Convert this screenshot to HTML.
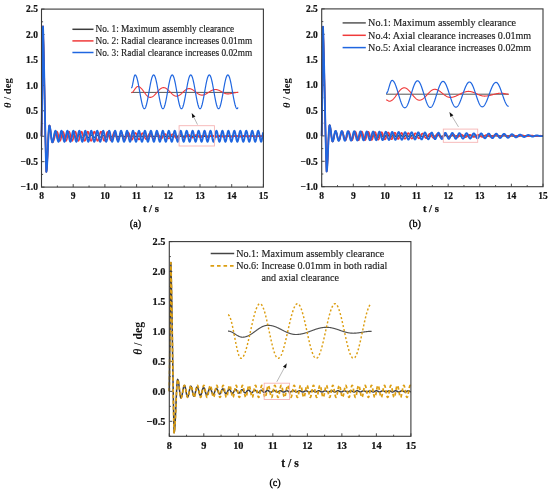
<!DOCTYPE html>
<html><head><meta charset="utf-8"><style>html,body{margin:0;padding:0;background:#fff}svg{display:block}</style></head>
<body><svg width="550" height="494" viewBox="0 0 550 494">
<rect width="550" height="494" fill="#ffffff"/>
<g font-family="'Liberation Serif','Times New Roman',serif" fill="#111">
<path d="M41.5 187.1h3M41.5 174.39h1.6M41.5 161.67h3M41.5 148.96h1.6M41.5 136.24h3M41.5 123.53h1.6M41.5 110.81h3M41.5 98.1h1.6M41.5 85.39h3M41.5 72.67h1.6M41.5 59.96h3M41.5 47.24h1.6M41.5 34.53h3M41.5 21.81h1.6M41.5 9.1h3M41.5 187.1v-3M57.35 187.1v-1.6M73.2 187.1v-3M89.05 187.1v-1.6M104.9 187.1v-3M120.75 187.1v-1.6M136.6 187.1v-3M152.45 187.1v-1.6M168.3 187.1v-3M184.15 187.1v-1.6M200 187.1v-3M215.85 187.1v-1.6M231.7 187.1v-3M247.55 187.1v-1.6M263.4 187.1v-3" stroke="#3a3a3a" stroke-width="0.9" fill="none"/>
<text x="37.9" y="190.33" text-anchor="end" font-size="9.5" font-weight="bold" stroke="#111" stroke-width="0.2">−1.0</text>
<text x="37.9" y="164.9" text-anchor="end" font-size="9.5" font-weight="bold" stroke="#111" stroke-width="0.2">−0.5</text>
<text x="37.9" y="139.47" text-anchor="end" font-size="9.5" font-weight="bold" stroke="#111" stroke-width="0.2">0.0</text>
<text x="37.9" y="114.04" text-anchor="end" font-size="9.5" font-weight="bold" stroke="#111" stroke-width="0.2">0.5</text>
<text x="37.9" y="88.62" text-anchor="end" font-size="9.5" font-weight="bold" stroke="#111" stroke-width="0.2">1.0</text>
<text x="37.9" y="63.19" text-anchor="end" font-size="9.5" font-weight="bold" stroke="#111" stroke-width="0.2">1.5</text>
<text x="37.9" y="37.76" text-anchor="end" font-size="9.5" font-weight="bold" stroke="#111" stroke-width="0.2">2.0</text>
<text x="37.9" y="12.33" text-anchor="end" font-size="9.5" font-weight="bold" stroke="#111" stroke-width="0.2">2.5</text>
<text x="41.5" y="198.8" text-anchor="middle" font-size="9.5" font-weight="bold" stroke="#111" stroke-width="0.2">8</text>
<text x="73.2" y="198.8" text-anchor="middle" font-size="9.5" font-weight="bold" stroke="#111" stroke-width="0.2">9</text>
<text x="104.9" y="198.8" text-anchor="middle" font-size="9.5" font-weight="bold" stroke="#111" stroke-width="0.2">10</text>
<text x="136.6" y="198.8" text-anchor="middle" font-size="9.5" font-weight="bold" stroke="#111" stroke-width="0.2">11</text>
<text x="168.3" y="198.8" text-anchor="middle" font-size="9.5" font-weight="bold" stroke="#111" stroke-width="0.2">12</text>
<text x="200" y="198.8" text-anchor="middle" font-size="9.5" font-weight="bold" stroke="#111" stroke-width="0.2">13</text>
<text x="231.7" y="198.8" text-anchor="middle" font-size="9.5" font-weight="bold" stroke="#111" stroke-width="0.2">14</text>
<text x="263.4" y="198.8" text-anchor="middle" font-size="9.5" font-weight="bold" stroke="#111" stroke-width="0.2">15</text>
<text x="150.9" y="212.3" text-anchor="middle" font-size="10.7" font-weight="bold" stroke="#111" stroke-width="0.25">t / s</text>
<text transform="translate(10.6 93.1) rotate(-90)" text-anchor="middle" font-size="10.7" font-weight="bold"><tspan font-style="italic">θ</tspan> / deg</text>
<text x="135.4" y="226.6" text-anchor="middle" font-size="10.1" fill="#000" stroke="#000" stroke-width="0.35">(a)</text>
<path d="M321.7 186.7h3M321.7 174h1.6M321.7 161.3h3M321.7 148.6h1.6M321.7 135.9h3M321.7 123.2h1.6M321.7 110.5h3M321.7 97.8h1.6M321.7 85.1h3M321.7 72.4h1.6M321.7 59.7h3M321.7 47h1.6M321.7 34.3h3M321.7 21.6h1.6M321.7 8.9h3M321.7 186.7v-3M337.51 186.7v-1.6M353.31 186.7v-3M369.12 186.7v-1.6M384.93 186.7v-3M400.74 186.7v-1.6M416.54 186.7v-3M432.35 186.7v-1.6M448.16 186.7v-3M463.96 186.7v-1.6M479.77 186.7v-3M495.58 186.7v-1.6M511.39 186.7v-3M527.19 186.7v-1.6M543 186.7v-3" stroke="#3a3a3a" stroke-width="0.9" fill="none"/>
<text x="317.8" y="189.93" text-anchor="end" font-size="9.5" font-weight="bold" stroke="#111" stroke-width="0.2">−1.0</text>
<text x="317.8" y="164.53" text-anchor="end" font-size="9.5" font-weight="bold" stroke="#111" stroke-width="0.2">−0.5</text>
<text x="317.8" y="139.13" text-anchor="end" font-size="9.5" font-weight="bold" stroke="#111" stroke-width="0.2">0.0</text>
<text x="317.8" y="113.73" text-anchor="end" font-size="9.5" font-weight="bold" stroke="#111" stroke-width="0.2">0.5</text>
<text x="317.8" y="88.33" text-anchor="end" font-size="9.5" font-weight="bold" stroke="#111" stroke-width="0.2">1.0</text>
<text x="317.8" y="62.93" text-anchor="end" font-size="9.5" font-weight="bold" stroke="#111" stroke-width="0.2">1.5</text>
<text x="317.8" y="37.53" text-anchor="end" font-size="9.5" font-weight="bold" stroke="#111" stroke-width="0.2">2.0</text>
<text x="317.8" y="12.13" text-anchor="end" font-size="9.5" font-weight="bold" stroke="#111" stroke-width="0.2">2.5</text>
<text x="321.7" y="199" text-anchor="middle" font-size="9.5" font-weight="bold" stroke="#111" stroke-width="0.2">8</text>
<text x="353.31" y="199" text-anchor="middle" font-size="9.5" font-weight="bold" stroke="#111" stroke-width="0.2">9</text>
<text x="384.93" y="199" text-anchor="middle" font-size="9.5" font-weight="bold" stroke="#111" stroke-width="0.2">10</text>
<text x="416.54" y="199" text-anchor="middle" font-size="9.5" font-weight="bold" stroke="#111" stroke-width="0.2">11</text>
<text x="448.16" y="199" text-anchor="middle" font-size="9.5" font-weight="bold" stroke="#111" stroke-width="0.2">12</text>
<text x="479.77" y="199" text-anchor="middle" font-size="9.5" font-weight="bold" stroke="#111" stroke-width="0.2">13</text>
<text x="511.39" y="199" text-anchor="middle" font-size="9.5" font-weight="bold" stroke="#111" stroke-width="0.2">14</text>
<text x="543" y="199" text-anchor="middle" font-size="9.5" font-weight="bold" stroke="#111" stroke-width="0.2">15</text>
<text x="430.9" y="212" text-anchor="middle" font-size="10.7" font-weight="bold" stroke="#111" stroke-width="0.25">t / s</text>
<text transform="translate(290.2 93.1) rotate(-90)" text-anchor="middle" font-size="10.7" font-weight="bold"><tspan font-style="italic">θ</tspan> / deg</text>
<text x="415" y="226.8" text-anchor="middle" font-size="10.1" fill="#000" stroke="#000" stroke-width="0.35">(b)</text>
<path d="M169.3 436.3h1.6M169.3 421.32h3M169.3 406.35h1.6M169.3 391.37h3M169.3 376.39h1.6M169.3 361.42h3M169.3 346.44h1.6M169.3 331.46h3M169.3 316.48h1.6M169.3 301.51h3M169.3 286.53h1.6M169.3 271.55h3M169.3 256.58h1.6M169.3 241.6h3M169.3 436.3v-3M186.56 436.3v-1.6M203.81 436.3v-3M221.07 436.3v-1.6M238.33 436.3v-3M255.59 436.3v-1.6M272.84 436.3v-3M290.1 436.3v-1.6M307.36 436.3v-3M324.61 436.3v-1.6M341.87 436.3v-3M359.13 436.3v-1.6M376.39 436.3v-3M393.64 436.3v-1.6M410.9 436.3v-3" stroke="#3a3a3a" stroke-width="0.9" fill="none"/>
<text x="165.4" y="424.83" text-anchor="end" font-size="10.3" font-weight="bold" stroke="#111" stroke-width="0.2">−0.5</text>
<text x="165.4" y="394.87" text-anchor="end" font-size="10.3" font-weight="bold" stroke="#111" stroke-width="0.2">0.0</text>
<text x="165.4" y="364.92" text-anchor="end" font-size="10.3" font-weight="bold" stroke="#111" stroke-width="0.2">0.5</text>
<text x="165.4" y="334.96" text-anchor="end" font-size="10.3" font-weight="bold" stroke="#111" stroke-width="0.2">1.0</text>
<text x="165.4" y="305.01" text-anchor="end" font-size="10.3" font-weight="bold" stroke="#111" stroke-width="0.2">1.5</text>
<text x="165.4" y="275.06" text-anchor="end" font-size="10.3" font-weight="bold" stroke="#111" stroke-width="0.2">2.0</text>
<text x="165.4" y="245.1" text-anchor="end" font-size="10.3" font-weight="bold" stroke="#111" stroke-width="0.2">2.5</text>
<text x="169.3" y="448.6" text-anchor="middle" font-size="10.3" font-weight="bold" stroke="#111" stroke-width="0.2">8</text>
<text x="203.81" y="448.6" text-anchor="middle" font-size="10.3" font-weight="bold" stroke="#111" stroke-width="0.2">9</text>
<text x="238.33" y="448.6" text-anchor="middle" font-size="10.3" font-weight="bold" stroke="#111" stroke-width="0.2">10</text>
<text x="272.84" y="448.6" text-anchor="middle" font-size="10.3" font-weight="bold" stroke="#111" stroke-width="0.2">11</text>
<text x="307.36" y="448.6" text-anchor="middle" font-size="10.3" font-weight="bold" stroke="#111" stroke-width="0.2">12</text>
<text x="341.87" y="448.6" text-anchor="middle" font-size="10.3" font-weight="bold" stroke="#111" stroke-width="0.2">13</text>
<text x="376.39" y="448.6" text-anchor="middle" font-size="10.3" font-weight="bold" stroke="#111" stroke-width="0.2">14</text>
<text x="410.9" y="448.6" text-anchor="middle" font-size="10.3" font-weight="bold" stroke="#111" stroke-width="0.2">15</text>
<text x="290" y="467.3" text-anchor="middle" font-size="11.6" font-weight="bold" stroke="#111" stroke-width="0.25">t / s</text>
<text transform="translate(142.2 338.3) rotate(-90)" text-anchor="middle" font-size="11.7" font-weight="bold"><tspan font-style="italic">θ</tspan> / deg</text>
<text x="275" y="486.2" text-anchor="middle" font-size="10.1" fill="#000" stroke="#000" stroke-width="0.35">(c)</text>
<path d="M41.5 136.24L41.75 121.77L42 102.83L42.25 81.32L42.5 59.8L42.75 40.87L43 26.39L43.25 34.4L43.51 43.85L43.76 54.61L44.02 66.48L44.27 79.18L44.52 92.41L44.78 105.82L45.03 119.05L45.28 131.76L45.54 143.62L45.79 154.38L46.05 163.83L46.3 171.84L46.56 171.05L46.82 168.74L47.07 165.07L47.33 160.27L47.59 154.69L47.85 148.7L48.11 142.71L48.37 137.13L48.62 132.34L48.88 128.66L49.14 126.35L49.4 125.56L49.65 125.85L49.9 126.69L50.15 128.02L50.4 129.76L50.65 131.78L50.9 133.95L51.15 136.13L51.4 138.15L51.65 139.89L51.9 141.22L52.15 142.06L52.4 142.35L52.65 142.16L52.9 141.61L53.15 140.73L53.4 139.59L53.65 138.26L53.9 136.83L54.15 135.41L54.4 134.08L54.65 132.94L54.9 132.06L55.15 131.51L55.4 131.32L55.65 131.48L55.9 131.94L56.15 132.68L56.4 133.64L56.65 134.76L56.9 135.96L57.15 137.17L57.4 138.29L57.65 139.25L57.9 139.99L58.15 140.45L58.4 140.61L58.65 140.47L58.9 140.06L59.15 139.4L59.4 138.55L59.65 137.56L59.9 136.49L60.15 135.42L60.4 134.43L60.65 133.58L60.9 132.92L61.15 132.51L61.4 132.37L61.65 132.5L61.9 132.86L62.15 133.44L62.4 134.2L62.65 135.08L62.9 136.02L63.15 136.97L63.4 137.85L63.65 138.61L63.9 139.19L64.15 139.55L64.4 139.68L64.65 139.57L64.9 139.24L65.15 138.73L65.4 138.06L65.65 137.28L65.9 136.44L66.15 135.6L66.4 134.82L66.65 134.15L66.9 133.63L67.15 133.31L67.4 133.2L67.65 133.3L67.9 133.58L68.15 134.04L68.4 134.63L68.65 135.33L68.9 136.07L69.15 136.81L69.4 137.51L69.65 138.1L69.9 138.56L70.15 138.85L70.4 138.94L70.65 138.86L70.9 138.6L71.15 138.2L71.4 137.67L71.65 137.05L71.9 136.4L72.15 135.74L72.4 135.12L72.65 134.59L72.9 134.19L73.15 133.93L73.4 133.85L73.65 133.92L73.9 134.15L74.15 134.51L74.4 134.98L74.65 135.52L74.9 136.11L75.15 136.69L75.4 137.24L75.65 137.71L75.9 138.06L76.15 138.29L76.4 138.37L76.65 138.3L76.9 138.1L77.15 137.78L77.4 137.37L77.65 136.88L77.9 136.36L78.15 135.84L78.4 135.36L78.65 134.95L78.9 134.63L79.15 134.43L79.4 134.36L79.65 134.42L79.9 134.6L80.15 134.88L80.4 135.25L80.65 135.68L80.9 136.14L81.15 136.6L81.4 137.03L81.65 137.39L81.9 137.68L82.15 137.85L82.4 137.91L82.65 137.86L82.9 137.7L83.15 137.45L83.4 137.13L83.65 136.75L83.9 136.34L84.15 135.93L84.4 135.55L84.65 135.22L84.9 134.97L85.15 134.81L85.4 134.76L85.65 134.81L85.9 134.95L86.15 135.17L86.4 135.46L86.65 135.8L86.9 136.16L87.15 136.52L87.4 136.86L87.65 137.15L87.9 137.37L88.15 137.51L88.4 137.56L88.65 137.52L88.9 137.39L89.15 137.19L89.4 136.94L89.65 136.64L89.9 136.32L90.15 136L90.4 135.7L90.65 135.44L90.9 135.24L91.15 135.12L91.4 135.08L91.65 135.11L91.9 135.22L92.15 135.4L92.4 135.63L92.65 135.89L92.9 136.18L93.15 136.46L93.4 136.73L93.65 136.95L93.9 137.13L94.15 137.24L94.4 137.28L94.65 137.24L94.9 137.15L95.15 136.99L95.4 136.79L95.65 136.55L95.9 136.3L96.15 136.05L96.4 135.81L96.65 135.61L96.9 135.46L97.15 135.36L97.4 135.33L97.65 135.36L97.9 135.44L98.15 135.58L98.4 135.76L98.65 135.97L98.9 136.19L99.15 136.41L99.4 136.62L99.65 136.8L99.9 136.94L100.15 137.03L100.4 137.06L100.65 137.03L100.9 136.95L101.15 136.83L101.4 136.67L101.65 136.49L101.9 136.29L102.15 136.09L102.4 135.91L102.65 135.75L102.9 135.62L103.15 135.55L103.4 135.52L103.65 135.54L103.9 135.61L104.15 135.72L104.4 135.86L104.65 136.03L104.9 136.2L105.15 136.38L105.4 136.54L105.65 136.68L105.9 136.79L106.15 136.86L106.4 136.88L106.65 136.86L106.9 136.8L107.15 136.71L107.4 136.58L107.65 136.44L107.9 136.28L108.15 136.12L108.4 135.98L108.65 135.85L108.9 135.76L109.15 135.7L109.4 135.68L109.65 135.69L109.9 135.75L110.15 135.83L110.4 135.94L110.65 136.07L110.9 136.21L111.15 136.35L111.4 136.48L111.65 136.59L111.9 136.67L112.15 136.73L112.4 136.75L112.65 136.73L112.9 136.68L113.15 136.61L113.4 136.51L113.65 136.39L113.9 136.27L114.15 136.15L114.4 136.03L114.65 135.94L114.9 135.86L115.15 135.81L115.4 135.8L115.65 135.81L115.9 135.85L116.15 135.92L116.4 136.01L116.65 136.11L116.9 136.22L117.15 136.33L117.4 136.43L117.65 136.52L117.9 136.58L118.15 136.62L118.4 136.64L118.65 136.63L118.9 136.59L119.15 136.53L119.4 136.45L119.65 136.36L119.9 136.27L120.15 136.17L120.4 136.08L120.65 136L120.9 135.94L121.15 135.9L121.4 135.89L121.65 135.9L121.9 135.94L122.15 135.99L122.4 136.06L122.65 136.14L122.9 136.22L123.15 136.31L123.4 136.39L123.65 136.46L123.9 136.51L124.15 136.54L124.4 136.55L124.65 136.54L124.9 136.51L125.15 136.47L125.4 136.41L125.65 136.34L125.9 136.26L126.15 136.18L126.4 136.11L126.65 136.05L126.9 136.01L127.15 135.98L127.4 135.97L127.65 135.98L127.9 136L128.15 136.04L128.4 136.1L128.65 136.16L128.9 136.23L129.15 136.29L129.4 136.36L129.65 136.41L129.9 136.45L130.15 136.48L130.4 136.49L130.65 136.48L130.9 136.46L131.15 136.42L131.4 136.37L131.65 136.32L131.9 136.26L132.15 136.2L132.4 136.14L132.65 136.09L132.9 136.06L133.15 136.03L133.4 136.03L133.65 136.03L133.9 136.05L134.15 136.09L134.4 136.13L134.65 136.18L134.9 136.23L135.15 136.28L135.4 136.33L135.65 136.38L135.9 136.41L136.15 136.43L136.4 136.44L136.65 136.43L136.9 136.41L137.15 136.38L137.4 136.34L137.65 136.3L137.9 136.25L138.15 136.21L138.4 136.16L138.65 136.13L138.9 136.1L139.15 136.08L139.4 136.07L139.65 136.08L139.9 136.09L140.15 136.12L140.4 136.15L140.65 136.19L140.9 136.23L141.15 136.27L141.4 136.31L141.65 136.35L141.9 136.37L142.15 136.39L142.4 136.39L142.65 136.39L142.9 136.38L143.15 136.35L143.4 136.32L143.65 136.29L143.9 136.25L144.15 136.21L144.4 136.18L144.65 136.15L144.9 136.13L145.15 136.11L145.4 136.11L145.65 136.11L145.9 136.13L146.15 136.15L146.4 136.17L146.65 136.2L146.9 136.24L147.15 136.27L147.4 136.3L147.65 136.32L147.9 136.35L148.15 136.36L148.4 136.36L148.65 136.36L148.9 136.35L149.15 136.33L149.4 136.31L149.65 136.28L149.9 136.25L150.15 136.22L150.4 136.19L150.65 136.17L150.9 136.15L151.15 136.14L151.4 136.14L151.65 136.14L151.9 136.15L152.15 136.17L152.4 136.19L152.65 136.21L152.9 136.24L153.15 136.26L153.4 136.29L153.65 136.31L153.9 136.32L154.15 136.33L154.4 136.34L154.65 136.33L154.9 136.32L155.15 136.31L155.4 136.29L155.65 136.27L155.9 136.25L156.15 136.23L156.4 136.2L156.65 136.19L156.9 136.17L157.15 136.16L157.4 136.16L157.65 136.16L157.9 136.17L158.15 136.18L158.4 136.2L158.65 136.22L158.9 136.24L159.15 136.26L159.4 136.28L159.65 136.29L159.9 136.31L160.15 136.31L160.4 136.32L160.65 136.31L160.9 136.31L161.15 136.3L161.4 136.28L161.65 136.27L161.9 136.25L162.15 136.23L162.4 136.21L162.65 136.2L162.9 136.19L163.15 136.18L163.4 136.18L163.65 136.18L163.9 136.19L164.15 136.2L164.4 136.21L164.65 136.22L164.9 136.24L165.15 136.26L165.4 136.27L165.65 136.28L165.9 136.29L166.15 136.3L166.4 136.3L166.65 136.3L166.9 136.29L167.15 136.28L167.4 136.27L167.65 136.26L167.9 136.25L168.15 136.23L168.4 136.22L168.65 136.21L168.9 136.2L169.15 136.19L169.4 136.19L169.65 136.19L169.9 136.2L170.15 136.21L170.4 136.22L170.65 136.23L170.9 136.24L171.15 136.25L171.4 136.26L171.65 136.27L171.9 136.28L172.15 136.29L172.4 136.29L172.65 136.29L172.9 136.28L173.15 136.28L173.4 136.27L173.65 136.26L173.9 136.25L174.15 136.23L174.4 136.22L174.65 136.21L174.9 136.21L175.15 136.2L175.4 136.2L175.65 136.2L175.9 136.21L176.15 136.21L176.4 136.22L176.65 136.23L176.9 136.24L177.15 136.25L177.4 136.26L177.65 136.27L177.9 136.27L178.15 136.28L178.4 136.28L178.65 136.28L178.9 136.27L179.15 136.27L179.4 136.26L179.65 136.25L179.9 136.24L180.15 136.24L180.4 136.23L180.65 136.22L180.9 136.22L181.15 136.21L181.4 136.21L181.65 136.21L181.9 136.22L182.15 136.22L182.4 136.23L182.65 136.23L182.9 136.24L183.15 136.25L183.4 136.26L183.65 136.26L183.9 136.27L184.15 136.27L184.4 136.27L184.65 136.27L184.9 136.27L185.15 136.26L185.4 136.26L185.65 136.25L185.9 136.24L186.15 136.24L186.4 136.23L186.65 136.23L186.9 136.22L187.15 136.22L187.4 136.22L187.65 136.22L187.9 136.22L188.15 136.22L188.4 136.23L188.65 136.24L188.9 136.24L189.15 136.25L189.4 136.25L189.65 136.26L189.9 136.26L190.15 136.26L190.4 136.27L190.65 136.26L190.9 136.26L191.15 136.26L191.4 136.25L191.65 136.25L191.9 136.24L192.15 136.24L192.4 136.23L192.65 136.23L192.9 136.23L193.15 136.22L193.4 136.22L193.65 136.22L193.9 136.23L194.15 136.23L194.4 136.23L194.65 136.24L194.9 136.24L195.15 136.25L195.4 136.25L195.65 136.25L195.9 136.26L196.15 136.26L196.4 136.26L196.65 136.26L196.9 136.26L197.15 136.26L197.4 136.25L197.65 136.25L197.9 136.24L198.15 136.24L198.4 136.24L198.65 136.23L198.9 136.23L199.15 136.23L199.4 136.23L199.65 136.23L199.9 136.23L200.15 136.23L200.4 136.23L200.65 136.24L200.9 136.24L201.15 136.25L201.4 136.25L201.65 136.25L201.9 136.25L202.15 136.26L202.4 136.26L202.65 136.26L202.9 136.25L203.15 136.25L203.4 136.25L203.65 136.25L203.9 136.24L204.15 136.24L204.4 136.24L204.65 136.23L204.9 136.23L205.15 136.23L205.4 136.23L205.65 136.23L205.9 136.23L206.15 136.23L206.4 136.24L206.65 136.24L206.9 136.24L207.15 136.25L207.4 136.25L207.65 136.25L207.9 136.25L208.15 136.25L208.4 136.25L208.65 136.25L208.9 136.25L209.15 136.25L209.4 136.25L209.65 136.25L209.9 136.24L210.15 136.24L210.4 136.24L210.65 136.24L210.9 136.23L211.15 136.23L211.4 136.23L211.65 136.23L211.9 136.23L212.15 136.24L212.4 136.24L212.65 136.24L212.9 136.24L213.15 136.24L213.4 136.25L213.65 136.25L213.9 136.25L214.15 136.25L214.4 136.25L214.65 136.25L214.9 136.25L215.15 136.25L215.4 136.25L215.65 136.25L215.9 136.24L216.15 136.24L216.4 136.24L216.65 136.24L216.9 136.24L217.15 136.24L217.4 136.24L217.65 136.24L217.9 136.24L218.15 136.24L218.4 136.24L218.65 136.24L218.9 136.24L219.15 136.24L219.4 136.25L219.65 136.25L219.9 136.25L220.15 136.25L220.4 136.25L220.65 136.25L220.9 136.25L221.15 136.25L221.4 136.25L221.65 136.24L221.9 136.24L222.15 136.24L222.4 136.24L222.65 136.24L222.9 136.24L223.15 136.24L223.4 136.24L223.65 136.24L223.9 136.24L224.15 136.24L224.4 136.24L224.65 136.24L224.9 136.24L225.15 136.24L225.4 136.25L225.65 136.25L225.9 136.25L226.15 136.25L226.4 136.25L226.65 136.25L226.9 136.25L227.15 136.25L227.4 136.25L227.65 136.24L227.9 136.24L228.15 136.24L228.4 136.24L228.65 136.24L228.9 136.24L229.15 136.24L229.4 136.24L229.65 136.24L229.9 136.24L230.15 136.24L230.4 136.24L230.65 136.24L230.9 136.24L231.15 136.24L231.4 136.24L231.65 136.25L231.9 136.25L232.15 136.25L232.4 136.25L232.65 136.25L232.9 136.25L233.15 136.25L233.4 136.25L233.65 136.24L233.9 136.24L234.15 136.24L234.4 136.24L234.65 136.24L234.9 136.24L235.15 136.24L235.4 136.24L235.65 136.24L235.9 136.24L236.15 136.24L236.4 136.24L236.65 136.24L236.9 136.24L237.15 136.24L237.4 136.24L237.65 136.25L237.9 136.25L238.15 136.25L238.4 136.25L238.65 136.25L238.9 136.25L239.15 136.25L239.4 136.24L239.65 136.24L239.9 136.24L240.15 136.24L240.4 136.24L240.65 136.24L240.9 136.24L241.15 136.24L241.4 136.24L241.65 136.24L241.9 136.24L242.15 136.24L242.4 136.24L242.65 136.24L242.9 136.24L243.15 136.24L243.4 136.24L243.65 136.24L243.9 136.25L244.15 136.25L244.4 136.25L244.65 136.25L244.9 136.25L245.15 136.24L245.4 136.24L245.65 136.24L245.9 136.24L246.15 136.24L246.4 136.24L246.65 136.24L246.9 136.24L247.15 136.24L247.4 136.24L247.65 136.24L247.9 136.24L248.15 136.24L248.4 136.24L248.65 136.24L248.9 136.24L249.15 136.24L249.4 136.24L249.65 136.24L249.9 136.24L250.15 136.24L250.4 136.24L250.65 136.24L250.9 136.24L251.15 136.24L251.4 136.24L251.65 136.24L251.9 136.24L252.15 136.24L252.4 136.24L252.65 136.24L252.9 136.24L253.15 136.24L253.4 136.24L253.67 136.24L253.95 136.24L254.22 136.24L254.49 136.24L254.76 136.24L255.04 136.24L255.31 136.24L255.58 136.24L255.85 136.24L256.13 136.24L256.4 136.24L256.65 136.24L256.9 136.24L257.15 136.24L257.4 136.24L257.65 136.24L257.9 136.24L258.15 136.24L258.4 136.24L258.65 136.24L258.9 136.24L259.15 136.24L259.4 136.24L259.65 136.24L259.9 136.24L260.15 136.24L260.4 136.24L260.65 136.24L260.9 136.24L261.15 136.24L261.4 136.24L261.65 136.24L261.9 136.24L262.15 136.24L262.4 136.24L262.65 136.24L262.9 136.24L263.15 136.24L263.4 136.24" stroke="#3c3c3c" stroke-width="1.3" fill="none" stroke-linejoin="round" />
<path d="M41.5 136.24L41.75 121.77L42 102.83L42.25 81.32L42.5 59.8L42.75 40.87L43 26.39L43.25 34.4L43.51 43.85L43.76 54.61L44.02 66.48L44.27 79.18L44.52 92.41L44.78 105.82L45.03 119.05L45.28 131.76L45.54 143.62L45.79 154.38L46.05 163.83L46.3 171.84L46.56 171.05L46.82 168.74L47.07 165.07L47.33 160.27L47.59 154.69L47.85 148.7L48.11 142.71L48.37 137.13L48.62 132.34L48.88 128.66L49.14 126.35L49.4 125.56L49.65 125.85L49.9 126.69L50.15 128.02L50.4 129.76L50.65 131.78L50.9 133.95L51.15 136.13L51.4 138.15L51.65 139.89L51.9 141.22L52.15 142.06L52.4 142.35L52.66 142.26L52.91 142.02L53.17 141.63L53.42 141.09L53.68 140.43L53.93 139.67L54.19 138.82L54.44 137.92L54.7 136.99L54.96 136.07L55.21 135.16L55.47 134.32L55.72 133.55L55.98 132.89L56.23 132.36L56.49 131.97L56.74 131.72L57 131.64L57.25 131.8L57.5 132.26L57.75 132.99L58 133.94L58.25 135.05L58.5 136.24L58.75 137.43L59 138.54L59.25 139.5L59.5 140.23L59.75 140.69L60 140.84L60.25 140.69L60.5 140.23L60.75 139.5L61 138.54L61.25 137.43L61.5 136.24L61.75 135.05L62 133.94L62.25 132.99L62.5 132.26L62.75 131.8L63 131.64L63.25 131.8L63.5 132.26L63.76 132.99L64.01 133.94L64.26 135.05L64.51 136.24L64.76 137.43L65.02 138.54L65.27 139.5L65.52 140.23L65.77 140.69L66.02 140.84L66.28 140.69L66.53 140.23L66.79 139.5L67.04 138.54L67.29 137.43L67.55 136.24L67.8 135.05L68.06 133.94L68.31 132.99L68.56 132.26L68.82 131.8L69.07 131.64L69.33 131.8L69.58 132.26L69.84 132.99L70.1 133.94L70.35 135.05L70.61 136.24L70.86 137.43L71.12 138.54L71.38 139.5L71.63 140.23L71.89 140.69L72.14 140.84L72.4 140.69L72.66 140.23L72.92 139.5L73.18 138.54L73.43 137.43L73.69 136.24L73.95 135.05L74.21 133.94L74.47 132.99L74.72 132.26L74.98 131.8L75.24 131.64L75.5 131.8L75.76 132.26L76.02 132.99L76.28 133.94L76.54 135.05L76.8 136.24L77.06 137.43L77.32 138.54L77.58 139.5L77.84 140.23L78.1 140.69L78.36 140.84L78.62 140.69L78.88 140.23L79.15 139.5L79.41 138.54L79.67 137.43L79.93 136.24L80.19 135.05L80.46 133.94L80.72 132.99L80.98 132.26L81.24 131.8L81.51 131.64L81.77 131.8L82.03 132.26L82.3 132.99L82.56 133.94L82.83 135.05L83.09 136.24L83.35 137.43L83.62 138.54L83.88 139.5L84.15 140.23L84.41 140.69L84.68 140.84L84.94 140.69L85.21 140.23L85.47 139.5L85.74 138.54L86.01 137.43L86.27 136.24L86.54 135.05L86.81 133.94L87.07 132.99L87.34 132.26L87.6 131.8L87.87 131.64L88.14 131.8L88.41 132.26L88.68 132.99L88.94 133.94L89.21 135.05L89.48 136.24L89.75 137.43L90.02 138.54L90.29 139.5L90.55 140.23L90.82 140.69L91.09 140.84L91.36 140.69L91.63 140.23L91.9 139.5L92.17 138.54L92.44 137.43L92.71 136.24L92.99 135.05L93.26 133.94L93.53 132.99L93.8 132.26L94.07 131.8L94.34 131.64L94.59 131.78L94.84 132.17L95.09 132.8L95.34 133.63L95.6 134.61L95.85 135.69L96.1 136.8L96.35 137.87L96.6 138.86L96.85 139.69L97.11 140.32L97.36 140.71L97.61 140.84L97.86 140.71L98.12 140.32L98.37 139.69L98.62 138.86L98.88 137.88L99.13 136.81L99.39 135.71L99.64 134.63L99.89 133.66L100.15 132.83L100.4 132.2L100.65 131.81L100.91 131.68L101.16 131.81L101.42 132.19L101.67 132.81L101.93 133.62L102.19 134.58L102.44 135.64L102.7 136.73L102.95 137.78L103.21 138.74L103.46 139.56L103.72 140.18L103.98 140.56L104.23 140.69L104.49 140.56L104.75 140.19L105 139.59L105.26 138.8L105.52 137.86L105.78 136.83L106.04 135.77L106.29 134.75L106.55 133.81L106.81 133.02L107.07 132.42L107.32 132.04L107.58 131.91L107.84 132.04L108.1 132.4L108.36 132.99L108.62 133.76L108.88 134.67L109.14 135.67L109.4 136.7L109.66 137.7L109.92 138.61L110.18 139.38L110.44 139.96L110.7 140.33L110.96 140.45L111.22 140.33L111.48 139.98L111.74 139.41L112.01 138.66L112.27 137.77L112.53 136.8L112.79 135.8L113.05 134.83L113.31 133.95L113.58 133.2L113.84 132.63L114.1 132.28L114.36 132.15L114.63 132.27L114.89 132.62L115.15 133.17L115.42 133.89L115.68 134.75L115.94 135.7L116.21 136.67L116.47 137.61L116.74 138.47L117 139.2L117.26 139.75L117.53 140.09L117.79 140.21L118.06 140.1L118.32 139.76L118.59 139.23L118.86 138.52L119.12 137.69L119.39 136.78L119.65 135.83L119.92 134.92L120.19 134.09L120.45 133.38L120.72 132.85L120.98 132.51L121.25 132.4L121.52 132.51L121.79 132.83L122.05 133.35L122.32 134.03L122.59 134.84L122.86 135.73L123.13 136.64L123.39 137.52L123.66 138.33L123.93 139.01L124.2 139.53L124.47 139.85L124.73 139.96L124.99 139.87L125.24 139.6L125.49 139.16L125.74 138.59L125.99 137.89L126.24 137.12L126.49 136.31L126.74 135.49L126.99 134.72L127.24 134.03L127.49 133.45L127.74 133.01L128 132.74L128.25 132.65L128.5 132.74L128.75 133L129.01 133.42L129.26 133.98L129.51 134.65L129.76 135.39L130.02 136.18L130.27 136.97L130.52 137.71L130.78 138.38L131.03 138.94L131.28 139.36L131.53 139.62L131.79 139.71L132.04 139.63L132.3 139.37L132.55 138.97L132.81 138.43L133.06 137.78L133.32 137.06L133.57 136.31L133.83 135.55L134.08 134.83L134.34 134.18L134.59 133.65L134.85 133.24L135.1 132.99L135.36 132.9L135.61 132.98L135.87 133.23L136.13 133.62L136.38 134.14L136.64 134.76L136.9 135.45L137.15 136.18L137.41 136.91L137.67 137.6L137.92 138.22L138.18 138.74L138.44 139.13L138.69 139.37L138.95 139.46L139.21 139.38L139.47 139.14L139.73 138.77L139.99 138.27L140.25 137.67L140.51 137.01L140.76 136.31L141.02 135.61L141.28 134.94L141.54 134.34L141.8 133.85L142.06 133.47L142.32 133.24L142.58 133.16L142.84 133.24L143.1 133.46L143.36 133.82L143.62 134.3L143.88 134.87L144.14 135.51L144.4 136.18L144.66 136.85L144.93 137.49L145.19 138.06L145.45 138.54L145.71 138.9L145.97 139.12L146.23 139.2L146.49 139.12L146.76 138.91L147.02 138.57L147.28 138.11L147.55 137.56L147.81 136.95L148.07 136.31L148.34 135.67L148.6 135.06L148.86 134.51L149.12 134.05L149.39 133.71L149.65 133.49L149.91 133.42L150.18 133.49L150.44 133.69L150.71 134.02L150.97 134.46L151.24 134.98L151.5 135.56L151.77 136.18L152.03 136.79L152.3 137.37L152.56 137.89L152.83 138.33L153.09 138.66L153.36 138.86L153.63 138.93L153.89 138.87L154.16 138.67L154.43 138.36L154.69 137.94L154.96 137.45L155.23 136.89L155.5 136.31L155.76 135.73L156.03 135.17L156.3 134.67L156.56 134.26L156.83 133.95L157.1 133.75L157.37 133.69L157.62 133.74L157.87 133.9L158.12 134.16L158.37 134.51L158.62 134.93L158.87 135.41L159.13 135.92L159.38 136.44L159.63 136.94L159.88 137.42L160.13 137.84L160.38 138.19L160.63 138.45L160.89 138.61L161.14 138.66L161.39 138.61L161.64 138.46L161.9 138.22L162.15 137.89L162.4 137.49L162.66 137.04L162.91 136.56L163.16 136.06L163.42 135.58L163.67 135.13L163.92 134.74L164.18 134.41L164.43 134.16L164.68 134.01L164.94 133.96L165.19 134L165.45 134.15L165.7 134.38L165.96 134.69L166.21 135.07L166.47 135.49L166.73 135.94L166.98 136.41L167.24 136.86L167.49 137.28L167.75 137.66L168 137.97L168.26 138.2L168.51 138.34L168.77 138.39L169.03 138.35L169.28 138.21L169.54 138L169.8 137.7L170.06 137.35L170.31 136.95L170.57 136.53L170.83 136.09L171.09 135.67L171.34 135.27L171.6 134.92L171.86 134.63L172.11 134.41L172.37 134.28L172.63 134.23L172.89 134.27L173.15 134.4L173.41 134.6L173.67 134.87L173.93 135.2L174.19 135.57L174.45 135.97L174.71 136.38L174.96 136.77L175.22 137.15L175.48 137.47L175.74 137.75L176 137.95L176.26 138.07L176.52 138.12L176.78 138.08L177.04 137.96L177.31 137.77L177.57 137.52L177.83 137.21L178.09 136.87L178.35 136.5L178.61 136.12L178.87 135.75L179.14 135.41L179.4 135.1L179.66 134.85L179.92 134.66L180.18 134.55L180.44 134.51L180.71 134.54L180.97 134.65L181.23 134.83L181.5 135.06L181.76 135.34L182.02 135.66L182.29 136.01L182.55 136.36L182.81 136.7L183.08 137.02L183.34 137.3L183.6 137.54L183.87 137.71L184.13 137.82L184.39 137.86L184.66 137.82L184.92 137.72L185.18 137.56L185.45 137.34L185.71 137.08L185.97 136.78L186.24 136.47L186.5 136.14L186.76 135.82L187.03 135.53L187.29 135.26L187.55 135.05L187.82 134.88L188.08 134.78L188.34 134.75L188.61 134.78L188.87 134.87L189.13 135.02L189.4 135.22L189.66 135.47L189.92 135.74L190.19 136.03L190.45 136.33L190.71 136.62L190.98 136.9L191.24 137.14L191.5 137.34L191.77 137.49L192.03 137.58L192.29 137.61L192.56 137.58L192.82 137.5L193.08 137.36L193.35 137.18L193.61 136.96L193.87 136.71L194.14 136.44L194.4 136.17L194.66 135.9L194.93 135.65L195.19 135.43L195.45 135.24L195.72 135.11L195.98 135.02L196.24 134.99L196.51 135.02L196.77 135.1L197.03 135.22L197.3 135.39L197.56 135.59L197.82 135.81L198.09 136.06L198.35 136.31L198.61 136.55L198.88 136.78L199.14 136.98L199.4 137.14L199.67 137.27L199.93 137.34L200.19 137.37L200.46 137.35L200.72 137.28L200.98 137.17L201.25 137.02L201.51 136.84L201.77 136.63L202.04 136.42L202.3 136.19L202.56 135.97L202.83 135.77L203.09 135.59L203.35 135.44L203.62 135.33L203.88 135.26L204.14 135.24L204.41 135.26L204.67 135.32L204.93 135.42L205.2 135.55L205.46 135.71L205.72 135.89L205.99 136.08L206.25 136.28L206.51 136.47L206.78 136.65L207.04 136.81L207.3 136.95L207.57 137.04L207.83 137.1L208.09 137.13L208.36 137.11L208.62 137.05L208.88 136.97L209.15 136.85L209.41 136.71L209.67 136.56L209.94 136.39L210.2 136.22L210.46 136.05L210.73 135.89L210.99 135.75L211.25 135.64L211.52 135.55L211.78 135.5L212.04 135.48L212.31 135.5L212.57 135.54L212.83 135.62L213.1 135.72L213.36 135.84L213.62 135.98L213.89 136.13L214.15 136.28L214.41 136.43L214.68 136.57L214.94 136.69L215.2 136.79L215.47 136.86L215.73 136.91L215.99 136.93L216.26 136.91L216.52 136.87L216.78 136.8L217.05 136.71L217.31 136.59L217.57 136.47L217.84 136.33L218.1 136.19L218.36 136.05L218.63 135.93L218.89 135.81L219.15 135.72L219.42 135.65L219.68 135.61L219.94 135.59L220.21 135.61L220.47 135.65L220.73 135.71L221 135.8L221.26 135.91L221.52 136.03L221.79 136.16L222.05 136.29L222.31 136.42L222.58 136.54L222.84 136.65L223.1 136.74L223.37 136.81L223.63 136.85L223.89 136.86L224.16 136.85L224.42 136.81L224.68 136.75L224.95 136.66L225.21 136.56L225.47 136.45L225.74 136.32L226 136.2L226.26 136.07L226.53 135.96L226.79 135.86L227.05 135.77L227.32 135.71L227.58 135.67L227.84 135.66L228.11 135.67L228.37 135.71L228.63 135.76L228.9 135.84L229.16 135.94L229.42 136.05L229.69 136.17L229.95 136.29L230.21 136.4L230.48 136.51L230.74 136.61L231 136.69L231.27 136.75L231.53 136.79L231.79 136.8L232.06 136.79L232.32 136.75L232.58 136.69L232.85 136.62L233.11 136.53L233.37 136.43L233.64 136.32L233.9 136.2L234.16 136.09L234.43 135.99L234.69 135.9L234.95 135.82L235.22 135.77L235.48 135.73L235.74 135.72L236.01 135.73L236.27 135.76L236.53 135.82L236.8 135.89L237.06 135.97L237.32 136.07L237.59 136.17L237.85 136.28L238.11 136.38L238.38 136.48L238.64 136.57L238.9 136.64L239.17 136.69L239.43 136.72L239.69 136.73L239.96 136.72L240.22 136.69L240.48 136.64L240.75 136.58L241.01 136.5L241.27 136.41L241.54 136.31L241.8 136.21L242.06 136.11L242.33 136.02L242.59 135.94L242.85 135.88L243.12 135.83L243.38 135.8L243.64 135.78L243.91 135.79L244.17 135.82L244.43 135.87L244.7 135.93L244.96 136.01L245.22 136.09L245.49 136.18L245.75 136.27L246.01 136.36L246.28 136.45L246.54 136.52L246.8 136.58L247.07 136.63L247.33 136.66L247.59 136.67L247.86 136.66L248.12 136.63L248.38 136.59L248.65 136.53L248.91 136.46L249.17 136.39L249.44 136.3L249.7 136.22L249.96 136.13L250.23 136.05L250.49 135.98L250.75 135.93L251.02 135.88L251.28 135.86L251.54 135.85L251.81 135.86L252.07 135.88L252.33 135.92L252.6 135.97L252.86 136.04L253.12 136.11L253.39 136.19L253.65 136.27L253.91 136.34L254.18 136.42L254.44 136.48L254.7 136.53L254.97 136.57L255.23 136.6L255.49 136.6L255.76 136.6L256.02 136.57L256.28 136.54L256.55 136.49L256.81 136.43L257.07 136.37L257.34 136.3L257.6 136.22L257.86 136.15L258.13 136.09L258.39 136.03L258.65 135.98L258.92 135.94L259.18 135.92L259.44 135.91L259.71 135.92L259.97 135.94L260.23 135.97L260.5 136.02L260.76 136.07L261.02 136.13L261.29 136.2L261.55 136.26L261.81 136.33L262.08 136.39L262.34 136.44L262.6 136.48L262.87 136.52L263.13 136.54L263.39 136.54L263.4 136.54L263.4 136.54" stroke="#f03a3a" stroke-width="1.6" fill="none" stroke-linejoin="round" />
<path d="M41.5 136.24L41.75 121.77L42 102.83L42.25 81.32L42.5 59.8L42.75 40.87L43 26.39L43.25 34.4L43.51 43.85L43.76 54.61L44.02 66.48L44.27 79.18L44.52 92.41L44.78 105.82L45.03 119.05L45.28 131.76L45.54 143.62L45.79 154.38L46.05 163.83L46.3 171.84L46.56 171.05L46.82 168.74L47.07 165.07L47.33 160.27L47.59 154.69L47.85 148.7L48.11 142.71L48.37 137.13L48.62 132.34L48.88 128.66L49.14 126.35L49.4 125.56L49.65 125.85L49.9 126.69L50.15 128.02L50.4 129.76L50.65 131.78L50.9 133.95L51.15 136.13L51.4 138.15L51.65 139.89L51.9 141.22L52.15 142.06L52.4 142.35L52.66 142.15L52.92 141.57L53.17 140.65L53.43 139.46L53.69 138.06L53.95 136.57L54.21 135.07L54.47 133.68L54.73 132.48L54.98 131.57L55.24 130.99L55.5 130.79L55.77 131.01L56.04 131.66L56.31 132.67L56.58 133.98L56.86 135.47L57.13 137.02L57.4 138.51L57.67 139.81L57.94 140.83L58.21 141.47L58.48 141.69L58.75 141.47L59.02 140.83L59.29 139.81L59.57 138.51L59.84 137.02L60.11 135.47L60.38 133.98L60.65 132.67L60.92 131.66L61.19 131.01L61.46 130.79L61.73 131.01L62 131.66L62.27 132.67L62.55 133.98L62.82 135.47L63.09 137.02L63.36 138.51L63.63 139.81L63.9 140.83L64.17 141.47L64.44 141.69L64.71 141.47L64.98 140.83L65.26 139.81L65.53 138.51L65.8 137.02L66.07 135.47L66.34 133.98L66.61 132.67L66.88 131.66L67.15 131.01L67.42 130.79L67.69 131.01L67.97 131.66L68.24 132.67L68.51 133.98L68.78 135.47L69.05 137.02L69.32 138.51L69.59 139.81L69.86 140.83L70.13 141.47L70.4 141.69L70.68 141.47L70.95 140.83L71.22 139.81L71.49 138.51L71.76 137.02L72.03 135.47L72.3 133.98L72.57 132.67L72.84 131.66L73.11 131.01L73.39 130.79L73.66 131.01L73.93 131.66L74.2 132.67L74.47 133.98L74.74 135.47L75.01 137.02L75.28 138.51L75.55 139.81L75.82 140.83L76.1 141.47L76.37 141.69L76.64 141.47L76.91 140.83L77.18 139.81L77.45 138.51L77.72 137.02L77.99 135.47L78.26 133.98L78.53 132.67L78.81 131.66L79.08 131.01L79.35 130.79L79.62 131.01L79.89 131.66L80.16 132.67L80.43 133.98L80.7 135.47L80.97 137.02L81.24 138.51L81.52 139.81L81.79 140.83L82.06 141.47L82.33 141.69L82.6 141.47L82.87 140.83L83.14 139.81L83.41 138.51L83.68 137.02L83.95 135.47L84.23 133.98L84.5 132.67L84.77 131.66L85.04 131.01L85.31 130.79L85.58 131.01L85.85 131.66L86.12 132.67L86.39 133.98L86.66 135.47L86.94 137.02L87.21 138.51L87.48 139.81L87.75 140.83L88.02 141.47L88.29 141.69L88.56 141.47L88.83 140.83L89.1 139.81L89.37 138.51L89.65 137.02L89.92 135.47L90.19 133.98L90.46 132.67L90.73 131.66L91 131.01L91.27 130.79L91.54 131.01L91.81 131.66L92.08 132.67L92.36 133.98L92.63 135.47L92.9 137.02L93.17 138.51L93.44 139.81L93.71 140.83L93.98 141.47L94.25 141.69L94.52 141.47L94.79 140.83L95.07 139.81L95.34 138.51L95.61 137.02L95.88 135.47L96.15 133.98L96.42 132.67L96.69 131.66L96.96 131.01L97.23 130.79L97.5 131.01L97.78 131.66L98.05 132.67L98.32 133.98L98.59 135.47L98.86 137.02L99.13 138.51L99.4 139.81L99.67 140.83L99.94 141.47L100.21 141.69L100.49 141.47L100.76 140.83L101.03 139.81L101.3 138.51L101.57 137.02L101.84 135.47L102.11 133.98L102.38 132.67L102.65 131.66L102.92 131.01L103.2 130.79L103.47 131.01L103.74 131.66L104.01 132.67L104.28 133.98L104.55 135.47L104.82 137.02L105.09 138.51L105.36 139.81L105.63 140.83L105.91 141.47L106.18 141.69L106.45 141.47L106.72 140.83L106.99 139.81L107.26 138.51L107.53 137.02L107.8 135.47L108.07 133.98L108.34 132.67L108.62 131.66L108.89 131.01L109.16 130.79L109.43 131.01L109.7 131.66L109.97 132.67L110.24 133.98L110.51 135.47L110.78 137.02L111.05 138.51L111.33 139.81L111.6 140.83L111.87 141.47L112.14 141.69L112.41 141.47L112.68 140.83L112.95 139.81L113.22 138.51L113.49 137.02L113.76 135.47L114.04 133.98L114.31 132.67L114.58 131.66L114.85 131.01L115.12 130.79L115.39 131.01L115.66 131.66L115.93 132.67L116.2 133.98L116.47 135.47L116.75 137.02L117.02 138.51L117.29 139.81L117.56 140.83L117.83 141.47L118.1 141.69L118.37 141.47L118.64 140.83L118.91 139.81L119.18 138.51L119.46 137.02L119.73 135.47L120 133.98L120.27 132.67L120.54 131.66L120.81 131.01L121.08 130.79L121.35 131.01L121.62 131.66L121.89 132.67L122.17 133.98L122.44 135.47L122.71 137.02L122.98 138.51L123.25 139.81L123.52 140.83L123.79 141.47L124.06 141.69L124.33 141.47L124.6 140.83L124.88 139.81L125.15 138.51L125.42 137.02L125.69 135.47L125.96 133.98L126.23 132.67L126.5 131.66L126.77 131.01L127.04 130.79L127.31 131.01L127.59 131.66L127.86 132.67L128.13 133.98L128.4 135.47L128.67 137.02L128.94 138.51L129.21 139.81L129.48 140.83L129.75 141.47L130.02 141.69L130.3 141.47L130.57 140.83L130.84 139.81L131.11 138.51L131.38 137.02L131.65 135.47L131.92 133.98L132.19 132.67L132.46 131.66L132.73 131.01L133.01 130.79L133.28 131.01L133.55 131.66L133.82 132.67L134.09 133.98L134.36 135.47L134.63 137.02L134.9 138.51L135.17 139.81L135.44 140.83L135.72 141.47L135.99 141.69L136.26 141.47L136.53 140.83L136.8 139.81L137.07 138.51L137.34 137.02L137.61 135.47L137.88 133.98L138.15 132.67L138.43 131.66L138.7 131.01L138.97 130.79L139.24 131.01L139.51 131.66L139.78 132.67L140.05 133.98L140.32 135.47L140.59 137.02L140.86 138.51L141.14 139.81L141.41 140.83L141.68 141.47L141.95 141.69L142.22 141.47L142.49 140.83L142.76 139.81L143.03 138.51L143.3 137.02L143.57 135.47L143.85 133.98L144.12 132.67L144.39 131.66L144.66 131.01L144.93 130.79L145.2 131.01L145.47 131.66L145.74 132.67L146.01 133.98L146.28 135.47L146.56 137.02L146.83 138.51L147.1 139.81L147.37 140.83L147.64 141.47L147.91 141.69L148.18 141.47L148.45 140.83L148.72 139.81L148.99 138.51L149.27 137.02L149.54 135.47L149.81 133.98L150.08 132.67L150.35 131.66L150.62 131.01L150.89 130.79L151.16 131.01L151.43 131.66L151.7 132.67L151.98 133.98L152.25 135.47L152.52 137.02L152.79 138.51L153.06 139.81L153.33 140.83L153.6 141.47L153.87 141.69L154.14 141.47L154.41 140.83L154.69 139.81L154.96 138.51L155.23 137.02L155.5 135.47L155.77 133.98L156.04 132.67L156.31 131.66L156.58 131.01L156.85 130.79L157.12 131.01L157.4 131.66L157.67 132.67L157.94 133.98L158.21 135.47L158.48 137.02L158.75 138.51L159.02 139.81L159.29 140.83L159.56 141.47L159.83 141.69L160.11 141.47L160.38 140.83L160.65 139.81L160.92 138.51L161.19 137.02L161.46 135.47L161.73 133.98L162 132.67L162.27 131.66L162.54 131.01L162.82 130.79L163.09 131.01L163.36 131.66L163.63 132.67L163.9 133.98L164.17 135.47L164.44 137.02L164.71 138.51L164.98 139.81L165.25 140.83L165.53 141.47L165.8 141.69L166.07 141.47L166.34 140.83L166.61 139.81L166.88 138.51L167.15 137.02L167.42 135.47L167.69 133.98L167.96 132.67L168.24 131.66L168.51 131.01L168.78 130.79L169.05 131.01L169.32 131.66L169.59 132.67L169.86 133.98L170.13 135.47L170.4 137.02L170.67 138.51L170.95 139.81L171.22 140.83L171.49 141.47L171.76 141.69L172.03 141.47L172.3 140.83L172.57 139.81L172.84 138.51L173.11 137.02L173.38 135.47L173.66 133.98L173.93 132.67L174.2 131.66L174.47 131.01L174.74 130.79L175.01 131.01L175.28 131.66L175.55 132.67L175.82 133.98L176.09 135.47L176.37 137.02L176.64 138.51L176.91 139.81L177.18 140.83L177.45 141.47L177.72 141.69L177.99 141.47L178.26 140.83L178.53 139.81L178.8 138.51L179.08 137.02L179.35 135.47L179.62 133.98L179.89 132.67L180.16 131.66L180.43 131.01L180.7 130.79L180.97 131.01L181.24 131.66L181.51 132.67L181.79 133.98L182.06 135.47L182.33 137.02L182.6 138.51L182.87 139.81L183.14 140.83L183.41 141.47L183.68 141.69L183.95 141.47L184.22 140.83L184.5 139.81L184.77 138.51L185.04 137.02L185.31 135.47L185.58 133.98L185.85 132.67L186.12 131.66L186.39 131.01L186.66 130.79L186.93 131.01L187.21 131.66L187.48 132.67L187.75 133.98L188.02 135.47L188.29 137.02L188.56 138.51L188.83 139.81L189.1 140.83L189.37 141.47L189.64 141.69L189.92 141.47L190.19 140.83L190.46 139.81L190.73 138.51L191 137.02L191.27 135.47L191.54 133.98L191.81 132.67L192.08 131.66L192.35 131.01L192.63 130.79L192.9 131.01L193.17 131.66L193.44 132.67L193.71 133.98L193.98 135.47L194.25 137.02L194.52 138.51L194.79 139.81L195.06 140.83L195.34 141.47L195.61 141.69L195.88 141.47L196.15 140.83L196.42 139.81L196.69 138.51L196.96 137.02L197.23 135.47L197.5 133.98L197.77 132.67L198.05 131.66L198.32 131.01L198.59 130.79L198.86 131.01L199.13 131.66L199.4 132.67L199.67 133.98L199.94 135.47L200.21 137.02L200.48 138.51L200.76 139.81L201.03 140.83L201.3 141.47L201.57 141.69L201.84 141.47L202.11 140.83L202.38 139.81L202.65 138.51L202.92 137.02L203.19 135.47L203.47 133.98L203.74 132.67L204.01 131.66L204.28 131.01L204.55 130.79L204.82 131.01L205.09 131.66L205.36 132.67L205.63 133.98L205.9 135.47L206.18 137.02L206.45 138.51L206.72 139.81L206.99 140.83L207.26 141.47L207.53 141.69L207.8 141.47L208.07 140.83L208.34 139.81L208.61 138.51L208.89 137.02L209.16 135.47L209.43 133.98L209.7 132.67L209.97 131.66L210.24 131.01L210.51 130.79L210.78 131.01L211.05 131.66L211.32 132.67L211.6 133.98L211.87 135.47L212.14 137.02L212.41 138.51L212.68 139.81L212.95 140.83L213.22 141.47L213.49 141.69L213.76 141.47L214.03 140.83L214.31 139.81L214.58 138.51L214.85 137.02L215.12 135.47L215.39 133.98L215.66 132.67L215.93 131.66L216.2 131.01L216.47 130.79L216.74 131.01L217.02 131.66L217.29 132.67L217.56 133.98L217.83 135.47L218.1 137.02L218.37 138.51L218.64 139.81L218.91 140.83L219.18 141.47L219.45 141.69L219.73 141.47L220 140.83L220.27 139.81L220.54 138.51L220.81 137.02L221.08 135.47L221.35 133.98L221.62 132.67L221.89 131.66L222.16 131.01L222.44 130.79L222.71 131.01L222.98 131.66L223.25 132.67L223.52 133.98L223.79 135.47L224.06 137.02L224.33 138.51L224.6 139.81L224.87 140.83L225.15 141.47L225.42 141.69L225.69 141.47L225.96 140.83L226.23 139.81L226.5 138.51L226.77 137.02L227.04 135.47L227.31 133.98L227.58 132.67L227.86 131.66L228.13 131.01L228.4 130.79L228.67 131.01L228.94 131.66L229.21 132.67L229.48 133.98L229.75 135.47L230.02 137.02L230.29 138.51L230.57 139.81L230.84 140.83L231.11 141.47L231.38 141.69L231.65 141.47L231.92 140.83L232.19 139.81L232.46 138.51L232.73 137.02L233 135.47L233.28 133.98L233.55 132.67L233.82 131.66L234.09 131.01L234.36 130.79L234.63 131.01L234.9 131.66L235.17 132.67L235.44 133.98L235.71 135.47L235.99 137.02L236.26 138.51L236.53 139.81L236.8 140.83L237.07 141.47L237.34 141.69L237.61 141.47L237.88 140.83L238.15 139.81L238.42 138.51L238.7 137.02L238.97 135.47L239.24 133.98L239.51 132.67L239.78 131.66L240.05 131.01L240.32 130.79L240.59 131.01L240.86 131.66L241.13 132.67L241.41 133.98L241.68 135.47L241.95 137.02L242.22 138.51L242.49 139.81L242.76 140.83L243.03 141.47L243.3 141.69L243.57 141.47L243.84 140.83L244.12 139.81L244.39 138.51L244.66 137.02L244.93 135.47L245.2 133.98L245.47 132.67L245.74 131.66L246.01 131.01L246.28 130.79L246.55 131.01L246.83 131.66L247.1 132.67L247.37 133.98L247.64 135.47L247.91 137.02L248.18 138.51L248.45 139.81L248.72 140.83L248.99 141.47L249.26 141.69L249.54 141.47L249.81 140.83L250.08 139.81L250.35 138.51L250.62 137.02L250.89 135.47L251.16 133.98L251.43 132.67L251.7 131.66L251.97 131.01L252.25 130.79L252.52 131.01L252.79 131.66L253.06 132.67L253.33 133.98L253.6 135.47L253.87 137.02L254.14 138.51L254.41 139.81L254.68 140.83L254.96 141.47L255.23 141.69L255.5 141.47L255.77 140.83L256.04 139.81L256.31 138.51L256.58 137.02L256.85 135.47L257.12 133.98L257.39 132.67L257.67 131.66L257.94 131.01L258.21 130.79L258.48 131.01L258.75 131.66L259.02 132.67L259.29 133.98L259.56 135.47L259.83 137.02L260.1 138.51L260.38 139.81L260.65 140.83L260.92 141.47L261.19 141.69L261.47 141.34L261.74 140.35L262.02 138.85L262.29 137.09L262.57 135.33L262.85 133.84L263.12 132.84L263.4 132.49" stroke="#1f66e0" stroke-width="1.9" fill="none" stroke-linejoin="round" />
<path d="M321.7 135.9L321.96 118.05L322.22 94.3L322.48 68.28L322.74 44.53L323 26.68L323.26 34.04L323.51 42.63L323.77 52.37L324.03 63.11L324.29 74.63L324.54 86.71L324.8 99.07L325.06 111.43L325.31 123.51L325.57 135.03L325.83 145.77L326.09 155.51L326.34 164.1L326.6 171.46L326.85 170.67L327.1 168.36L327.35 164.69L327.6 159.9L327.85 154.33L328.1 148.35L328.35 142.36L328.6 136.79L328.85 132L329.1 128.33L329.35 126.02L329.6 125.23L329.85 125.51L330.1 126.32L330.35 127.61L330.6 129.3L330.85 131.26L331.1 133.36L331.35 135.46L331.6 137.42L331.85 139.11L332.1 140.4L332.35 141.21L332.6 141.49L332.85 141.31L333.1 140.78L333.35 139.95L333.6 138.86L333.85 137.59L334.1 136.23L334.35 134.87L334.6 133.6L334.85 132.51L335.1 131.67L335.35 131.15L335.6 130.97L335.87 131.13L336.14 131.6L336.41 132.36L336.68 133.35L336.94 134.5L337.21 135.73L337.48 136.96L337.75 138.11L338.02 139.1L338.29 139.85L338.56 140.33L338.83 140.49L339.09 140.34L339.36 139.9L339.63 139.19L339.9 138.28L340.17 137.21L340.44 136.06L340.71 134.91L340.98 133.84L341.24 132.92L341.51 132.22L341.78 131.78L342.05 131.63L342.32 131.77L342.59 132.18L342.86 132.83L343.13 133.69L343.39 134.68L343.66 135.75L343.93 136.82L344.2 137.82L344.47 138.67L344.74 139.33L345.01 139.74L345.28 139.88L345.54 139.75L345.81 139.36L346.08 138.75L346.35 137.96L346.62 137.03L346.89 136.04L347.16 135.04L347.43 134.12L347.69 133.32L347.96 132.71L348.23 132.33L348.5 132.2L348.77 132.32L349.04 132.68L349.31 133.24L349.58 133.98L349.84 134.85L350.11 135.77L350.38 136.7L350.65 137.56L350.92 138.3L351.19 138.87L351.46 139.23L351.73 139.35L351.99 139.23L352.26 138.9L352.53 138.37L352.8 137.68L353.07 136.88L353.34 136.02L353.61 135.16L353.88 134.35L354.14 133.67L354.41 133.14L354.68 132.8L354.95 132.69L355.22 132.8L355.49 133.11L355.76 133.6L356.03 134.24L356.29 134.99L356.56 135.79L356.83 136.59L357.1 137.34L357.37 137.98L357.64 138.47L357.91 138.78L358.18 138.89L358.44 138.79L358.71 138.5L358.98 138.04L359.25 137.45L359.52 136.75L359.79 136L360.06 135.26L360.33 134.56L360.59 133.96L360.86 133.51L361.13 133.22L361.4 133.12L361.67 133.21L361.94 133.48L362.21 133.91L362.48 134.46L362.74 135.11L363.01 135.8L363.28 136.5L363.55 137.15L363.82 137.7L364.09 138.13L364.36 138.4L364.63 138.49L364.89 138.4L365.16 138.15L365.43 137.76L365.7 137.24L365.97 136.64L366.24 135.99L366.51 135.34L366.78 134.74L367.04 134.22L367.31 133.83L367.58 133.58L367.85 133.49L368.12 133.57L368.39 133.8L368.66 134.17L368.93 134.65L369.19 135.21L369.46 135.82L369.73 136.42L370 136.98L370.27 137.46L370.54 137.83L370.81 138.06L371.08 138.14L371.34 138.07L371.61 137.85L371.88 137.51L372.15 137.06L372.42 136.54L372.69 135.98L372.96 135.42L373.23 134.89L373.49 134.45L373.76 134.1L374.03 133.89L374.3 133.81L374.57 133.88L374.84 134.08L375.11 134.4L375.38 134.82L375.64 135.31L375.91 135.83L376.18 136.35L376.45 136.84L376.72 137.25L376.99 137.57L377.26 137.77L377.53 137.84L377.79 137.78L378.06 137.59L378.33 137.29L378.6 136.91L378.87 136.45L379.14 135.97L379.41 135.48L379.68 135.03L379.94 134.64L380.21 134.34L380.48 134.15L380.75 134.09L381.02 134.15L381.29 134.32L381.56 134.6L381.83 134.96L382.09 135.39L382.36 135.84L382.63 136.29L382.9 136.71L383.17 137.07L383.44 137.35L383.71 137.52L383.98 137.58L384.24 137.53L384.51 137.37L384.78 137.11L385.05 136.77L385.32 136.38L385.59 135.96L385.86 135.54L386.13 135.15L386.39 134.81L386.66 134.55L386.93 134.39L387.2 134.33L387.47 134.38L387.74 134.54L388.01 134.78L388.28 135.09L388.54 135.45L388.81 135.85L389.08 136.24L389.35 136.6L389.62 136.92L389.89 137.16L390.16 137.31L390.43 137.36L390.69 137.31L390.96 137.17L391.23 136.95L391.5 136.65L391.77 136.32L392.04 135.95L392.31 135.59L392.58 135.25L392.84 134.95L393.11 134.73L393.38 134.59L393.65 134.54L393.92 134.59L394.19 134.72L394.46 134.93L394.73 135.2L394.99 135.51L395.26 135.85L395.53 136.19L395.8 136.51L396.07 136.78L396.34 136.99L396.61 137.12L396.88 137.16L397.14 137.12L397.41 137L397.68 136.81L397.95 136.55L398.22 136.26L398.49 135.94L398.76 135.63L399.03 135.33L399.29 135.08L399.56 134.89L399.83 134.76L400.1 134.72L400.37 134.76L400.64 134.88L400.91 135.06L401.18 135.29L401.44 135.57L401.71 135.86L401.98 136.15L402.25 136.43L402.52 136.66L402.79 136.84L403.06 136.96L403.33 137L403.59 136.96L403.86 136.85L404.13 136.69L404.4 136.47L404.67 136.21L404.94 135.94L405.21 135.66L405.48 135.41L405.74 135.19L406.01 135.02L406.28 134.92L406.55 134.88L406.82 134.91L407.09 135.01L407.36 135.17L407.63 135.37L407.89 135.61L408.16 135.86L408.43 136.12L408.7 136.36L408.97 136.56L409.24 136.72L409.51 136.82L409.78 136.85L410.04 136.82L410.31 136.73L410.58 136.58L410.85 136.39L411.12 136.17L411.39 135.93L411.66 135.7L411.93 135.47L412.19 135.28L412.46 135.14L412.73 135.05L413 135.02L413.27 135.05L413.54 135.13L413.81 135.27L414.08 135.44L414.34 135.65L414.61 135.87L414.88 136.09L415.15 136.3L415.42 136.47L415.69 136.61L415.96 136.69L416.23 136.72L416.49 136.7L416.76 136.62L417.03 136.49L417.3 136.33L417.57 136.13L417.84 135.93L418.11 135.72L418.38 135.53L418.64 135.37L418.91 135.24L419.18 135.16L419.45 135.13L419.72 135.16L419.99 135.23L420.26 135.35L420.53 135.5L420.79 135.68L421.06 135.87L421.33 136.06L421.6 136.24L421.87 136.4L422.14 136.51L422.41 136.59L422.68 136.61L422.94 136.59L423.21 136.52L423.48 136.41L423.75 136.27L424.02 136.1L424.29 135.92L424.56 135.75L424.83 135.58L425.09 135.44L425.36 135.33L425.63 135.26L425.9 135.24L426.17 135.26L426.44 135.32L426.71 135.42L426.98 135.56L427.24 135.71L427.51 135.88L427.78 136.04L428.05 136.2L428.32 136.33L428.59 136.43L428.86 136.5L429.13 136.52L429.39 136.5L429.66 136.44L429.93 136.34L430.2 136.22L430.47 136.08L430.74 135.92L431.01 135.77L431.28 135.62L431.54 135.5L431.81 135.41L432.08 135.35L432.35 135.33L432.62 135.34L432.89 135.4L433.16 135.49L433.43 135.6L433.69 135.74L433.96 135.88L434.23 136.02L434.5 136.16L434.77 136.27L435.04 136.36L435.31 136.42L435.58 136.43L435.84 136.42L436.11 136.37L436.38 136.28L436.65 136.18L436.92 136.05L437.19 135.92L437.46 135.78L437.73 135.66L437.99 135.55L438.26 135.47L438.53 135.42L438.8 135.4L439.07 135.42L439.34 135.47L439.61 135.54L439.88 135.64L440.14 135.76L440.41 135.88L440.68 136.01L440.95 136.12L441.22 136.22L441.49 136.3L441.76 136.35L442.03 136.36L442.29 136.35L442.56 136.3L442.83 136.23L443.1 136.14L443.37 136.03L443.64 135.92L443.91 135.8L444.18 135.69L444.44 135.6L444.71 135.53L444.98 135.48L445.25 135.47L445.52 135.48L445.79 135.52L446.06 135.59L446.33 135.68L446.59 135.78L446.86 135.89L447.13 135.99L447.4 136.09L447.67 136.18L447.94 136.25L448.21 136.29L448.48 136.3L448.74 136.29L449.01 136.25L449.28 136.19L449.55 136.11L449.82 136.01L450.09 135.91L450.36 135.81L450.63 135.72L450.89 135.64L451.16 135.58L451.43 135.54L451.7 135.53L451.97 135.54L452.24 135.57L452.51 135.63L452.78 135.71L453.04 135.79L453.31 135.89L453.58 135.98L453.85 136.07L454.12 136.14L454.39 136.2L454.66 136.24L454.93 136.25L455.19 136.24L455.46 136.2L455.73 136.15L456 136.08L456.27 136L456.54 135.91L456.81 135.83L457.08 135.74L457.34 135.67L457.61 135.62L457.88 135.59L458.15 135.58L458.42 135.59L458.69 135.62L458.96 135.67L459.23 135.73L459.49 135.81L459.76 135.89L460.03 135.97L460.3 136.05L460.57 136.11L460.84 136.16L461.11 136.19L461.38 136.2L461.64 136.19L461.91 136.16L462.18 136.12L462.45 136.06L462.72 135.99L462.99 135.91L463.26 135.84L463.53 135.76L463.79 135.7L464.06 135.66L464.33 135.63L464.6 135.62L464.87 135.63L465.14 135.66L465.41 135.7L465.68 135.75L465.94 135.82L466.21 135.89L466.48 135.96L466.75 136.03L467.02 136.08L467.29 136.12L467.56 136.15L467.83 136.16L468.09 136.15L468.36 136.13L468.63 136.09L468.9 136.04L469.17 135.97L469.44 135.91L469.71 135.84L469.98 135.78L470.24 135.73L470.51 135.69L470.78 135.67L471.05 135.66L471.32 135.66L471.59 135.69L471.86 135.73L472.13 135.77L472.39 135.83L472.66 135.89L472.93 135.95L473.2 136.01L473.47 136.06L473.74 136.09L474.01 136.12L474.28 136.13L474.54 136.12L474.81 136.1L475.08 136.06L475.35 136.02L475.62 135.96L475.89 135.91L476.16 135.85L476.43 135.8L476.69 135.75L476.96 135.72L477.23 135.7L477.5 135.69L477.77 135.7L478.04 135.72L478.31 135.75L478.58 135.79L478.84 135.84L479.11 135.89L479.38 135.95L479.65 135.99L479.92 136.04L480.19 136.07L480.46 136.09L480.73 136.1L480.99 136.09L481.26 136.07L481.53 136.04L481.8 136L482.07 135.96L482.34 135.91L482.61 135.86L482.88 135.81L483.14 135.77L483.41 135.74L483.68 135.72L483.95 135.72L484.22 135.72L484.49 135.74L484.76 135.77L485.03 135.81L485.29 135.85L485.56 135.89L485.83 135.94L486.1 135.98L486.37 136.02L486.64 136.05L486.91 136.06L487.18 136.07L487.44 136.06L487.71 136.05L487.98 136.02L488.25 135.99L488.52 135.95L488.79 135.91L489.06 135.86L489.33 135.82L489.59 135.79L489.86 135.76L490.13 135.75L490.4 135.74L490.67 135.75L490.94 135.76L491.21 135.79L491.48 135.82L491.74 135.86L492.01 135.89L492.28 135.93L492.55 135.97L492.82 136L493.09 136.03L493.36 136.04L493.63 136.05L493.89 136.04L494.16 136.03L494.43 136.01L494.7 135.98L494.97 135.94L495.24 135.91L495.51 135.87L495.78 135.83L496.04 135.8L496.31 135.78L496.58 135.77L496.85 135.76L497.12 135.77L497.39 135.78L497.66 135.8L497.93 135.83L498.19 135.86L498.46 135.9L498.73 135.93L499 135.96L499.27 135.99L499.54 136.01L499.81 136.02L500.08 136.03L500.34 136.02L500.61 136.01L500.88 135.99L501.15 135.97L501.42 135.94L501.69 135.9L501.96 135.87L502.23 135.84L502.49 135.82L502.76 135.8L503.03 135.79L503.3 135.78L503.57 135.79L503.84 135.8L504.11 135.81L504.38 135.84L504.64 135.87L504.91 135.9L505.18 135.93L505.45 135.95L505.72 135.98L505.99 136L506.26 136.01L506.53 136.01L506.79 136.01L507.06 136L507.33 135.98L507.6 135.96L507.87 135.93L508.14 135.9L508.41 135.88L508.68 135.85L508.94 135.83L509.21 135.81L509.48 135.8L509.75 135.8L510.02 135.8L510.29 135.81L510.56 135.83L510.83 135.85L511.09 135.87L511.36 135.9L511.63 135.92L511.9 135.95L512.17 135.97L512.44 135.98L512.71 135.99L512.98 136L513.24 135.99L513.51 135.98L513.78 135.97L514.05 135.95L514.32 135.93L514.59 135.9L514.86 135.88L515.13 135.86L515.39 135.84L515.66 135.82L515.93 135.81L516.2 135.81L516.47 135.81L516.74 135.82L517.01 135.84L517.28 135.85L517.54 135.87L517.81 135.9L518.08 135.92L518.35 135.94L518.62 135.96L518.89 135.97L519.16 135.98L519.43 135.98L519.69 135.98L519.96 135.97L520.23 135.96L520.5 135.94L520.77 135.92L521.04 135.9L521.31 135.88L521.58 135.86L521.84 135.85L522.11 135.83L522.38 135.83L522.65 135.82L522.92 135.83L523.19 135.83L523.46 135.84L523.73 135.86L523.99 135.88L524.26 135.9L524.53 135.92L524.8 135.93L525.07 135.95L525.34 135.96L525.61 135.97L525.88 135.97L526.14 135.97L526.41 135.96L526.68 135.95L526.95 135.94L527.22 135.92L527.49 135.9L527.76 135.88L528.03 135.87L528.29 135.85L528.56 135.84L528.83 135.84L529.1 135.83L529.37 135.84L529.64 135.84L529.91 135.85L530.18 135.87L530.44 135.88L530.71 135.9L530.98 135.91L531.25 135.93L531.52 135.94L531.79 135.95L532.06 135.96L532.33 135.96L532.59 135.96L532.86 135.95L533.13 135.94L533.4 135.93L533.67 135.92L533.94 135.9L534.21 135.89L534.48 135.87L534.74 135.86L535.01 135.85L535.28 135.84L535.55 135.84L535.82 135.84L536.09 135.85L536.36 135.86L536.63 135.87L536.89 135.88L537.16 135.9L537.43 135.91L537.7 135.93L537.97 135.94L538.24 135.95L538.51 135.95L538.78 135.95L539.04 135.95L539.31 135.95L539.58 135.94L539.85 135.93L540.12 135.92L540.39 135.9L540.66 135.89L540.93 135.88L541.19 135.87L541.46 135.86L541.73 135.85L542 135.85L542.33 135.86L542.67 135.87L543 135.87" stroke="#3c3c3c" stroke-width="1.3" fill="none" stroke-linejoin="round" />
<path d="M321.7 135.9L321.96 118.05L322.22 94.3L322.48 68.28L322.74 44.53L323 26.68L323.26 34.04L323.51 42.63L323.77 52.37L324.03 63.11L324.29 74.63L324.54 86.71L324.8 99.07L325.06 111.43L325.31 123.51L325.57 135.03L325.83 145.77L326.09 155.51L326.34 164.1L326.6 171.46L326.85 170.67L327.1 168.36L327.35 164.69L327.6 159.9L327.85 154.33L328.1 148.35L328.35 142.36L328.6 136.79L328.85 132L329.1 128.33L329.35 126.02L329.6 125.23L329.85 125.51L330.1 126.32L330.35 127.61L330.6 129.3L330.85 131.26L331.1 133.36L331.35 135.46L331.6 137.42L331.85 139.11L332.1 140.4L332.35 141.21L332.6 141.49L332.85 141.32L333.1 140.81L333.35 140L333.6 138.95L333.85 137.73L334.1 136.41L334.35 135.1L334.6 133.87L334.85 132.82L335.1 132.02L335.35 131.51L335.6 131.34L335.85 131.47L336.1 131.86L336.35 132.48L336.6 133.3L336.85 134.28L337.1 135.34L337.35 136.44L337.6 137.5L337.85 138.47L338.1 139.3L338.35 139.92L338.6 140.31L338.85 140.44L339.1 140.31L339.35 139.92L339.6 139.3L339.85 138.48L340.1 137.52L340.35 136.46L340.6 135.36L340.85 134.3L341.11 133.34L341.36 132.52L341.61 131.9L341.86 131.51L342.11 131.38L342.36 131.51L342.61 131.9L342.86 132.51L343.11 133.33L343.36 134.29L343.61 135.35L343.86 136.43L344.11 137.49L344.36 138.45L344.62 139.26L344.87 139.88L345.12 140.27L345.37 140.4L345.62 140.27L345.87 139.88L346.12 139.27L346.37 138.46L346.62 137.5L346.88 136.45L347.13 135.37L347.38 134.32L347.63 133.36L347.88 132.55L348.13 131.94L348.38 131.55L348.63 131.42L348.89 131.55L349.14 131.94L349.39 132.55L349.64 133.35L349.89 134.31L350.14 135.35L350.4 136.43L350.65 137.47L350.9 138.43L351.15 139.23L351.4 139.84L351.65 140.22L351.9 140.35L352.16 140.22L352.41 139.85L352.66 139.24L352.91 138.43L353.16 137.49L353.42 136.45L353.67 135.38L353.92 134.34L354.17 133.39L354.42 132.59L354.68 131.98L354.93 131.6L355.18 131.47L355.43 131.6L355.69 131.97L355.94 132.58L356.19 133.38L356.44 134.32L356.7 135.36L356.95 136.42L357.2 137.46L357.45 138.4L357.7 139.2L357.96 139.8L358.21 140.18L358.46 140.31L358.71 140.18L358.97 139.81L359.22 139.21L359.47 138.42L359.73 137.49L359.98 136.46L360.23 135.41L360.48 134.38L360.74 133.45L360.99 132.66L361.24 132.06L361.5 131.69L361.75 131.56L362 131.68L362.25 132.05L362.51 132.64L362.76 133.41L363.01 134.32L363.27 135.33L363.52 136.36L363.77 137.37L364.03 138.28L364.28 139.05L364.53 139.64L364.79 140.01L365.04 140.13L365.29 140.01L365.55 139.65L365.8 139.08L366.05 138.33L366.31 137.44L366.56 136.46L366.81 135.45L367.07 134.47L367.32 133.58L367.57 132.83L367.83 132.26L368.08 131.9L368.34 131.78L368.59 131.9L368.84 132.24L369.1 132.8L369.35 133.53L369.6 134.4L369.86 135.35L370.11 136.34L370.37 137.29L370.62 138.16L370.87 138.89L371.13 139.45L371.38 139.79L371.64 139.91L371.89 139.8L372.15 139.46L372.4 138.92L372.65 138.2L372.91 137.36L373.16 136.43L373.42 135.48L373.67 134.55L373.93 133.71L374.18 132.99L374.43 132.45L374.69 132.11L374.94 132L375.2 132.11L375.45 132.44L375.71 132.97L375.96 133.66L376.22 134.48L376.47 135.38L376.73 136.31L376.98 137.21L377.24 138.03L377.49 138.72L377.74 139.25L378 139.58L378.25 139.69L378.51 139.58L378.76 139.26L379.02 138.75L379.27 138.08L379.53 137.28L379.79 136.41L380.04 135.5L380.3 134.63L380.55 133.83L380.81 133.16L381.06 132.65L381.32 132.33L381.57 132.22L381.83 132.32L382.08 132.63L382.34 133.13L382.59 133.79L382.85 134.56L383.1 135.41L383.36 136.28L383.61 137.13L383.87 137.9L384.13 138.56L384.38 139.05L384.64 139.36L384.89 139.47L385.15 139.37L385.4 139.07L385.66 138.59L385.92 137.95L386.17 137.2L386.43 136.38L386.68 135.53L386.94 134.71L387.2 133.96L387.45 133.32L387.71 132.84L387.96 132.54L388.22 132.44L388.48 132.54L388.73 132.83L388.99 133.3L389.24 133.91L389.5 134.64L389.76 135.44L390.01 136.26L390.27 137.05L390.53 137.78L390.78 138.39L391.04 138.86L391.29 139.15L391.55 139.25L391.81 139.16L392.06 138.87L392.32 138.42L392.58 137.83L392.83 137.12L393.09 136.35L393.35 135.55L393.6 134.78L393.86 134.08L394.12 133.48L394.37 133.03L394.63 132.75L394.89 132.65L395.15 132.75L395.4 133.02L395.66 133.46L395.92 134.03L396.17 134.71L396.43 135.46L396.69 136.23L396.94 136.98L397.2 137.66L397.46 138.24L397.72 138.68L397.97 138.95L398.23 139.04L398.49 138.95L398.75 138.69L399 138.26L399.26 137.71L399.52 137.05L399.78 136.32L400.03 135.58L400.29 134.86L400.55 134.2L400.81 133.64L401.06 133.22L401.32 132.95L401.58 132.86L401.84 132.95L402.1 133.21L402.36 133.61L402.61 134.15L402.87 134.79L403.13 135.49L403.39 136.21L403.65 136.9L403.91 137.54L404.17 138.08L404.43 138.49L404.69 138.74L404.95 138.83L405.21 138.75L405.47 138.5L405.74 138.11L406 137.59L406.26 136.97L406.53 136.3L406.79 135.61L407.05 134.93L407.31 134.32L407.58 133.8L407.84 133.41L408.1 133.16L408.36 133.08L408.63 133.16L408.9 133.39L409.16 133.77L409.43 134.27L409.7 134.86L409.96 135.51L410.23 136.18L410.49 136.83L410.76 137.42L411.03 137.92L411.29 138.3L411.56 138.53L411.83 138.61L412.08 138.55L412.33 138.35L412.58 138.03L412.83 137.61L413.08 137.11L413.33 136.55L413.58 135.96L413.83 135.36L414.08 134.8L414.33 134.3L414.58 133.88L414.83 133.56L415.08 133.36L415.33 133.3L415.59 133.36L415.84 133.55L416.1 133.85L416.35 134.26L416.6 134.74L416.86 135.28L417.11 135.84L417.36 136.41L417.62 136.95L417.87 137.43L418.13 137.84L418.38 138.14L418.63 138.33L418.89 138.39L419.15 138.33L419.4 138.15L419.66 137.86L419.92 137.48L420.17 137.01L420.43 136.5L420.69 135.96L420.95 135.41L421.2 134.9L421.46 134.44L421.72 134.05L421.98 133.76L422.23 133.58L422.49 133.52L422.75 133.58L423.01 133.75L423.27 134.03L423.53 134.4L423.79 134.84L424.05 135.33L424.32 135.84L424.58 136.36L424.84 136.85L425.1 137.29L425.36 137.66L425.62 137.94L425.88 138.11L426.14 138.17L426.4 138.11L426.67 137.95L426.93 137.68L427.2 137.33L427.46 136.91L427.73 136.45L427.99 135.95L428.25 135.46L428.52 134.99L428.78 134.57L429.05 134.22L429.31 133.96L429.57 133.79L429.84 133.74L430.11 133.79L430.37 133.95L430.64 134.2L430.91 134.53L431.18 134.93L431.44 135.38L431.71 135.85L431.98 136.32L432.25 136.76L432.52 137.16L432.78 137.49L433.05 137.75L433.32 137.9L433.59 137.95L433.84 137.91L434.09 137.78L434.35 137.57L434.6 137.29L434.85 136.95L435.11 136.57L435.36 136.16L435.61 135.75L435.87 135.34L436.12 134.95L436.37 134.62L436.62 134.34L436.88 134.13L437.13 134L437.38 133.95L437.64 134L437.9 134.12L438.15 134.32L438.41 134.58L438.67 134.9L438.92 135.26L439.18 135.65L439.44 136.04L439.69 136.43L439.95 136.79L440.21 137.11L440.46 137.38L440.72 137.57L440.98 137.69L441.23 137.74L441.49 137.7L441.75 137.58L442.01 137.4L442.27 137.15L442.53 136.85L442.79 136.51L443.05 136.14L443.31 135.77L443.57 135.41L443.83 135.07L444.09 134.76L444.35 134.52L444.61 134.33L444.87 134.21L445.13 134.18L445.4 134.21L445.66 134.32L445.92 134.49L446.19 134.73L446.45 135.01L446.71 135.33L446.98 135.67L447.24 136.02L447.5 136.36L447.77 136.68L448.03 136.96L448.29 137.19L448.56 137.37L448.82 137.48L449.08 137.51L449.33 137.48L449.58 137.39L449.83 137.25L450.09 137.06L450.34 136.82L450.59 136.55L450.84 136.26L451.09 135.96L451.34 135.65L451.59 135.36L451.84 135.09L452.09 134.86L452.34 134.66L452.59 134.52L452.84 134.43L453.09 134.4L453.34 134.43L453.6 134.51L453.85 134.65L454.1 134.82L454.36 135.04L454.61 135.29L454.86 135.56L455.12 135.84L455.37 136.12L455.62 136.39L455.88 136.64L456.13 136.86L456.39 137.04L456.64 137.17L456.89 137.25L457.15 137.28L457.4 137.26L457.66 137.18L457.92 137.06L458.17 136.89L458.43 136.69L458.69 136.46L458.95 136.21L459.2 135.95L459.46 135.69L459.72 135.44L459.97 135.21L460.23 135.01L460.49 134.84L460.74 134.72L461 134.64L461.26 134.62L461.52 134.64L461.78 134.71L462.04 134.83L462.3 134.98L462.56 135.17L462.82 135.39L463.08 135.63L463.34 135.87L463.6 136.12L463.86 136.36L464.12 136.57L464.38 136.76L464.64 136.92L464.9 137.04L465.16 137.11L465.42 137.13L465.68 137.11L465.94 137.04L466.2 136.93L466.46 136.78L466.73 136.6L466.99 136.39L467.25 136.16L467.51 135.93L467.77 135.69L468.03 135.46L468.3 135.26L468.56 135.07L468.82 134.92L469.08 134.81L469.34 134.74L469.61 134.72L469.87 134.74L470.13 134.81L470.4 134.91L470.66 135.06L470.92 135.23L471.19 135.43L471.45 135.65L471.71 135.87L471.98 136.1L472.24 136.32L472.51 136.51L472.77 136.69L473.03 136.83L473.3 136.94L473.56 137.01L473.82 137.03L474.09 137.01L474.35 136.94L474.62 136.84L474.89 136.7L475.15 136.54L475.42 136.35L475.68 136.14L475.95 135.93L476.21 135.71L476.48 135.51L476.74 135.32L477.01 135.15L477.27 135.01L477.54 134.91L477.81 134.85L478.07 134.83L478.32 134.84L478.57 134.9L478.83 134.98L479.08 135.1L479.33 135.24L479.58 135.41L479.83 135.59L480.08 135.78L480.34 135.97L480.59 136.16L480.84 136.34L481.09 136.5L481.34 136.65L481.59 136.76L481.85 136.85L482.1 136.9L482.35 136.92L482.6 136.9L482.86 136.85L483.11 136.77L483.36 136.66L483.62 136.53L483.87 136.37L484.12 136.2L484.38 136.02L484.63 135.84L484.88 135.65L485.14 135.48L485.39 135.33L485.64 135.19L485.9 135.08L486.15 135L486.4 134.95L486.66 134.93L486.91 134.95L487.17 135L487.42 135.07L487.68 135.18L487.93 135.31L488.19 135.45L488.44 135.62L488.7 135.79L488.95 135.96L489.21 136.13L489.46 136.29L489.72 136.44L489.97 136.57L490.23 136.67L490.48 136.75L490.74 136.8L490.99 136.81L491.25 136.8L491.51 136.75L491.77 136.68L492.02 136.58L492.28 136.46L492.54 136.32L492.79 136.17L493.05 136.01L493.31 135.85L493.56 135.69L493.82 135.53L494.08 135.39L494.34 135.27L494.59 135.17L494.85 135.1L495.11 135.06L495.36 135.04L495.62 135.06L495.88 135.1L496.14 135.17L496.4 135.26L496.66 135.37L496.92 135.5L497.17 135.65L497.43 135.8L497.69 135.95L497.95 136.1L498.21 136.24L498.47 136.37L498.73 136.49L498.99 136.58L499.25 136.65L499.5 136.69L499.76 136.7L500.02 136.69L500.28 136.65L500.54 136.59L500.81 136.5L501.07 136.4L501.33 136.27L501.59 136.14L501.85 136L502.11 135.86L502.37 135.72L502.63 135.59L502.89 135.47L503.15 135.36L503.41 135.27L503.67 135.21L503.93 135.17L504.19 135.16L504.46 135.17L504.72 135.21L504.98 135.26L505.24 135.34L505.51 135.44L505.77 135.55L506.03 135.67L506.29 135.8L506.56 135.93L506.82 136.06L507.08 136.19L507.34 136.3L507.61 136.39L507.87 136.47L508.13 136.53L508.39 136.57L508.66 136.58L508.92 136.57L509.18 136.54L509.45 136.48L509.71 136.41L509.98 136.32L510.24 136.22L510.51 136.11L510.77 135.99L511.03 135.87L511.3 135.75L511.56 135.64L511.83 135.54L512.09 135.45L512.36 135.38L512.62 135.33L512.88 135.29L513.15 135.28L513.4 135.29L513.65 135.32L513.9 135.36L514.15 135.42L514.41 135.49L514.66 135.58L514.91 135.67L515.16 135.77L515.41 135.87L515.66 135.97L515.91 136.07L516.17 136.16L516.42 136.24L516.67 136.32L516.92 136.38L517.17 136.42L517.42 136.44L517.67 136.45L517.93 136.45L518.18 136.42L518.43 136.38L518.69 136.33L518.94 136.27L519.19 136.19L519.45 136.11L519.7 136.02L519.95 135.93L520.21 135.84L520.46 135.75L520.71 135.67L520.97 135.6L521.22 135.53L521.47 135.48L521.72 135.44L521.98 135.42L522.23 135.41L522.49 135.42L522.74 135.44L523 135.47L523.25 135.52L523.51 135.57L523.76 135.64L524.02 135.71L524.27 135.79L524.53 135.87L524.78 135.95L525.04 136.02L525.29 136.1L525.55 136.16L525.8 136.22L526.06 136.26L526.31 136.3L526.57 136.32L526.82 136.33L527.08 136.32L527.33 136.3L527.59 136.27L527.85 136.23L528.1 136.19L528.36 136.13L528.62 136.07L528.87 136L529.13 135.93L529.39 135.86L529.64 135.8L529.9 135.74L530.16 135.68L530.42 135.63L530.67 135.59L530.93 135.56L531.19 135.54L531.44 135.54L531.7 135.54L531.96 135.56L532.22 135.58L532.48 135.62L532.73 135.66L532.99 135.7L533.25 135.76L533.51 135.81L533.77 135.87L534.03 135.92L534.29 135.98L534.54 136.03L534.8 136.08L535.06 136.12L535.32 136.15L535.58 136.18L535.84 136.19L536.1 136.2L536.36 136.19L536.62 136.18L536.88 136.16L537.14 136.13L537.4 136.1L537.66 136.06L537.92 136.02L538.18 135.98L538.44 135.93L538.7 135.89L538.96 135.84L539.22 135.8L539.48 135.76L539.74 135.73L540 135.7L540.26 135.68L540.52 135.67L540.78 135.67L541.06 135.68L541.34 135.7L541.61 135.73L541.89 135.77L542.17 135.8L542.45 135.84L542.72 135.86L543 135.86" stroke="#f03a3a" stroke-width="1.6" fill="none" stroke-linejoin="round" />
<path d="M321.7 135.9L321.96 118.05L322.22 94.3L322.48 68.28L322.74 44.53L323 26.68L323.26 34.04L323.51 42.63L323.77 52.37L324.03 63.11L324.29 74.63L324.54 86.71L324.8 99.07L325.06 111.43L325.31 123.51L325.57 135.03L325.83 145.77L326.09 155.51L326.34 164.1L326.6 171.46L326.85 170.67L327.1 168.36L327.35 164.69L327.6 159.9L327.85 154.33L328.1 148.35L328.35 142.36L328.6 136.79L328.85 132L329.1 128.33L329.35 126.02L329.6 125.23L329.85 125.51L330.1 126.32L330.35 127.61L330.6 129.3L330.85 131.26L331.1 133.36L331.35 135.46L331.6 137.42L331.85 139.11L332.1 140.4L332.35 141.21L332.6 141.49L332.85 141.31L333.1 140.78L333.35 139.94L333.6 138.84L333.85 137.57L334.1 136.2L334.35 134.83L334.6 133.55L334.85 132.46L335.1 131.62L335.35 131.09L335.6 130.91L335.86 131.08L336.12 131.58L336.38 132.36L336.63 133.39L336.89 134.59L337.15 135.87L337.41 137.16L337.67 138.35L337.93 139.38L338.18 140.17L338.44 140.67L338.7 140.83L338.96 140.67L339.22 140.18L339.48 139.4L339.73 138.38L339.99 137.2L340.25 135.93L340.51 134.66L340.77 133.47L341.03 132.46L341.28 131.68L341.54 131.19L341.8 131.02L342.06 131.19L342.32 131.67L342.58 132.44L342.83 133.45L343.09 134.62L343.35 135.87L343.61 137.13L343.87 138.3L344.13 139.3L344.39 140.08L344.64 140.56L344.9 140.73L345.16 140.56L345.42 140.08L345.68 139.32L345.94 138.33L346.2 137.17L346.46 135.93L346.72 134.69L346.98 133.53L347.24 132.53L347.5 131.77L347.75 131.29L348.01 131.13L348.27 131.29L348.53 131.77L348.79 132.52L349.05 133.5L349.31 134.64L349.57 135.87L349.83 137.1L350.09 138.24L350.35 139.23L350.61 139.98L350.87 140.45L351.13 140.62L351.39 140.46L351.65 139.99L351.91 139.24L352.17 138.27L352.43 137.14L352.69 135.93L352.95 134.71L353.21 133.58L353.47 132.61L353.73 131.87L353.99 131.4L354.25 131.24L354.51 131.4L354.77 131.86L355.03 132.6L355.29 133.56L355.56 134.67L355.82 135.87L356.08 137.07L356.34 138.19L356.6 139.15L356.86 139.88L357.12 140.35L357.38 140.51L357.64 140.35L357.9 139.89L358.16 139.16L358.43 138.22L358.69 137.11L358.95 135.93L359.21 134.74L359.47 133.64L359.73 132.69L359.99 131.96L360.25 131.51L360.51 131.35L360.78 131.5L361.04 131.96L361.3 132.67L361.56 133.61L361.82 134.7L362.09 135.87L362.35 137.04L362.61 138.13L362.87 139.07L363.13 139.79L363.39 140.24L363.66 140.39L363.92 140.24L364.18 139.8L364.44 139.09L364.71 138.16L364.97 137.08L365.23 135.93L365.49 134.77L365.75 133.69L366.02 132.77L366.28 132.06L366.54 131.61L366.8 131.46L367.07 131.61L367.33 132.05L367.59 132.75L367.85 133.67L368.12 134.73L368.38 135.87L368.64 137.01L368.91 138.08L369.17 138.99L369.43 139.69L369.69 140.13L369.96 140.28L370.22 140.13L370.48 139.7L370.75 139.01L371.01 138.11L371.27 137.06L371.54 135.93L371.8 134.8L372.06 133.75L372.33 132.85L372.59 132.16L372.85 131.72L373.12 131.57L373.38 131.72L373.64 132.15L373.91 132.83L374.17 133.72L374.44 134.76L374.7 135.87L374.96 136.98L375.23 138.02L375.49 138.91L375.76 139.6L376.02 140.02L376.28 140.17L376.55 140.03L376.81 139.6L377.08 138.93L377.34 138.05L377.6 137.03L377.87 135.93L378.13 134.83L378.4 133.81L378.66 132.93L378.93 132.25L379.19 131.83L379.46 131.68L379.72 131.83L379.99 132.25L380.25 132.91L380.52 133.78L380.78 134.79L381.05 135.87L381.31 136.96L381.57 137.97L381.84 138.83L382.1 139.5L382.37 139.92L382.63 140.06L382.9 139.92L383.17 139.51L383.43 138.85L383.7 137.99L383.96 137L384.23 135.93L384.49 134.86L384.76 133.86L385.02 133.01L385.29 132.35L385.55 131.94L385.82 131.8L386.09 131.94L386.35 132.34L386.62 132.99L386.88 133.83L387.15 134.82L387.42 135.87L387.68 136.93L387.95 137.91L388.21 138.75L388.48 139.4L388.75 139.81L389.01 139.95L389.28 139.81L389.54 139.41L389.81 138.77L390.08 137.94L390.34 136.97L390.61 135.93L390.88 134.89L391.14 133.92L391.41 133.09L391.68 132.45L391.94 132.05L392.21 131.91L392.48 132.04L392.74 132.44L393.01 133.07L393.28 133.89L393.55 134.85L393.81 135.87L394.08 136.9L394.35 137.85L394.62 138.67L394.88 139.3L395.15 139.7L395.42 139.83L395.69 139.7L395.96 139.31L396.23 138.69L396.49 137.88L396.76 136.94L397.03 135.93L397.3 134.92L397.57 133.98L397.84 133.17L398.11 132.55L398.37 132.16L398.64 132.02L398.91 132.15L399.18 132.54L399.45 133.15L399.72 133.95L399.99 134.88L400.26 135.87L400.53 136.87L400.8 137.8L401.07 138.59L401.34 139.2L401.61 139.59L401.88 139.72L402.13 139.61L402.38 139.29L402.63 138.77L402.88 138.08L403.13 137.27L403.38 136.39L403.63 135.47L403.88 134.58L404.13 133.78L404.38 133.09L404.63 132.57L404.88 132.25L405.13 132.14L405.39 132.25L405.64 132.57L405.89 133.08L406.14 133.75L406.39 134.55L406.64 135.42L406.89 136.32L407.15 137.2L407.4 137.99L407.65 138.67L407.9 139.18L408.15 139.5L408.4 139.6L408.65 139.5L408.91 139.18L409.16 138.68L409.41 138.02L409.66 137.23L409.92 136.37L410.17 135.49L410.42 134.63L410.67 133.84L410.93 133.18L411.18 132.67L411.43 132.36L411.68 132.25L411.94 132.36L412.19 132.67L412.44 133.16L412.7 133.82L412.95 134.59L413.21 135.43L413.46 136.31L413.71 137.15L413.97 137.93L414.22 138.58L414.47 139.07L414.73 139.38L414.98 139.49L415.23 139.39L415.49 139.08L415.74 138.59L416 137.95L416.25 137.19L416.51 136.36L416.76 135.5L417.02 134.67L417.27 133.91L417.53 133.26L417.78 132.78L418.04 132.47L418.29 132.37L418.55 132.47L418.8 132.77L419.06 133.25L419.31 133.88L419.57 134.63L419.83 135.45L420.08 136.29L420.34 137.11L420.59 137.86L420.85 138.49L421.11 138.97L421.36 139.27L421.62 139.37L421.87 139.27L422.13 138.98L422.39 138.51L422.64 137.88L422.9 137.15L423.16 136.34L423.42 135.51L423.67 134.71L423.93 133.97L424.19 133.35L424.44 132.88L424.7 132.59L424.96 132.49L425.22 132.59L425.47 132.87L425.73 133.34L425.99 133.95L426.25 134.67L426.51 135.46L426.76 136.28L427.02 137.07L427.28 137.79L427.54 138.4L427.8 138.87L428.05 139.16L428.31 139.25L428.57 139.16L428.83 138.87L429.09 138.42L429.35 137.82L429.61 137.11L429.87 136.33L430.13 135.53L430.39 134.75L430.65 134.04L430.91 133.44L431.16 132.99L431.42 132.7L431.68 132.61L431.94 132.7L432.2 132.98L432.46 133.43L432.72 134.02L432.98 134.71L433.25 135.48L433.51 136.26L433.77 137.03L434.03 137.72L434.29 138.31L434.55 138.76L434.81 139.04L435.07 139.13L435.33 139.04L435.59 138.77L435.85 138.33L436.11 137.75L436.38 137.07L436.64 136.32L436.9 135.54L437.16 134.79L437.42 134.11L437.68 133.53L437.95 133.09L438.21 132.82L438.47 132.73L438.73 132.82L439 133.09L439.26 133.52L439.52 134.08L439.79 134.75L440.05 135.49L440.31 136.25L440.58 136.98L440.84 137.66L441.1 138.22L441.37 138.65L441.63 138.92L441.89 139.01L442.16 138.92L442.42 138.66L442.69 138.24L442.95 137.68L443.22 137.02L443.48 136.3L443.75 135.56L444.01 134.84L444.28 134.18L444.55 133.62L444.81 133.2L445.08 132.94L445.34 132.85L445.61 132.94L445.88 133.19L446.14 133.61L446.41 134.15L446.68 134.8L446.94 135.51L447.21 136.23L447.48 136.94L447.75 137.59L448.01 138.13L448.28 138.55L448.55 138.8L448.81 138.89L449.08 138.81L449.35 138.55L449.62 138.15L449.89 137.61L450.16 136.98L450.43 136.29L450.7 135.57L450.97 134.88L451.23 134.25L451.5 133.71L451.77 133.31L452.04 133.06L452.31 132.97L452.56 133.04L452.81 133.26L453.06 133.6L453.32 134.06L453.57 134.61L453.82 135.22L454.07 135.87L454.32 136.51L454.57 137.13L454.83 137.68L455.08 138.14L455.33 138.48L455.58 138.7L455.83 138.77L456.08 138.7L456.34 138.49L456.59 138.15L456.84 137.7L457.1 137.16L457.35 136.56L457.6 135.93L457.86 135.3L458.11 134.7L458.36 134.16L458.62 133.71L458.87 133.38L459.12 133.17L459.38 133.09L459.63 133.16L459.89 133.37L460.14 133.7L460.4 134.14L460.65 134.67L460.91 135.25L461.16 135.87L461.42 136.49L461.67 137.07L461.93 137.6L462.18 138.04L462.44 138.37L462.69 138.57L462.95 138.64L463.2 138.57L463.46 138.37L463.72 138.05L463.98 137.62L464.23 137.11L464.49 136.53L464.75 135.93L465 135.33L465.26 134.76L465.52 134.24L465.77 133.81L466.03 133.49L466.29 133.29L466.54 133.22L466.8 133.29L467.06 133.48L467.32 133.8L467.58 134.22L467.84 134.72L468.1 135.28L468.35 135.87L468.61 136.46L468.87 137.02L469.13 137.52L469.39 137.94L469.65 138.25L469.91 138.45L470.16 138.51L470.42 138.45L470.69 138.26L470.95 137.95L471.21 137.54L471.47 137.05L471.73 136.51L471.99 135.93L472.25 135.36L472.51 134.81L472.77 134.32L473.03 133.91L473.29 133.61L473.55 133.41L473.81 133.35L474.07 133.41L474.34 133.6L474.6 133.9L474.86 134.3L475.12 134.78L475.38 135.31L475.65 135.87L475.91 136.43L476.17 136.96L476.43 137.44L476.7 137.84L476.96 138.14L477.22 138.32L477.48 138.39L477.75 138.32L478.01 138.14L478.27 137.85L478.54 137.46L478.8 137L479.07 136.48L479.33 135.93L479.59 135.39L479.86 134.87L480.12 134.4L480.39 134.01L480.65 133.72L480.92 133.54L481.18 133.48L481.45 133.54L481.71 133.72L481.98 134L482.24 134.38L482.51 134.83L482.78 135.34L483.04 135.87L483.31 136.4L483.57 136.9L483.84 137.36L484.1 137.73L484.37 138.02L484.64 138.19L484.9 138.25L485.17 138.2L485.44 138.02L485.71 137.75L485.97 137.38L486.24 136.94L486.51 136.45L486.78 135.93L487.05 135.42L487.31 134.93L487.58 134.49L487.85 134.12L488.12 133.84L488.38 133.67L488.65 133.61L488.9 133.66L489.16 133.81L489.41 134.04L489.66 134.36L489.91 134.74L490.17 135.17L490.42 135.63L490.67 136.1L490.92 136.56L491.18 136.99L491.43 137.38L491.68 137.69L491.93 137.93L492.19 138.07L492.44 138.12L492.69 138.07L492.95 137.93L493.2 137.7L493.46 137.4L493.71 137.03L493.97 136.61L494.22 136.16L494.48 135.71L494.73 135.26L494.99 134.84L495.24 134.47L495.5 134.16L495.75 133.93L496.01 133.79L496.26 133.75L496.52 133.79L496.78 133.93L497.04 134.15L497.29 134.45L497.55 134.81L497.81 135.21L498.07 135.64L498.32 136.09L498.58 136.52L498.84 136.93L499.1 137.28L499.35 137.58L499.61 137.8L499.87 137.94L500.13 137.99L500.39 137.94L500.65 137.81L500.91 137.59L501.17 137.31L501.43 136.96L501.69 136.57L501.95 136.15L502.21 135.72L502.47 135.3L502.73 134.91L502.99 134.56L503.25 134.27L503.51 134.06L503.77 133.93L504.03 133.88L504.29 133.93L504.55 134.05L504.81 134.25L505.08 134.52L505.34 134.85L505.6 135.22L505.87 135.62L506.13 136.02L506.39 136.42L506.65 136.79L506.92 137.11L507.18 137.39L507.44 137.59L507.7 137.71L507.97 137.76L508.23 137.72L508.5 137.6L508.76 137.42L509.03 137.17L509.29 136.88L509.56 136.54L509.82 136.18L510.09 135.81L510.36 135.45L510.62 135.12L510.89 134.82L511.15 134.57L511.42 134.39L511.68 134.28L511.95 134.24L512.2 134.27L512.45 134.36L512.7 134.5L512.95 134.7L513.2 134.93L513.45 135.2L513.71 135.5L513.96 135.8L514.21 136.11L514.46 136.4L514.71 136.67L514.96 136.91L515.21 137.1L515.46 137.25L515.72 137.34L515.97 137.37L516.22 137.34L516.47 137.26L516.73 137.14L516.98 136.97L517.23 136.76L517.49 136.52L517.74 136.27L518 136L518.25 135.73L518.5 135.48L518.76 135.24L519.01 135.03L519.26 134.86L519.52 134.74L519.77 134.66L520.03 134.63L520.28 134.65L520.54 134.72L520.79 134.83L521.05 134.97L521.31 135.15L521.56 135.35L521.82 135.57L522.08 135.8L522.33 136.03L522.59 136.25L522.84 136.45L523.1 136.63L523.36 136.77L523.61 136.88L523.87 136.95L524.13 136.97L524.39 136.95L524.65 136.9L524.9 136.81L525.16 136.69L525.42 136.54L525.68 136.37L525.94 136.19L526.2 136L526.46 135.81L526.72 135.63L526.98 135.46L527.24 135.32L527.5 135.2L527.76 135.11L528.02 135.05L528.28 135.03L528.54 135.05L528.8 135.09L529.06 135.16L529.33 135.26L529.59 135.37L529.85 135.51L530.11 135.65L530.38 135.8L530.64 135.95L530.9 136.09L531.16 136.22L531.43 136.34L531.69 136.43L531.95 136.5L532.21 136.55L532.48 136.56L532.74 136.55L533.01 136.52L533.27 136.47L533.54 136.4L533.8 136.31L534.07 136.22L534.33 136.11L534.6 136L534.87 135.89L535.13 135.79L535.4 135.69L535.66 135.61L535.93 135.54L536.19 135.49L536.46 135.46L536.72 135.44L536.98 135.45L537.23 135.47L537.48 135.5L537.74 135.54L537.99 135.58L538.24 135.64L538.5 135.7L538.75 135.76L539 135.83L539.25 135.89L539.51 135.95L539.76 136.01L540.01 136.05L540.27 136.09L540.52 136.12L540.77 136.14L541.03 136.15L541.31 136.14L541.59 136.11L541.87 136.08L542.15 136.04L542.44 136.01L542.72 135.99L543 135.98" stroke="#1f66e0" stroke-width="1.9" fill="none" stroke-linejoin="round" />
<path d="M169.3 391.37L169.57 374.4L169.83 352.19L170.1 326.97L170.37 301.74L170.63 279.54L170.9 262.57L171.17 272.8L171.43 284.99L171.7 298.94L171.97 314.32L172.23 330.71L172.5 347.64L172.77 364.56L173.03 380.96L173.3 396.34L173.57 410.28L173.83 422.48L174.1 432.71L174.36 432.04L174.61 430.07L174.87 426.89L175.13 422.67L175.39 417.61L175.64 411.98L175.9 406.05L176.16 400.11L176.41 394.48L176.67 389.43L176.93 385.2L177.19 382.03L177.44 380.06L177.7 379.39L177.95 379.66L178.21 380.45L178.46 381.72L178.72 383.4L178.97 385.38L179.22 387.55L179.48 389.79L179.73 391.97L179.98 393.95L180.24 395.62L180.49 396.9L180.75 397.69L181 397.96L181.26 397.78L181.52 397.24L181.78 396.38L182.05 395.25L182.31 393.91L182.57 392.45L182.83 390.94L183.09 389.47L183.35 388.13L183.62 387L183.88 386.14L184.14 385.6L184.4 385.42L184.67 385.62L184.93 386.19L185.2 387.1L185.47 388.29L185.73 389.68L186 391.17L186.27 392.65L186.53 394.04L186.8 395.23L187.07 396.14L187.33 396.71L187.6 396.91L187.87 396.73L188.13 396.19L188.4 395.34L188.67 394.23L188.93 392.94L189.2 391.56L189.47 390.18L189.73 388.89L190 387.78L190.27 386.93L190.53 386.39L190.8 386.21L191.07 386.38L191.33 386.88L191.6 387.67L191.87 388.7L192.13 389.9L192.4 391.19L192.67 392.48L192.93 393.68L193.2 394.71L193.47 395.51L193.73 396L194 396.17L194.27 396.02L194.53 395.55L194.8 394.81L195.07 393.85L195.33 392.73L195.6 391.53L195.87 390.33L196.13 389.21L196.4 388.25L196.67 387.52L196.93 387.05L197.2 386.89L197.47 387.04L197.73 387.47L198 388.16L198.27 389.06L198.53 390.1L198.8 391.22L199.07 392.33L199.33 393.38L199.6 394.27L199.87 394.96L200.13 395.39L200.4 395.54L200.67 395.4L200.93 395L201.2 394.36L201.47 393.52L201.73 392.55L202 391.51L202.27 390.47L202.53 389.5L202.8 388.67L203.07 388.03L203.33 387.62L203.6 387.49L203.87 387.62L204.13 387.99L204.4 388.59L204.67 389.36L204.93 390.27L205.2 391.24L205.47 392.21L205.73 393.11L206 393.89L206.27 394.48L206.53 394.86L206.8 394.98L207.07 394.87L207.33 394.52L207.6 393.96L207.87 393.24L208.13 392.4L208.4 391.49L208.67 390.59L208.93 389.75L209.2 389.02L209.47 388.47L209.73 388.12L210 388L210.27 388.11L210.53 388.44L210.8 388.95L211.07 389.63L211.33 390.41L211.6 391.25L211.87 392.1L212.13 392.88L212.4 393.55L212.67 394.07L212.93 394.39L213.2 394.5L213.47 394.4L213.73 394.1L214 393.62L214.27 392.99L214.53 392.26L214.8 391.48L215.07 390.69L215.33 389.96L215.6 389.34L215.87 388.85L216.13 388.55L216.4 388.45L216.67 388.54L216.93 388.83L217.2 389.27L217.47 389.86L217.73 390.54L218 391.27L218.27 392L218.53 392.68L218.8 393.26L219.07 393.71L219.33 393.99L219.6 394.09L219.87 394L220.13 393.74L220.4 393.32L220.67 392.78L220.93 392.14L221.2 391.46L221.47 390.78L221.73 390.15L222 389.61L222.27 389.19L222.53 388.93L222.8 388.84L223.07 388.92L223.33 389.16L223.6 389.55L223.87 390.06L224.13 390.65L224.4 391.28L224.67 391.92L224.93 392.51L225.2 393.01L225.47 393.4L225.73 393.65L226 393.73L226.27 393.65L226.53 393.42L226.8 393.06L227.07 392.59L227.33 392.04L227.6 391.45L227.87 390.86L228.13 390.31L228.4 389.84L228.67 389.48L228.93 389.25L229.2 389.17L229.47 389.24L229.73 389.46L230 389.79L230.27 390.23L230.53 390.74L230.8 391.29L231.07 391.84L231.33 392.35L231.6 392.79L231.87 393.13L232.13 393.34L232.4 393.42L232.67 393.35L232.93 393.15L233.2 392.84L233.47 392.43L233.73 391.95L234 391.44L234.27 390.93L234.53 390.45L234.8 390.04L235.07 389.73L235.33 389.53L235.6 389.46L235.87 389.53L236.13 389.71L236.4 390L236.67 390.38L236.93 390.83L237.2 391.3L237.47 391.78L237.73 392.22L238 392.61L238.27 392.9L238.53 393.08L238.8 393.14L239.07 393.09L239.33 392.91L239.6 392.64L239.87 392.29L240.13 391.87L240.4 391.43L240.67 390.99L240.93 390.57L241.2 390.22L241.47 389.95L241.73 389.77L242 389.72L242.27 389.77L242.53 389.93L242.8 390.18L243.07 390.51L243.33 390.9L243.6 391.31L243.87 391.73L244.13 392.11L244.4 392.44L244.67 392.7L244.93 392.85L245.2 392.91L245.47 392.86L245.73 392.71L246 392.47L246.27 392.17L246.53 391.81L246.8 391.42L247.07 391.04L247.33 390.68L247.6 390.37L247.87 390.13L248.13 389.99L248.4 389.93L248.67 389.98L248.93 390.12L249.2 390.34L249.47 390.63L249.73 390.96L250 391.32L250.27 391.68L250.53 392.01L250.8 392.3L251.07 392.52L251.33 392.66L251.6 392.71L251.87 392.66L252.13 392.53L252.4 392.33L252.67 392.06L252.93 391.75L253.2 391.42L253.47 391.08L253.73 390.77L254 390.5L254.27 390.3L254.53 390.17L254.8 390.13L255.07 390.17L255.33 390.29L255.6 390.48L255.87 390.73L256.13 391.02L256.4 391.33L256.67 391.64L256.93 391.93L257.2 392.18L257.47 392.37L257.73 392.49L258 392.53L258.27 392.49L258.53 392.38L258.8 392.2L259.07 391.97L259.33 391.7L259.6 391.41L259.87 391.12L260.13 390.85L260.4 390.62L260.67 390.44L260.93 390.33L261.2 390.29L261.47 390.33L261.73 390.43L262 390.6L262.27 390.81L262.53 391.06L262.8 391.33L263.07 391.6L263.33 391.85L263.6 392.07L263.87 392.23L264.13 392.34L264.4 392.37L264.67 392.34L264.93 392.24L265.2 392.09L265.47 391.89L265.73 391.65L266 391.4L266.27 391.15L266.53 390.92L266.8 390.72L267.07 390.56L267.33 390.47L267.6 390.43L267.87 390.46L268.13 390.55L268.4 390.7L268.67 390.89L268.93 391.1L269.2 391.34L269.47 391.57L269.73 391.79L270 391.98L270.27 392.12L270.53 392.21L270.8 392.24L271.07 392.21L271.33 392.13L271.6 391.99L271.87 391.82L272.13 391.62L272.4 391.4L272.67 391.18L272.93 390.98L273.2 390.8L273.47 390.67L273.73 390.59L274 390.56L274.27 390.58L274.53 390.66L274.8 390.79L275.07 390.95L275.33 391.14L275.6 391.34L275.87 391.54L276.13 391.73L276.4 391.9L276.67 392.02L276.93 392.1L277.2 392.13L277.47 392.1L277.73 392.03L278 391.91L278.27 391.76L278.53 391.58L278.8 391.4L279.07 391.21L279.33 391.03L279.6 390.88L279.87 390.76L280.13 390.69L280.4 390.66L280.67 390.69L280.93 390.76L281.2 390.86L281.47 391L281.73 391.17L282 391.35L282.27 391.52L282.53 391.69L282.8 391.83L283.07 391.93L283.33 392L283.6 392.03L283.87 392L284.13 391.94L284.4 391.84L284.67 391.71L284.93 391.56L285.2 391.39L285.47 391.23L285.73 391.07L286 390.94L286.27 390.84L286.53 390.78L286.8 390.76L287.07 390.78L287.33 390.84L287.6 390.94L287.87 391.06L288.13 391.21L288.4 391.36L288.67 391.52L288.93 391.67L289.2 391.79L289.47 391.89L289.73 391.95L290 391.97L290.27 391.95L290.53 391.89L290.8 391.79L291.07 391.67L291.33 391.52L291.6 391.37L291.87 391.21L292.13 391.07L292.4 390.94L292.67 390.85L292.93 390.79L293.2 390.77L293.47 390.79L293.73 390.85L294 390.94L294.27 391.07L294.53 391.21L294.8 391.37L295.07 391.52L295.33 391.67L295.6 391.79L295.87 391.89L296.13 391.95L296.4 391.97L296.67 391.95L296.93 391.89L297.2 391.79L297.47 391.67L297.73 391.52L298 391.37L298.27 391.21L298.53 391.07L298.8 390.94L299.07 390.85L299.33 390.79L299.6 390.77L299.87 390.79L300.13 390.85L300.4 390.94L300.67 391.07L300.93 391.21L301.2 391.37L301.47 391.52L301.73 391.67L302 391.79L302.27 391.89L302.53 391.95L302.8 391.97L303.07 391.95L303.33 391.89L303.6 391.79L303.87 391.67L304.13 391.52L304.4 391.37L304.67 391.21L304.93 391.07L305.2 390.94L305.47 390.85L305.73 390.79L306 390.77L306.27 390.79L306.53 390.85L306.8 390.94L307.07 391.07L307.33 391.21L307.6 391.37L307.87 391.52L308.13 391.67L308.4 391.79L308.67 391.89L308.93 391.95L309.2 391.97L309.47 391.95L309.73 391.89L310 391.79L310.27 391.67L310.53 391.52L310.8 391.37L311.07 391.21L311.33 391.07L311.6 390.94L311.87 390.85L312.13 390.79L312.4 390.77L312.67 390.79L312.93 390.85L313.2 390.94L313.47 391.07L313.73 391.21L314 391.37L314.27 391.52L314.53 391.67L314.8 391.79L315.07 391.89L315.33 391.95L315.6 391.97L315.87 391.95L316.13 391.89L316.4 391.79L316.67 391.67L316.93 391.52L317.2 391.37L317.47 391.21L317.73 391.07L318 390.94L318.27 390.85L318.53 390.79L318.8 390.77L319.07 390.79L319.33 390.85L319.6 390.94L319.87 391.07L320.13 391.21L320.4 391.37L320.67 391.52L320.93 391.67L321.2 391.79L321.47 391.89L321.73 391.95L322 391.97L322.27 391.95L322.53 391.89L322.8 391.79L323.07 391.67L323.33 391.52L323.6 391.37L323.87 391.21L324.13 391.07L324.4 390.94L324.67 390.85L324.93 390.79L325.2 390.77L325.47 390.79L325.73 390.85L326 390.94L326.27 391.07L326.53 391.21L326.8 391.37L327.07 391.52L327.33 391.67L327.6 391.79L327.87 391.89L328.13 391.95L328.4 391.97L328.67 391.95L328.93 391.89L329.2 391.79L329.47 391.67L329.73 391.52L330 391.37L330.27 391.21L330.53 391.07L330.8 390.94L331.07 390.85L331.33 390.79L331.6 390.77L331.87 390.79L332.13 390.85L332.4 390.94L332.67 391.07L332.93 391.21L333.2 391.37L333.47 391.52L333.73 391.67L334 391.79L334.27 391.89L334.53 391.95L334.8 391.97L335.07 391.95L335.33 391.89L335.6 391.79L335.87 391.67L336.13 391.52L336.4 391.37L336.67 391.21L336.93 391.07L337.2 390.94L337.47 390.85L337.73 390.79L338 390.77L338.27 390.79L338.53 390.85L338.8 390.94L339.07 391.07L339.33 391.21L339.6 391.37L339.87 391.52L340.13 391.67L340.4 391.79L340.67 391.89L340.93 391.95L341.2 391.97L341.47 391.95L341.73 391.89L342 391.79L342.27 391.67L342.53 391.52L342.8 391.37L343.07 391.21L343.33 391.07L343.6 390.94L343.87 390.85L344.13 390.79L344.4 390.77L344.67 390.79L344.93 390.85L345.2 390.94L345.47 391.07L345.73 391.21L346 391.37L346.27 391.52L346.53 391.67L346.8 391.79L347.07 391.89L347.33 391.95L347.6 391.97L347.87 391.95L348.13 391.89L348.4 391.79L348.67 391.67L348.93 391.52L349.2 391.37L349.47 391.21L349.73 391.07L350 390.94L350.27 390.85L350.53 390.79L350.8 390.77L351.07 390.79L351.33 390.85L351.6 390.94L351.87 391.07L352.13 391.21L352.4 391.37L352.67 391.52L352.93 391.67L353.2 391.79L353.47 391.89L353.73 391.95L354 391.97L354.27 391.95L354.53 391.89L354.8 391.79L355.07 391.67L355.33 391.52L355.6 391.37L355.87 391.21L356.13 391.07L356.4 390.94L356.67 390.85L356.93 390.79L357.2 390.77L357.47 390.79L357.73 390.85L358 390.94L358.27 391.07L358.53 391.21L358.8 391.37L359.07 391.52L359.33 391.67L359.6 391.79L359.87 391.89L360.13 391.95L360.4 391.97L360.67 391.95L360.93 391.89L361.2 391.79L361.47 391.67L361.73 391.52L362 391.37L362.27 391.21L362.53 391.07L362.8 390.94L363.07 390.85L363.33 390.79L363.6 390.77L363.87 390.79L364.13 390.85L364.4 390.94L364.67 391.07L364.93 391.21L365.2 391.37L365.47 391.52L365.73 391.67L366 391.79L366.27 391.89L366.53 391.95L366.8 391.97L367.07 391.95L367.33 391.89L367.6 391.79L367.87 391.67L368.13 391.52L368.4 391.37L368.67 391.21L368.93 391.07L369.2 390.94L369.47 390.85L369.73 390.79L370 390.77L370.27 390.79L370.53 390.85L370.8 390.94L371.07 391.07L371.33 391.21L371.6 391.37L371.87 391.52L372.13 391.67L372.4 391.79L372.67 391.89L372.93 391.95L373.2 391.97L373.47 391.95L373.73 391.89L374 391.79L374.27 391.67L374.53 391.52L374.8 391.37L375.07 391.21L375.33 391.07L375.6 390.94L375.87 390.85L376.13 390.79L376.4 390.77L376.67 390.79L376.93 390.85L377.2 390.94L377.47 391.07L377.73 391.21L378 391.37L378.27 391.52L378.53 391.67L378.8 391.79L379.07 391.89L379.33 391.95L379.6 391.97L379.87 391.95L380.13 391.89L380.4 391.79L380.67 391.67L380.93 391.52L381.2 391.37L381.47 391.21L381.73 391.07L382 390.94L382.27 390.85L382.53 390.79L382.8 390.77L383.07 390.79L383.33 390.85L383.6 390.94L383.87 391.07L384.13 391.21L384.4 391.37L384.67 391.52L384.93 391.67L385.2 391.79L385.47 391.89L385.73 391.95L386 391.97L386.27 391.95L386.53 391.89L386.8 391.79L387.07 391.67L387.33 391.52L387.6 391.37L387.87 391.21L388.13 391.07L388.4 390.94L388.67 390.85L388.93 390.79L389.2 390.77L389.47 390.79L389.73 390.85L390 390.94L390.27 391.07L390.53 391.21L390.8 391.37L391.07 391.52L391.33 391.67L391.6 391.79L391.87 391.89L392.13 391.95L392.4 391.97L392.67 391.95L392.93 391.89L393.2 391.79L393.47 391.67L393.73 391.52L394 391.37L394.27 391.21L394.53 391.07L394.8 390.94L395.07 390.85L395.33 390.79L395.6 390.77L395.87 390.79L396.13 390.85L396.4 390.94L396.67 391.07L396.93 391.21L397.2 391.37L397.47 391.52L397.73 391.67L398 391.79L398.27 391.89L398.53 391.95L398.8 391.97L399.07 391.95L399.33 391.89L399.6 391.79L399.87 391.67L400.13 391.52L400.4 391.37L400.67 391.21L400.93 391.07L401.2 390.94L401.47 390.85L401.73 390.79L402 390.77L402.27 390.79L402.53 390.85L402.8 390.94L403.07 391.07L403.33 391.21L403.6 391.37L403.87 391.52L404.13 391.67L404.4 391.79L404.67 391.89L404.93 391.95L405.2 391.97L405.47 391.95L405.73 391.89L406 391.79L406.27 391.67L406.53 391.52L406.8 391.37L407.07 391.21L407.33 391.07L407.6 390.94L407.87 390.85L408.13 390.79L408.4 390.77L408.65 390.8L408.9 390.87L409.15 390.99L409.4 391.14L409.65 391.3L409.9 391.47L410.15 391.61L410.4 391.73L410.65 391.81L410.9 391.83" stroke="#3a3d48" stroke-width="1.5" fill="none" stroke-linejoin="round" />
<path d="M169.3 391.37L169.57 374.4L169.83 352.19L170.1 326.97L170.37 301.74L170.63 279.54L170.9 262.57L171.17 272.8L171.43 284.99L171.7 298.94L171.97 314.32L172.23 330.71L172.5 347.64L172.77 364.56L173.03 380.96L173.3 396.34L173.57 410.28L173.83 422.48L174.1 432.71L174.36 432.04L174.61 430.07L174.87 426.89L175.13 422.67L175.39 417.61L175.64 411.98L175.9 406.05L176.16 400.11L176.41 394.48L176.67 389.43L176.93 385.2L177.19 382.03L177.44 380.06L177.7 379.39L177.95 379.66L178.21 380.45L178.46 381.72L178.72 383.4L178.97 385.38L179.22 387.55L179.48 389.79L179.73 391.97L179.98 393.95L180.24 395.62L180.49 396.9L180.75 397.69L181 397.96L181.25 397.8L181.5 397.34L181.75 396.59L182 395.59L182.25 394.4L182.5 393.06L182.75 391.66L183 390.26L183.25 388.93L183.5 387.74L183.75 386.74L184 385.99L184.25 385.53L184.5 385.37L184.77 385.57L185.04 386.17L185.31 387.13L185.57 388.37L185.84 389.82L186.11 391.37L186.38 392.92L186.65 394.37L186.92 395.61L187.19 396.57L187.46 397.16L187.72 397.37L187.99 397.16L188.26 396.57L188.53 395.61L188.8 394.37L189.07 392.92L189.34 391.37L189.61 389.82L189.88 388.37L190.14 387.13L190.41 386.17L190.68 385.57L190.95 385.37L191.22 385.57L191.49 386.17L191.76 387.13L192.02 388.37L192.29 389.82L192.56 391.37L192.83 392.92L193.1 394.37L193.37 395.61L193.64 396.57L193.91 397.16L194.17 397.37L194.44 397.16L194.71 396.57L194.98 395.61L195.25 394.37L195.52 392.92L195.79 391.37L196.06 389.82L196.32 388.37L196.59 387.13L196.86 386.17L197.13 385.57L197.4 385.37L197.67 385.57L197.94 386.17L198.21 387.13L198.47 388.37L198.74 389.82L199.01 391.37L199.28 392.92L199.55 394.37L199.82 395.61L200.09 396.57L200.36 397.16L200.62 397.37L200.89 397.16L201.16 396.57L201.43 395.61L201.7 394.37L201.97 392.92L202.24 391.37L202.51 389.82L202.77 388.37L203.04 387.13L203.31 386.17L203.58 385.57L203.85 385.37L204.12 385.57L204.39 386.17L204.66 387.13L204.92 388.37L205.19 389.82L205.46 391.37L205.73 392.92L206 394.37L206.27 395.61L206.54 396.57L206.81 397.16L207.07 397.37L207.34 397.16L207.61 396.57L207.88 395.61L208.15 394.37L208.42 392.92L208.69 391.37L208.96 389.82L209.22 388.37L209.49 387.13L209.76 386.17L210.03 385.57L210.3 385.37L210.57 385.57L210.84 386.17L211.11 387.13L211.37 388.37L211.64 389.82L211.91 391.37L212.18 392.92L212.45 394.37L212.72 395.61L212.99 396.57L213.26 397.16L213.52 397.37L213.79 397.16L214.06 396.57L214.33 395.61L214.6 394.37L214.87 392.92L215.14 391.37L215.41 389.82L215.67 388.37L215.94 387.13L216.21 386.17L216.48 385.57L216.75 385.37L217.02 385.57L217.29 386.17L217.56 387.13L217.82 388.37L218.09 389.82L218.36 391.37L218.63 392.92L218.9 394.37L219.17 395.61L219.44 396.57L219.71 397.16L219.97 397.37L220.24 397.16L220.51 396.57L220.78 395.61L221.05 394.37L221.32 392.92L221.59 391.37L221.86 389.82L222.12 388.37L222.39 387.13L222.66 386.17L222.93 385.57L223.2 385.37L223.47 385.57L223.74 386.17L224.01 387.13L224.27 388.37L224.54 389.82L224.81 391.37L225.08 392.92L225.35 394.37L225.62 395.61L225.89 396.57L226.16 397.16L226.42 397.37L226.69 397.16L226.96 396.57L227.23 395.61L227.5 394.37L227.77 392.92L228.04 391.37L228.31 389.82L228.57 388.37L228.84 387.13L229.11 386.17L229.38 385.57L229.65 385.37L229.92 385.57L230.19 386.17L230.46 387.13L230.72 388.37L230.99 389.82L231.26 391.37L231.53 392.92L231.8 394.37L232.07 395.61L232.34 396.57L232.61 397.16L232.87 397.37L233.14 397.16L233.41 396.57L233.68 395.61L233.95 394.37L234.22 392.92L234.49 391.37L234.76 389.82L235.02 388.37L235.29 387.13L235.56 386.17L235.83 385.57L236.1 385.37L236.37 385.57L236.64 386.17L236.91 387.13L237.17 388.37L237.44 389.82L237.71 391.37L237.98 392.92L238.25 394.37L238.52 395.61L238.79 396.57L239.06 397.16L239.32 397.37L239.59 397.16L239.86 396.57L240.13 395.61L240.4 394.37L240.67 392.92L240.94 391.37L241.21 389.82L241.47 388.37L241.74 387.13L242.01 386.17L242.28 385.57L242.55 385.37L242.82 385.57L243.09 386.17L243.36 387.13L243.62 388.37L243.89 389.82L244.16 391.37L244.43 392.92L244.7 394.37L244.97 395.61L245.24 396.57L245.51 397.16L245.77 397.37L246.04 397.16L246.31 396.57L246.58 395.61L246.85 394.37L247.12 392.92L247.39 391.37L247.66 389.82L247.92 388.37L248.19 387.13L248.46 386.17L248.73 385.57L249 385.37L249.27 385.57L249.54 386.17L249.81 387.13L250.07 388.37L250.34 389.82L250.61 391.37L250.88 392.92L251.15 394.37L251.42 395.61L251.69 396.57L251.96 397.16L252.22 397.37L252.49 397.16L252.76 396.57L253.03 395.61L253.3 394.37L253.57 392.92L253.84 391.37L254.11 389.82L254.37 388.37L254.64 387.13L254.91 386.17L255.18 385.57L255.45 385.37L255.72 385.57L255.99 386.17L256.26 387.13L256.52 388.37L256.79 389.82L257.06 391.37L257.33 392.92L257.6 394.37L257.87 395.61L258.14 396.57L258.41 397.16L258.67 397.37L258.94 397.16L259.21 396.57L259.48 395.61L259.75 394.37L260.02 392.92L260.29 391.37L260.56 389.82L260.82 388.37L261.09 387.13L261.36 386.17L261.63 385.57L261.9 385.37L262.17 385.57L262.44 386.17L262.71 387.13L262.97 388.37L263.24 389.82L263.51 391.37L263.78 392.92L264.05 394.37L264.32 395.61L264.59 396.57L264.86 397.16L265.12 397.37L265.39 397.16L265.66 396.57L265.93 395.61L266.2 394.37L266.47 392.92L266.74 391.37L267.01 389.82L267.27 388.37L267.54 387.13L267.81 386.17L268.08 385.57L268.35 385.37L268.62 385.57L268.89 386.17L269.16 387.13L269.42 388.37L269.69 389.82L269.96 391.37L270.23 392.92L270.5 394.37L270.77 395.61L271.04 396.57L271.31 397.16L271.57 397.37L271.84 397.16L272.11 396.57L272.38 395.61L272.65 394.37L272.92 392.92L273.19 391.37L273.46 389.82L273.73 388.37L273.99 387.13L274.26 386.17L274.53 385.57L274.8 385.37L275.07 385.57L275.34 386.17L275.61 387.13L275.88 388.37L276.14 389.82L276.41 391.37L276.68 392.92L276.95 394.37L277.22 395.61L277.49 396.57L277.76 397.16L278.03 397.37L278.29 397.16L278.56 396.57L278.83 395.61L279.1 394.37L279.37 392.92L279.64 391.37L279.91 389.82L280.18 388.37L280.44 387.13L280.71 386.17L280.98 385.57L281.25 385.37L281.52 385.57L281.79 386.17L282.06 387.13L282.33 388.37L282.59 389.82L282.86 391.37L283.13 392.92L283.4 394.37L283.67 395.61L283.94 396.57L284.21 397.16L284.48 397.37L284.74 397.16L285.01 396.57L285.28 395.61L285.55 394.37L285.82 392.92L286.09 391.37L286.36 389.82L286.63 388.37L286.89 387.13L287.16 386.17L287.43 385.57L287.7 385.37L287.97 385.57L288.24 386.17L288.51 387.13L288.78 388.37L289.04 389.82L289.31 391.37L289.58 392.92L289.85 394.37L290.12 395.61L290.39 396.57L290.66 397.16L290.93 397.37L291.19 397.16L291.46 396.57L291.73 395.61L292 394.37L292.27 392.92L292.54 391.37L292.81 389.82L293.08 388.37L293.34 387.13L293.61 386.17L293.88 385.57L294.15 385.37L294.42 385.57L294.69 386.17L294.96 387.13L295.23 388.37L295.49 389.82L295.76 391.37L296.03 392.92L296.3 394.37L296.57 395.61L296.84 396.57L297.11 397.16L297.38 397.37L297.64 397.16L297.91 396.57L298.18 395.61L298.45 394.37L298.72 392.92L298.99 391.37L299.26 389.82L299.53 388.37L299.79 387.13L300.06 386.17L300.33 385.57L300.6 385.37L300.87 385.57L301.14 386.17L301.41 387.13L301.68 388.37L301.94 389.82L302.21 391.37L302.48 392.92L302.75 394.37L303.02 395.61L303.29 396.57L303.56 397.16L303.83 397.37L304.09 397.16L304.36 396.57L304.63 395.61L304.9 394.37L305.17 392.92L305.44 391.37L305.71 389.82L305.98 388.37L306.24 387.13L306.51 386.17L306.78 385.57L307.05 385.37L307.32 385.57L307.59 386.17L307.86 387.13L308.13 388.37L308.39 389.82L308.66 391.37L308.93 392.92L309.2 394.37L309.47 395.61L309.74 396.57L310.01 397.16L310.28 397.37L310.54 397.16L310.81 396.57L311.08 395.61L311.35 394.37L311.62 392.92L311.89 391.37L312.16 389.82L312.43 388.37L312.69 387.13L312.96 386.17L313.23 385.57L313.5 385.37L313.77 385.57L314.04 386.17L314.31 387.13L314.58 388.37L314.84 389.82L315.11 391.37L315.38 392.92L315.65 394.37L315.92 395.61L316.19 396.57L316.46 397.16L316.73 397.37L316.99 397.16L317.26 396.57L317.53 395.61L317.8 394.37L318.07 392.92L318.34 391.37L318.61 389.82L318.88 388.37L319.14 387.13L319.41 386.17L319.68 385.57L319.95 385.37L320.22 385.57L320.49 386.17L320.76 387.13L321.03 388.37L321.29 389.82L321.56 391.37L321.83 392.92L322.1 394.37L322.37 395.61L322.64 396.57L322.91 397.16L323.18 397.37L323.44 397.16L323.71 396.57L323.98 395.61L324.25 394.37L324.52 392.92L324.79 391.37L325.06 389.82L325.33 388.37L325.59 387.13L325.86 386.17L326.13 385.57L326.4 385.37L326.67 385.57L326.94 386.17L327.21 387.13L327.48 388.37L327.74 389.82L328.01 391.37L328.28 392.92L328.55 394.37L328.82 395.61L329.09 396.57L329.36 397.16L329.63 397.37L329.89 397.16L330.16 396.57L330.43 395.61L330.7 394.37L330.97 392.92L331.24 391.37L331.51 389.82L331.78 388.37L332.04 387.13L332.31 386.17L332.58 385.57L332.85 385.37L333.12 385.57L333.39 386.17L333.66 387.13L333.93 388.37L334.19 389.82L334.46 391.37L334.73 392.92L335 394.37L335.27 395.61L335.54 396.57L335.81 397.16L336.08 397.37L336.34 397.16L336.61 396.57L336.88 395.61L337.15 394.37L337.42 392.92L337.69 391.37L337.96 389.82L338.23 388.37L338.49 387.13L338.76 386.17L339.03 385.57L339.3 385.37L339.57 385.57L339.84 386.17L340.11 387.13L340.38 388.37L340.64 389.82L340.91 391.37L341.18 392.92L341.45 394.37L341.72 395.61L341.99 396.57L342.26 397.16L342.53 397.37L342.79 397.16L343.06 396.57L343.33 395.61L343.6 394.37L343.87 392.92L344.14 391.37L344.41 389.82L344.68 388.37L344.94 387.13L345.21 386.17L345.48 385.57L345.75 385.37L346.02 385.57L346.29 386.17L346.56 387.13L346.83 388.37L347.09 389.82L347.36 391.37L347.63 392.92L347.9 394.37L348.17 395.61L348.44 396.57L348.71 397.16L348.98 397.37L349.24 397.16L349.51 396.57L349.78 395.61L350.05 394.37L350.32 392.92L350.59 391.37L350.86 389.82L351.13 388.37L351.39 387.13L351.66 386.17L351.93 385.57L352.2 385.37L352.47 385.57L352.74 386.17L353.01 387.13L353.28 388.37L353.54 389.82L353.81 391.37L354.08 392.92L354.35 394.37L354.62 395.61L354.89 396.57L355.16 397.16L355.43 397.37L355.69 397.16L355.96 396.57L356.23 395.61L356.5 394.37L356.77 392.92L357.04 391.37L357.31 389.82L357.58 388.37L357.84 387.13L358.11 386.17L358.38 385.57L358.65 385.37L358.92 385.57L359.19 386.17L359.46 387.13L359.73 388.37L359.99 389.82L360.26 391.37L360.53 392.92L360.8 394.37L361.07 395.61L361.34 396.57L361.61 397.16L361.88 397.37L362.14 397.16L362.41 396.57L362.68 395.61L362.95 394.37L363.22 392.92L363.49 391.37L363.76 389.82L364.03 388.37L364.29 387.13L364.56 386.17L364.83 385.57L365.1 385.37L365.37 385.57L365.64 386.17L365.91 387.13L366.18 388.37L366.44 389.82L366.71 391.37L366.98 392.92L367.25 394.37L367.52 395.61L367.79 396.57L368.06 397.16L368.33 397.37L368.59 397.16L368.86 396.57L369.13 395.61L369.4 394.37L369.67 392.92L369.94 391.37L370.21 389.82L370.48 388.37L370.74 387.13L371.01 386.17L371.28 385.57L371.55 385.37L371.82 385.57L372.09 386.17L372.36 387.13L372.63 388.37L372.89 389.82L373.16 391.37L373.43 392.92L373.7 394.37L373.97 395.61L374.24 396.57L374.51 397.16L374.78 397.37L375.04 397.16L375.31 396.57L375.58 395.61L375.85 394.37L376.12 392.92L376.39 391.37L376.66 389.82L376.93 388.37L377.19 387.13L377.46 386.17L377.73 385.57L378 385.37L378.27 385.57L378.54 386.17L378.81 387.13L379.08 388.37L379.34 389.82L379.61 391.37L379.88 392.92L380.15 394.37L380.42 395.61L380.69 396.57L380.96 397.16L381.23 397.37L381.49 397.16L381.76 396.57L382.03 395.61L382.3 394.37L382.57 392.92L382.84 391.37L383.11 389.82L383.38 388.37L383.64 387.13L383.91 386.17L384.18 385.57L384.45 385.37L384.72 385.57L384.99 386.17L385.26 387.13L385.53 388.37L385.79 389.82L386.06 391.37L386.33 392.92L386.6 394.37L386.87 395.61L387.14 396.57L387.41 397.16L387.68 397.37L387.94 397.16L388.21 396.57L388.48 395.61L388.75 394.37L389.02 392.92L389.29 391.37L389.56 389.82L389.83 388.37L390.09 387.13L390.36 386.17L390.63 385.57L390.9 385.37L391.17 385.57L391.44 386.17L391.71 387.13L391.98 388.37L392.24 389.82L392.51 391.37L392.78 392.92L393.05 394.37L393.32 395.61L393.59 396.57L393.86 397.16L394.13 397.37L394.39 397.16L394.66 396.57L394.93 395.61L395.2 394.37L395.47 392.92L395.74 391.37L396.01 389.82L396.28 388.37L396.54 387.13L396.81 386.17L397.08 385.57L397.35 385.37L397.62 385.57L397.89 386.17L398.16 387.13L398.43 388.37L398.69 389.82L398.96 391.37L399.23 392.92L399.5 394.37L399.77 395.61L400.04 396.57L400.31 397.16L400.58 397.37L400.84 397.16L401.11 396.57L401.38 395.61L401.65 394.37L401.92 392.92L402.19 391.37L402.46 389.82L402.73 388.37L402.99 387.13L403.26 386.17L403.53 385.57L403.8 385.37L404.07 385.57L404.34 386.17L404.61 387.13L404.88 388.37L405.14 389.82L405.41 391.37L405.68 392.92L405.95 394.37L406.22 395.61L406.49 396.57L406.76 397.16L407.03 397.37L407.29 397.16L407.56 396.57L407.83 395.61L408.1 394.37L408.37 392.92L408.64 391.37L408.91 389.82L409.18 388.37L409.44 387.13L409.71 386.17L409.98 385.57L410.25 385.37L410.58 385.95L410.9 386.53" stroke="#dc9e12" stroke-width="1.75" fill="none" stroke-linejoin="round" stroke-dasharray="3.4 2.4"/>
<path d="M131.3 92.4H238.2" stroke="#555" stroke-width="1.0"/>
<path d="M131.3 92.6L131.55 92.58L131.81 92.51L132.06 92.4L132.32 92.25L132.57 92.06L132.82 91.83L133.08 91.57L133.33 91.28L133.58 90.97L133.84 90.63L134.09 90.28L134.35 89.92L134.6 89.55L134.85 89.18L135.11 88.82L135.36 88.47L135.62 88.13L135.87 87.82L136.12 87.53L136.38 87.27L136.63 87.04L136.88 86.85L137.14 86.7L137.39 86.59L137.65 86.52L137.9 86.5L138.15 86.51L138.4 86.54L138.65 86.6L138.9 86.68L139.16 86.78L139.41 86.9L139.66 87.04L139.91 87.2L140.16 87.38L140.41 87.58L140.66 87.8L140.91 88.03L141.16 88.29L141.41 88.55L141.67 88.83L141.92 89.12L142.17 89.43L142.42 89.74L142.67 90.07L142.92 90.4L143.17 90.74L143.42 91.08L143.67 91.43L143.92 91.78L144.18 92.12L144.43 92.47L144.68 92.82L144.93 93.16L145.18 93.5L145.43 93.83L145.68 94.16L145.93 94.47L146.18 94.78L146.43 95.07L146.69 95.35L146.94 95.61L147.19 95.87L147.44 96.1L147.69 96.32L147.94 96.52L148.19 96.7L148.44 96.86L148.69 97L148.94 97.12L149.2 97.22L149.45 97.3L149.7 97.36L149.95 97.39L150.2 97.4L150.45 97.39L150.7 97.37L150.95 97.32L151.2 97.26L151.45 97.19L151.71 97.09L151.96 96.98L152.21 96.86L152.46 96.72L152.71 96.56L152.96 96.39L153.21 96.21L153.46 96.02L153.71 95.81L153.96 95.59L154.22 95.36L154.47 95.12L154.72 94.87L154.97 94.61L155.22 94.34L155.47 94.07L155.72 93.79L155.97 93.51L156.22 93.22L156.47 92.94L156.72 92.65L156.98 92.35L157.23 92.06L157.48 91.78L157.73 91.49L157.98 91.21L158.23 90.93L158.48 90.66L158.73 90.39L158.98 90.13L159.23 89.88L159.48 89.64L159.74 89.41L159.99 89.19L160.24 88.98L160.49 88.79L160.74 88.61L160.99 88.44L161.24 88.28L161.49 88.14L161.74 88.02L161.99 87.91L162.25 87.81L162.5 87.74L162.75 87.68L163 87.63L163.25 87.61L163.5 87.6L163.75 87.61L164 87.63L164.25 87.67L164.5 87.72L164.75 87.79L165 87.88L165.25 87.98L165.5 88.09L165.75 88.22L166 88.36L166.25 88.52L166.5 88.68L166.75 88.86L167 89.05L167.25 89.25L167.5 89.46L167.75 89.68L168 89.9L168.25 90.14L168.5 90.38L168.75 90.62L169 90.87L169.25 91.12L169.5 91.38L169.75 91.64L170 91.9L170.25 92.16L170.5 92.42L170.75 92.68L171 92.93L171.25 93.18L171.5 93.42L171.75 93.66L172 93.9L172.25 94.12L172.5 94.34L172.75 94.55L173 94.75L173.25 94.94L173.5 95.12L173.75 95.28L174 95.44L174.25 95.58L174.5 95.71L174.75 95.82L175 95.92L175.25 96.01L175.5 96.08L175.75 96.13L176 96.17L176.25 96.19L176.5 96.2L176.75 96.19L177 96.17L177.25 96.13L177.5 96.08L177.75 96.01L178 95.93L178.25 95.84L178.5 95.73L178.75 95.61L179 95.47L179.25 95.33L179.5 95.17L179.75 95L180 94.82L180.25 94.63L180.5 94.44L180.75 94.23L181 94.02L181.25 93.8L181.5 93.57L181.75 93.35L182 93.11L182.25 92.88L182.5 92.64L182.75 92.4L183 92.16L183.25 91.92L183.5 91.69L183.75 91.45L184 91.23L184.25 91L184.5 90.78L184.75 90.57L185 90.36L185.25 90.17L185.5 89.98L185.75 89.8L186 89.63L186.25 89.47L186.5 89.33L186.75 89.19L187 89.07L187.25 88.96L187.5 88.87L187.75 88.79L188 88.72L188.25 88.67L188.5 88.63L188.75 88.61L189 88.6L189.25 88.61L189.5 88.62L189.75 88.65L190 88.69L190.25 88.75L190.5 88.81L190.75 88.89L191 88.97L191.25 89.07L191.5 89.18L191.75 89.29L192 89.42L192.25 89.55L192.5 89.69L192.75 89.85L193 90L193.25 90.17L193.5 90.34L193.75 90.52L194 90.7L194.25 90.88L194.5 91.07L194.75 91.26L195 91.46L195.25 91.65L195.5 91.85L195.75 92.05L196 92.24L196.25 92.44L196.5 92.63L196.75 92.82L197 93L197.25 93.18L197.5 93.36L197.75 93.53L198 93.7L198.25 93.85L198.5 94.01L198.75 94.15L199 94.28L199.25 94.41L199.5 94.52L199.75 94.63L200 94.73L200.25 94.81L200.5 94.89L200.75 94.95L201 95.01L201.25 95.05L201.5 95.08L201.75 95.09L202 95.1L202.25 95.1L202.51 95.08L202.76 95.06L203.01 95.02L203.26 94.98L203.52 94.92L203.77 94.86L204.02 94.79L204.28 94.71L204.53 94.62L204.78 94.53L205.03 94.42L205.29 94.31L205.54 94.19L205.79 94.06L206.05 93.93L206.3 93.79L206.55 93.65L206.8 93.5L207.06 93.35L207.31 93.2L207.56 93.04L207.82 92.88L208.07 92.71L208.32 92.55L208.57 92.38L208.83 92.22L209.08 92.05L209.33 91.89L209.58 91.72L209.84 91.56L210.09 91.4L210.34 91.25L210.6 91.1L210.85 90.95L211.1 90.81L211.35 90.67L211.61 90.54L211.86 90.41L212.11 90.29L212.37 90.18L212.62 90.07L212.87 89.98L213.12 89.89L213.38 89.81L213.63 89.74L213.88 89.68L214.14 89.62L214.39 89.58L214.64 89.54L214.89 89.52L215.15 89.5L215.4 89.5L215.65 89.5L215.91 89.52L216.16 89.54L216.42 89.57L216.67 89.62L216.93 89.67L217.18 89.73L217.43 89.79L217.69 89.87L217.94 89.95L218.2 90.05L218.45 90.14L218.7 90.25L218.96 90.36L219.21 90.48L219.47 90.6L219.72 90.73L219.97 90.86L220.23 90.99L220.48 91.13L220.74 91.27L220.99 91.41L221.25 91.56L221.5 91.7L221.75 91.84L222.01 91.99L222.26 92.13L222.52 92.27L222.77 92.41L223.03 92.54L223.28 92.67L223.53 92.8L223.79 92.92L224.04 93.04L224.3 93.15L224.55 93.26L224.8 93.35L225.06 93.45L225.31 93.53L225.57 93.61L225.82 93.67L226.07 93.73L226.33 93.78L226.58 93.83L226.84 93.86L227.09 93.88L227.35 93.9L227.6 93.9L227.85 93.9L228.1 93.89L228.36 93.88L228.61 93.87L228.86 93.85L229.11 93.83L229.37 93.8L229.62 93.77L229.87 93.74L230.12 93.7L230.38 93.66L230.63 93.62L230.88 93.57L231.13 93.53L231.39 93.48L231.64 93.42L231.89 93.37L232.14 93.32L232.4 93.26L232.65 93.21L232.9 93.15L233.15 93.09L233.4 93.04L233.66 92.98L233.91 92.93L234.16 92.88L234.41 92.82L234.67 92.78L234.92 92.73L235.17 92.68L235.42 92.64L235.68 92.6L235.93 92.56L236.18 92.53L236.43 92.5L236.69 92.47L236.94 92.45L237.19 92.43L237.44 92.42L237.7 92.41L237.95 92.4L238.2 92.4" stroke="#f03a3a" stroke-width="1.1" fill="none" stroke-linejoin="round" />
<path d="M131.3 88L131.55 87.86L131.81 87.43L132.06 86.75L132.31 85.83L132.57 84.73L132.82 83.47L133.07 82.13L133.33 80.77L133.58 79.43L133.83 78.18L134.09 77.07L134.34 76.15L134.59 75.47L134.85 75.04L135.1 74.9L135.35 74.96L135.6 75.14L135.85 75.45L136.1 75.87L136.35 76.4L136.6 77.05L136.85 77.8L137.11 78.65L137.36 79.6L137.61 80.63L137.86 81.75L138.11 82.94L138.36 84.19L138.61 85.5L138.86 86.85L139.11 88.24L139.36 89.65L139.61 91.08L139.86 92.52L140.11 93.95L140.36 95.36L140.61 96.75L140.87 98.1L141.12 99.41L141.37 100.66L141.62 101.85L141.87 102.97L142.12 104L142.37 104.95L142.62 105.8L142.87 106.55L143.12 107.2L143.37 107.73L143.62 108.15L143.87 108.46L144.12 108.64L144.38 108.7L144.63 108.64L144.88 108.46L145.13 108.15L145.38 107.73L145.63 107.2L145.88 106.55L146.13 105.8L146.38 104.95L146.63 104L146.88 102.97L147.13 101.85L147.38 100.66L147.63 99.41L147.88 98.1L148.14 96.75L148.39 95.36L148.64 93.95L148.89 92.52L149.14 91.08L149.39 89.65L149.64 88.24L149.89 86.85L150.14 85.5L150.39 84.19L150.64 82.94L150.89 81.75L151.14 80.63L151.39 79.6L151.64 78.65L151.9 77.8L152.15 77.05L152.4 76.4L152.65 75.87L152.9 75.45L153.15 75.14L153.4 74.96L153.65 74.9L153.9 74.96L154.15 75.14L154.4 75.45L154.65 75.87L154.9 76.4L155.15 77.05L155.4 77.8L155.66 78.65L155.91 79.6L156.16 80.63L156.41 81.75L156.66 82.94L156.91 84.19L157.16 85.5L157.41 86.85L157.66 88.24L157.91 89.65L158.16 91.08L158.41 92.52L158.66 93.95L158.91 95.36L159.16 96.75L159.42 98.1L159.67 99.41L159.92 100.66L160.17 101.85L160.42 102.97L160.67 104L160.92 104.95L161.17 105.8L161.42 106.55L161.67 107.2L161.92 107.73L162.17 108.15L162.42 108.46L162.67 108.64L162.93 108.7L163.18 108.64L163.43 108.46L163.68 108.15L163.93 107.73L164.18 107.2L164.43 106.55L164.68 105.8L164.93 104.95L165.18 104L165.43 102.97L165.68 101.85L165.93 100.66L166.18 99.41L166.43 98.1L166.69 96.75L166.94 95.36L167.19 93.95L167.44 92.52L167.69 91.08L167.94 89.65L168.19 88.24L168.44 86.85L168.69 85.5L168.94 84.19L169.19 82.94L169.44 81.75L169.69 80.63L169.94 79.6L170.19 78.65L170.45 77.8L170.7 77.05L170.95 76.4L171.2 75.87L171.45 75.45L171.7 75.14L171.95 74.96L172.2 74.9L172.45 74.96L172.7 75.14L172.95 75.45L173.2 75.87L173.45 76.4L173.7 77.05L173.95 77.8L174.21 78.65L174.46 79.6L174.71 80.63L174.96 81.75L175.21 82.94L175.46 84.19L175.71 85.5L175.96 86.85L176.21 88.24L176.46 89.65L176.71 91.08L176.96 92.52L177.21 93.95L177.46 95.36L177.71 96.75L177.97 98.1L178.22 99.41L178.47 100.66L178.72 101.85L178.97 102.97L179.22 104L179.47 104.95L179.72 105.8L179.97 106.55L180.22 107.2L180.47 107.73L180.72 108.15L180.97 108.46L181.22 108.64L181.48 108.7L181.73 108.64L181.98 108.46L182.23 108.15L182.48 107.73L182.73 107.2L182.98 106.55L183.23 105.8L183.48 104.95L183.73 104L183.98 102.97L184.23 101.85L184.48 100.66L184.73 99.41L184.98 98.1L185.24 96.75L185.49 95.36L185.74 93.95L185.99 92.52L186.24 91.08L186.49 89.65L186.74 88.24L186.99 86.85L187.24 85.5L187.49 84.19L187.74 82.94L187.99 81.75L188.24 80.63L188.49 79.6L188.74 78.65L189 77.8L189.25 77.05L189.5 76.4L189.75 75.87L190 75.45L190.25 75.14L190.5 74.96L190.75 74.9L191 74.96L191.25 75.14L191.5 75.45L191.75 75.87L192 76.4L192.25 77.05L192.5 77.8L192.76 78.65L193.01 79.6L193.26 80.63L193.51 81.75L193.76 82.94L194.01 84.19L194.26 85.5L194.51 86.85L194.76 88.24L195.01 89.65L195.26 91.08L195.51 92.52L195.76 93.95L196.01 95.36L196.26 96.75L196.52 98.1L196.77 99.41L197.02 100.66L197.27 101.85L197.52 102.97L197.77 104L198.02 104.95L198.27 105.8L198.52 106.55L198.77 107.2L199.02 107.73L199.27 108.15L199.52 108.46L199.77 108.64L200.03 108.7L200.28 108.64L200.53 108.46L200.78 108.15L201.03 107.73L201.28 107.2L201.53 106.55L201.78 105.8L202.03 104.95L202.28 104L202.53 102.97L202.78 101.85L203.03 100.66L203.28 99.41L203.53 98.1L203.79 96.75L204.04 95.36L204.29 93.95L204.54 92.52L204.79 91.08L205.04 89.65L205.29 88.24L205.54 86.85L205.79 85.5L206.04 84.19L206.29 82.94L206.54 81.75L206.79 80.63L207.04 79.6L207.29 78.65L207.55 77.8L207.8 77.05L208.05 76.4L208.3 75.87L208.55 75.45L208.8 75.14L209.05 74.96L209.3 74.9L209.55 74.96L209.8 75.14L210.05 75.45L210.3 75.87L210.55 76.4L210.8 77.05L211.05 77.8L211.31 78.65L211.56 79.6L211.81 80.63L212.06 81.75L212.31 82.94L212.56 84.19L212.81 85.5L213.06 86.85L213.31 88.24L213.56 89.65L213.81 91.08L214.06 92.52L214.31 93.95L214.56 95.36L214.81 96.75L215.07 98.1L215.32 99.41L215.57 100.66L215.82 101.85L216.07 102.97L216.32 104L216.57 104.95L216.82 105.8L217.07 106.55L217.32 107.2L217.57 107.73L217.82 108.15L218.07 108.46L218.32 108.64L218.58 108.7L218.83 108.64L219.08 108.46L219.33 108.15L219.58 107.73L219.83 107.2L220.08 106.55L220.33 105.8L220.58 104.95L220.83 104L221.08 102.97L221.33 101.85L221.58 100.66L221.83 99.41L222.08 98.1L222.34 96.75L222.59 95.36L222.84 93.95L223.09 92.52L223.34 91.08L223.59 89.65L223.84 88.24L224.09 86.85L224.34 85.5L224.59 84.19L224.84 82.94L225.09 81.75L225.34 80.63L225.59 79.6L225.84 78.65L226.1 77.8L226.35 77.05L226.6 76.4L226.85 75.87L227.1 75.45L227.35 75.14L227.6 74.96L227.85 74.9L228.1 74.96L228.35 75.14L228.6 75.45L228.85 75.87L229.1 76.4L229.35 77.05L229.6 77.8L229.86 78.65L230.11 79.6L230.36 80.63L230.61 81.75L230.86 82.94L231.11 84.19L231.36 85.5L231.61 86.85L231.86 88.24L232.11 89.65L232.36 91.08L232.61 92.52L232.86 93.95L233.11 95.36L233.36 96.75L233.62 98.1L233.87 99.41L234.12 100.66L234.37 101.85L234.62 102.97L234.87 104L235.12 104.95L235.37 105.8L235.62 106.55L235.87 107.2L236.12 107.73L236.37 108.15L236.62 108.46L236.87 108.64L237.13 108.7L237.39 108.54L237.66 108.15L237.93 107.75L238.2 107.59" stroke="#1f66e0" stroke-width="1.2" fill="none" stroke-linejoin="round" />
<path d="M386.1 94.2H508.7" stroke="#555" stroke-width="1.0"/>
<path d="M386.1 99.9L386.36 99.92L386.62 99.97L386.88 100.06L387.15 100.18L387.41 100.32L387.67 100.47L387.93 100.63L388.19 100.78L388.45 100.92L388.72 101.04L388.98 101.13L389.24 101.18L389.5 101.2L389.75 101.19L390.01 101.16L390.26 101.11L390.51 101.04L390.77 100.96L391.02 100.85L391.27 100.72L391.53 100.58L391.78 100.42L392.03 100.24L392.29 100.05L392.54 99.83L392.79 99.61L393.05 99.36L393.3 99.11L393.56 98.84L393.81 98.55L394.06 98.26L394.32 97.95L394.57 97.64L394.82 97.31L395.08 96.98L395.33 96.64L395.58 96.29L395.84 95.94L396.09 95.58L396.34 95.22L396.6 94.86L396.85 94.5L397.1 94.14L397.36 93.78L397.61 93.42L397.86 93.06L398.12 92.71L398.37 92.36L398.62 92.02L398.88 91.69L399.13 91.36L399.38 91.05L399.64 90.74L399.89 90.45L400.14 90.16L400.4 89.89L400.65 89.64L400.91 89.39L401.16 89.17L401.41 88.95L401.67 88.76L401.92 88.58L402.17 88.42L402.43 88.28L402.68 88.15L402.93 88.04L403.19 87.96L403.44 87.89L403.69 87.84L403.95 87.81L404.2 87.8L404.45 87.81L404.7 87.83L404.95 87.87L405.2 87.93L405.45 88L405.7 88.09L405.96 88.2L406.21 88.32L406.46 88.45L406.71 88.6L406.96 88.77L407.21 88.95L407.46 89.14L407.71 89.34L407.96 89.56L408.21 89.79L408.46 90.03L408.71 90.28L408.97 90.54L409.22 90.81L409.47 91.09L409.72 91.37L409.97 91.66L410.22 91.96L410.47 92.27L410.72 92.58L410.97 92.89L411.22 93.2L411.47 93.52L411.72 93.84L411.98 94.16L412.23 94.48L412.48 94.8L412.73 95.11L412.98 95.42L413.23 95.73L413.48 96.04L413.73 96.34L413.98 96.63L414.23 96.91L414.48 97.19L414.73 97.46L414.99 97.72L415.24 97.97L415.49 98.21L415.74 98.44L415.99 98.66L416.24 98.86L416.49 99.05L416.74 99.23L416.99 99.4L417.24 99.55L417.49 99.68L417.74 99.8L418 99.91L418.25 100L418.5 100.07L418.75 100.13L419 100.17L419.25 100.19L419.5 100.2L419.75 100.19L420.01 100.17L420.26 100.13L420.51 100.08L420.77 100.01L421.02 99.93L421.27 99.84L421.53 99.73L421.78 99.61L422.03 99.47L422.29 99.32L422.54 99.16L422.79 98.99L423.05 98.8L423.3 98.6L423.55 98.4L423.81 98.18L424.06 97.95L424.31 97.72L424.57 97.48L424.82 97.22L425.07 96.97L425.33 96.7L425.58 96.43L425.83 96.16L426.09 95.88L426.34 95.6L426.59 95.32L426.85 95.04L427.1 94.75L427.35 94.46L427.61 94.18L427.86 93.9L428.11 93.62L428.37 93.34L428.62 93.07L428.87 92.8L429.13 92.53L429.38 92.28L429.63 92.03L429.89 91.78L430.14 91.55L430.39 91.32L430.65 91.1L430.9 90.9L431.15 90.7L431.41 90.51L431.66 90.34L431.91 90.18L432.17 90.03L432.42 89.89L432.67 89.77L432.93 89.66L433.18 89.57L433.43 89.49L433.69 89.42L433.94 89.37L434.19 89.33L434.45 89.31L434.7 89.3L434.95 89.31L435.2 89.32L435.45 89.35L435.7 89.38L435.95 89.43L436.2 89.49L436.45 89.55L436.7 89.63L436.95 89.71L437.2 89.81L437.45 89.91L437.7 90.03L437.95 90.15L438.2 90.28L438.45 90.41L438.7 90.56L438.95 90.71L439.2 90.87L439.45 91.04L439.7 91.21L439.95 91.38L440.2 91.57L440.45 91.75L440.7 91.94L440.95 92.14L441.2 92.33L441.45 92.53L441.7 92.74L441.95 92.94L442.2 93.14L442.45 93.35L442.7 93.56L442.95 93.76L443.2 93.96L443.45 94.17L443.7 94.37L443.95 94.56L444.2 94.76L444.45 94.95L444.7 95.13L444.95 95.32L445.2 95.49L445.45 95.66L445.7 95.83L445.95 95.99L446.2 96.14L446.45 96.29L446.7 96.42L446.95 96.55L447.2 96.67L447.45 96.79L447.7 96.89L447.95 96.99L448.2 97.07L448.45 97.15L448.7 97.21L448.95 97.27L449.2 97.32L449.45 97.35L449.7 97.38L449.95 97.39L450.2 97.4L450.45 97.4L450.7 97.39L450.96 97.38L451.21 97.36L451.46 97.33L451.71 97.3L451.96 97.26L452.22 97.22L452.47 97.18L452.72 97.13L452.97 97.07L453.22 97.01L453.48 96.94L453.73 96.87L453.98 96.8L454.23 96.72L454.48 96.63L454.74 96.54L454.99 96.45L455.24 96.36L455.49 96.26L455.75 96.15L456 96.05L456.25 95.94L456.5 95.82L456.75 95.71L457.01 95.59L457.26 95.47L457.51 95.35L457.76 95.23L458.01 95.1L458.27 94.98L458.52 94.85L458.77 94.72L459.02 94.59L459.27 94.46L459.53 94.34L459.78 94.21L460.03 94.08L460.28 93.95L460.53 93.82L460.79 93.7L461.04 93.57L461.29 93.45L461.54 93.33L461.79 93.21L462.05 93.09L462.3 92.98L462.55 92.86L462.8 92.75L463.05 92.65L463.31 92.54L463.56 92.44L463.81 92.35L464.06 92.26L464.32 92.17L464.57 92.08L464.82 92L465.07 91.93L465.32 91.86L465.58 91.79L465.83 91.73L466.08 91.67L466.33 91.62L466.58 91.58L466.84 91.54L467.09 91.5L467.34 91.47L467.59 91.44L467.84 91.42L468.1 91.41L468.35 91.4L468.6 91.4L468.85 91.4L469.1 91.41L469.36 91.43L469.61 91.45L469.86 91.47L470.11 91.5L470.37 91.54L470.62 91.58L470.87 91.63L471.12 91.69L471.38 91.74L471.63 91.81L471.88 91.88L472.13 91.95L472.39 92.03L472.64 92.11L472.89 92.2L473.14 92.28L473.4 92.38L473.65 92.48L473.9 92.58L474.15 92.68L474.4 92.78L474.66 92.89L474.91 93L475.16 93.11L475.41 93.23L475.67 93.34L475.92 93.46L476.17 93.57L476.42 93.69L476.68 93.81L476.93 93.93L477.18 94.04L477.43 94.16L477.69 94.27L477.94 94.39L478.19 94.5L478.44 94.61L478.7 94.72L478.95 94.82L479.2 94.92L479.45 95.02L479.7 95.12L479.96 95.22L480.21 95.3L480.46 95.39L480.71 95.47L480.97 95.55L481.22 95.62L481.47 95.69L481.72 95.76L481.98 95.81L482.23 95.87L482.48 95.92L482.73 95.96L482.99 96L483.24 96.03L483.49 96.05L483.74 96.07L484 96.09L484.25 96.1L484.5 96.1L484.75 96.1L485 96.09L485.25 96.09L485.5 96.07L485.75 96.06L486 96.04L486.25 96.02L486.5 96L486.75 95.97L487 95.94L487.25 95.91L487.5 95.87L487.75 95.83L488 95.79L488.25 95.75L488.5 95.7L488.75 95.65L489 95.6L489.25 95.55L489.5 95.49L489.75 95.43L490 95.38L490.25 95.31L490.5 95.25L490.75 95.19L491 95.12L491.25 95.06L491.5 94.99L491.75 94.92L492 94.86L492.25 94.79L492.5 94.72L492.75 94.65L493 94.58L493.25 94.51L493.5 94.44L493.75 94.38L494 94.31L494.25 94.24L494.5 94.18L494.75 94.11L495 94.05L495.25 93.99L495.5 93.92L495.75 93.87L496 93.81L496.25 93.75L496.5 93.7L496.75 93.65L497 93.6L497.25 93.55L497.5 93.51L497.75 93.47L498 93.43L498.25 93.39L498.5 93.36L498.75 93.33L499 93.3L499.25 93.28L499.5 93.26L499.75 93.24L500 93.23L500.25 93.21L500.5 93.21L500.75 93.2L501 93.2L501.26 93.2L501.51 93.21L501.77 93.22L502.03 93.24L502.28 93.27L502.54 93.3L502.8 93.33L503.05 93.37L503.31 93.41L503.57 93.45L503.82 93.5L504.08 93.55L504.34 93.6L504.59 93.65L504.85 93.7L505.11 93.75L505.36 93.8L505.62 93.85L505.88 93.9L506.13 93.95L506.39 93.99L506.65 94.03L506.9 94.07L507.16 94.1L507.42 94.13L507.67 94.16L507.93 94.18L508.19 94.19L508.44 94.2L508.7 94.2" stroke="#f03a3a" stroke-width="1.1" fill="none" stroke-linejoin="round" />
<path d="M386.1 93.5L386.35 93.44L386.6 93.28L386.85 93L387.1 92.62L387.35 92.15L387.6 91.58L387.85 90.94L388.1 90.23L388.35 89.46L388.6 88.65L388.85 87.8L389.1 86.95L389.35 86.1L389.6 85.25L389.85 84.44L390.1 83.68L390.35 82.96L390.6 82.32L390.85 81.75L391.1 81.28L391.35 80.9L391.6 80.62L391.85 80.46L392.1 80.4L392.35 80.43L392.61 80.51L392.86 80.64L393.12 80.83L393.37 81.07L393.62 81.36L393.88 81.7L394.13 82.09L394.39 82.53L394.64 83.02L394.89 83.54L395.15 84.11L395.4 84.72L395.66 85.37L395.91 86.05L396.16 86.76L396.42 87.5L396.67 88.27L396.93 89.06L397.18 89.87L397.43 90.69L397.69 91.53L397.94 92.38L398.2 93.24L398.45 94.1L398.7 94.96L398.96 95.82L399.21 96.67L399.47 97.51L399.72 98.33L399.97 99.14L400.23 99.93L400.48 100.7L400.74 101.44L400.99 102.15L401.24 102.83L401.5 103.48L401.75 104.09L402.01 104.66L402.26 105.18L402.51 105.67L402.77 106.11L403.02 106.5L403.28 106.84L403.53 107.13L403.78 107.37L404.04 107.56L404.29 107.69L404.55 107.77L404.8 107.8L405.05 107.77L405.31 107.69L405.56 107.56L405.82 107.38L406.07 107.14L406.32 106.85L406.58 106.52L406.83 106.13L407.09 105.7L407.34 105.22L407.59 104.7L407.85 104.14L408.1 103.54L408.36 102.91L408.61 102.24L408.86 101.53L409.12 100.8L409.37 100.05L409.63 99.27L409.88 98.47L410.13 97.66L410.39 96.83L410.64 95.99L410.9 95.15L411.15 94.3L411.4 93.45L411.66 92.61L411.91 91.77L412.17 90.94L412.42 90.13L412.67 89.33L412.93 88.55L413.18 87.8L413.44 87.07L413.69 86.36L413.94 85.69L414.2 85.06L414.45 84.46L414.71 83.9L414.96 83.38L415.21 82.9L415.47 82.47L415.72 82.08L415.98 81.75L416.23 81.46L416.48 81.22L416.74 81.04L416.99 80.91L417.25 80.83L417.5 80.8L417.75 80.83L418 80.9L418.25 81.03L418.5 81.2L418.75 81.43L419.01 81.7L419.26 82.02L419.51 82.39L419.76 82.8L420.01 83.25L420.26 83.75L420.51 84.28L420.76 84.86L421.01 85.46L421.26 86.1L421.52 86.78L421.77 87.47L422.02 88.2L422.27 88.95L422.52 89.71L422.77 90.5L423.02 91.29L423.27 92.1L423.52 92.92L423.77 93.74L424.03 94.56L424.28 95.38L424.53 96.2L424.78 97.01L425.03 97.8L425.28 98.59L425.53 99.35L425.78 100.1L426.03 100.82L426.28 101.52L426.54 102.2L426.79 102.84L427.04 103.44L427.29 104.02L427.54 104.55L427.79 105.05L428.04 105.5L428.29 105.91L428.54 106.28L428.79 106.6L429.05 106.87L429.3 107.1L429.55 107.27L429.8 107.4L430.05 107.47L430.3 107.5L430.55 107.47L430.81 107.4L431.06 107.27L431.32 107.09L431.57 106.86L431.82 106.58L432.08 106.26L432.33 105.89L432.59 105.47L432.84 105.01L433.09 104.51L433.35 103.96L433.6 103.38L433.86 102.77L434.11 102.12L434.36 101.44L434.62 100.74L434.87 100.01L435.13 99.25L435.38 98.48L435.63 97.7L435.89 96.9L436.14 96.09L436.4 95.27L436.65 94.45L436.9 93.63L437.16 92.81L437.41 92L437.67 91.2L437.92 90.42L438.17 89.65L438.43 88.89L438.68 88.16L438.94 87.46L439.19 86.78L439.44 86.13L439.7 85.52L439.95 84.94L440.21 84.39L440.46 83.89L440.71 83.43L440.97 83.01L441.22 82.64L441.48 82.32L441.73 82.04L441.98 81.81L442.24 81.63L442.49 81.5L442.75 81.43L443 81.4L443.25 81.42L443.51 81.5L443.76 81.62L444.01 81.79L444.26 82.01L444.52 82.27L444.77 82.58L445.02 82.93L445.28 83.33L445.53 83.77L445.78 84.25L446.04 84.77L446.29 85.32L446.54 85.91L446.79 86.53L447.05 87.17L447.3 87.85L447.55 88.55L447.81 89.27L448.06 90.01L448.31 90.77L448.56 91.54L448.82 92.32L449.07 93.11L449.32 93.9L449.58 94.7L449.83 95.49L450.08 96.28L450.34 97.06L450.59 97.83L450.84 98.59L451.09 99.33L451.35 100.05L451.6 100.75L451.85 101.43L452.11 102.07L452.36 102.69L452.61 103.28L452.86 103.83L453.12 104.35L453.37 104.83L453.62 105.27L453.88 105.67L454.13 106.02L454.38 106.33L454.64 106.59L454.89 106.81L455.14 106.98L455.39 107.1L455.65 107.18L455.9 107.2L456.15 107.18L456.4 107.11L456.66 107.01L456.91 106.86L457.16 106.67L457.41 106.44L457.66 106.17L457.91 105.86L458.17 105.51L458.42 105.13L458.67 104.71L458.92 104.25L459.17 103.76L459.43 103.25L459.68 102.7L459.93 102.12L460.18 101.52L460.43 100.9L460.69 100.25L460.94 99.59L461.19 98.91L461.44 98.21L461.69 97.51L461.94 96.79L462.2 96.06L462.45 95.33L462.7 94.6L462.95 93.87L463.2 93.14L463.46 92.41L463.71 91.69L463.96 90.99L464.21 90.29L464.46 89.61L464.71 88.95L464.97 88.3L465.22 87.68L465.47 87.08L465.72 86.5L465.97 85.95L466.23 85.44L466.48 84.95L466.73 84.49L466.98 84.07L467.23 83.69L467.49 83.34L467.74 83.03L467.99 82.76L468.24 82.53L468.49 82.34L468.74 82.19L469 82.09L469.25 82.02L469.5 82L469.75 82.02L470.01 82.1L470.26 82.22L470.52 82.39L470.77 82.61L471.02 82.87L471.28 83.18L471.53 83.53L471.79 83.93L472.04 84.37L472.29 84.85L472.55 85.36L472.8 85.91L473.06 86.5L473.31 87.11L473.56 87.76L473.82 88.43L474.07 89.12L474.33 89.84L474.58 90.57L474.83 91.32L475.09 92.08L475.34 92.85L475.6 93.62L475.85 94.4L476.1 95.18L476.36 95.95L476.61 96.72L476.87 97.48L477.12 98.23L477.37 98.96L477.63 99.68L477.88 100.37L478.14 101.04L478.39 101.69L478.64 102.3L478.9 102.89L479.15 103.44L479.41 103.95L479.66 104.43L479.91 104.87L480.17 105.27L480.42 105.62L480.68 105.93L480.93 106.19L481.18 106.41L481.44 106.58L481.69 106.7L481.95 106.78L482.2 106.8L482.45 106.78L482.7 106.72L482.95 106.62L483.2 106.48L483.45 106.31L483.71 106.09L483.96 105.84L484.21 105.55L484.46 105.22L484.71 104.86L484.96 104.47L485.21 104.04L485.46 103.59L485.71 103.1L485.96 102.59L486.21 102.05L486.47 101.49L486.72 100.9L486.97 100.29L487.22 99.67L487.47 99.03L487.72 98.37L487.97 97.7L488.22 97.02L488.47 96.34L488.72 95.64L488.97 94.95L489.23 94.25L489.48 93.56L489.73 92.86L489.98 92.18L490.23 91.5L490.48 90.83L490.73 90.17L490.98 89.53L491.23 88.91L491.48 88.3L491.73 87.71L491.99 87.15L492.24 86.61L492.49 86.1L492.74 85.61L492.99 85.16L493.24 84.73L493.49 84.34L493.74 83.98L493.99 83.65L494.24 83.36L494.49 83.11L494.75 82.89L495 82.72L495.25 82.58L495.5 82.48L495.75 82.42L496 82.4L496.25 82.42L496.51 82.49L496.76 82.61L497.02 82.78L497.27 82.98L497.52 83.24L497.78 83.54L498.03 83.88L498.29 84.26L498.54 84.68L498.79 85.14L499.05 85.64L499.3 86.17L499.56 86.73L499.81 87.33L500.06 87.95L500.32 88.59L500.57 89.26L500.83 89.95L501.08 90.66L501.33 91.38L501.59 92.11L501.84 92.85L502.1 93.6L502.35 94.35L502.6 95.1L502.86 95.85L503.11 96.59L503.37 97.32L503.62 98.04L503.87 98.75L504.13 99.44L504.38 100.11L504.64 100.75L504.89 101.37L505.14 101.97L505.4 102.53L505.65 103.06L505.91 103.56L506.16 104.02L506.41 104.44L506.67 104.82L506.92 105.16L507.18 105.46L507.43 105.72L507.68 105.92L507.94 106.09L508.19 106.21L508.45 106.28L508.7 106.3" stroke="#1f66e0" stroke-width="1.2" fill="none" stroke-linejoin="round" />
<path d="M228 331.1L228.25 331.1L228.5 331.12L228.75 331.14L229 331.17L229.25 331.21L229.5 331.26L229.75 331.32L230 331.38L230.25 331.46L230.5 331.54L230.75 331.63L231 331.72L231.25 331.83L231.5 331.94L231.75 332.05L232 332.18L232.25 332.3L232.5 332.44L232.75 332.58L233 332.72L233.25 332.87L233.5 333.02L233.75 333.18L234 333.33L234.25 333.49L234.5 333.66L234.75 333.82L235 333.98L235.25 334.15L235.5 334.32L235.75 334.48L236 334.64L236.25 334.81L236.5 334.97L236.75 335.12L237 335.28L237.25 335.43L237.5 335.58L237.75 335.72L238 335.86L238.25 336L238.5 336.12L238.75 336.25L239 336.36L239.25 336.47L239.5 336.58L239.75 336.67L240 336.76L240.25 336.84L240.5 336.92L240.75 336.98L241 337.04L241.25 337.09L241.5 337.13L241.75 337.16L242 337.18L242.25 337.2L242.5 337.2L242.75 337.2L243 337.19L243.25 337.17L243.5 337.15L243.75 337.13L244 337.1L244.25 337.06L244.5 337.02L244.75 336.97L245 336.92L245.25 336.86L245.5 336.8L245.75 336.73L246 336.66L246.25 336.58L246.5 336.49L246.75 336.4L247 336.31L247.25 336.21L247.5 336.11L247.75 336L248 335.89L248.25 335.77L248.5 335.65L248.75 335.52L249 335.39L249.25 335.26L249.5 335.12L249.75 334.98L250 334.84L250.25 334.69L250.5 334.54L250.75 334.38L251 334.23L251.25 334.06L251.5 333.9L251.75 333.74L252 333.57L252.25 333.4L252.5 333.23L252.75 333.05L253 332.88L253.25 332.7L253.5 332.52L253.75 332.34L254 332.16L254.25 331.98L254.5 331.8L254.75 331.62L255 331.43L255.25 331.25L255.5 331.07L255.75 330.88L256 330.7L256.25 330.52L256.5 330.34L256.75 330.16L257 329.98L257.25 329.8L257.5 329.62L257.75 329.45L258 329.27L258.25 329.1L258.5 328.93L258.75 328.76L259 328.6L259.25 328.44L259.5 328.28L259.75 328.12L260 327.96L260.25 327.81L260.5 327.66L260.75 327.52L261 327.38L261.25 327.24L261.5 327.11L261.75 326.98L262 326.85L262.25 326.73L262.5 326.61L262.75 326.5L263 326.39L263.25 326.29L263.5 326.19L263.75 326.1L264 326.01L264.25 325.92L264.5 325.84L264.75 325.77L265 325.7L265.25 325.64L265.5 325.58L265.75 325.53L266 325.48L266.25 325.44L266.5 325.4L266.75 325.37L267 325.35L267.25 325.33L267.5 325.31L267.75 325.3L268 325.3L268.25 325.3L268.5 325.31L268.75 325.32L269 325.33L269.25 325.35L269.5 325.36L269.75 325.39L270 325.42L270.25 325.45L270.5 325.48L270.75 325.52L271 325.56L271.25 325.6L271.5 325.65L271.75 325.7L272 325.76L272.25 325.81L272.5 325.87L272.75 325.94L273 326.01L273.25 326.08L273.5 326.15L273.75 326.22L274 326.3L274.25 326.39L274.5 326.47L274.75 326.56L275 326.65L275.25 326.74L275.5 326.83L275.75 326.93L276 327.03L276.25 327.13L276.5 327.24L276.75 327.34L277 327.45L277.25 327.56L277.5 327.67L277.75 327.79L278 327.9L278.25 328.02L278.5 328.14L278.75 328.26L279 328.38L279.25 328.5L279.5 328.63L279.75 328.75L280 328.88L280.25 329L280.5 329.13L280.75 329.26L281 329.38L281.25 329.51L281.5 329.64L281.75 329.77L282 329.9L282.25 330.03L282.5 330.16L282.75 330.29L283 330.42L283.25 330.54L283.5 330.67L283.75 330.8L284 330.92L284.25 331.05L284.5 331.17L284.75 331.3L285 331.42L285.25 331.54L285.5 331.66L285.75 331.78L286 331.9L286.25 332.01L286.5 332.13L286.75 332.24L287 332.35L287.25 332.46L287.5 332.56L287.75 332.67L288 332.77L288.25 332.87L288.5 332.97L288.75 333.06L289 333.15L289.25 333.24L289.5 333.33L289.75 333.41L290 333.5L290.25 333.58L290.5 333.65L290.75 333.72L291 333.79L291.25 333.86L291.5 333.93L291.75 333.99L292 334.04L292.25 334.1L292.5 334.15L292.75 334.2L293 334.24L293.25 334.28L293.5 334.32L293.75 334.35L294 334.38L294.25 334.41L294.5 334.44L294.75 334.45L295 334.47L295.25 334.48L295.5 334.49L295.75 334.5L296 334.5L296.25 334.5L296.5 334.5L296.75 334.49L297 334.48L297.26 334.47L297.51 334.46L297.76 334.44L298.01 334.42L298.26 334.4L298.51 334.38L298.76 334.35L299.01 334.33L299.27 334.3L299.52 334.26L299.77 334.23L300.02 334.19L300.27 334.15L300.52 334.11L300.77 334.07L301.02 334.03L301.28 333.98L301.53 333.93L301.78 333.88L302.03 333.82L302.28 333.77L302.53 333.71L302.78 333.65L303.03 333.59L303.29 333.53L303.54 333.46L303.79 333.4L304.04 333.33L304.29 333.26L304.54 333.19L304.79 333.11L305.04 333.04L305.3 332.96L305.55 332.89L305.8 332.81L306.05 332.73L306.3 332.65L306.55 332.56L306.8 332.48L307.05 332.4L307.31 332.31L307.56 332.22L307.81 332.14L308.06 332.05L308.31 331.96L308.56 331.87L308.81 331.78L309.06 331.69L309.32 331.6L309.57 331.5L309.82 331.41L310.07 331.32L310.32 331.23L310.57 331.13L310.82 331.04L311.07 330.95L311.33 330.85L311.58 330.76L311.83 330.67L312.08 330.57L312.33 330.48L312.58 330.39L312.83 330.3L313.08 330.2L313.34 330.11L313.59 330.02L313.84 329.93L314.09 329.84L314.34 329.75L314.59 329.66L314.84 329.58L315.09 329.49L315.35 329.4L315.6 329.32L315.85 329.24L316.1 329.15L316.35 329.07L316.6 328.99L316.85 328.91L317.1 328.84L317.36 328.76L317.61 328.69L317.86 328.61L318.11 328.54L318.36 328.47L318.61 328.4L318.86 328.34L319.11 328.27L319.37 328.21L319.62 328.15L319.87 328.09L320.12 328.03L320.37 327.98L320.62 327.92L320.87 327.87L321.12 327.82L321.38 327.77L321.63 327.73L321.88 327.69L322.13 327.65L322.38 327.61L322.63 327.57L322.88 327.54L323.13 327.5L323.39 327.47L323.64 327.45L323.89 327.42L324.14 327.4L324.39 327.38L324.64 327.36L324.89 327.34L325.14 327.33L325.4 327.32L325.65 327.31L325.9 327.3L326.15 327.3L326.4 327.3L326.65 327.3L326.9 327.31L327.15 327.31L327.4 327.32L327.65 327.33L327.91 327.35L328.16 327.36L328.41 327.38L328.66 327.4L328.91 327.43L329.16 327.46L329.41 327.48L329.66 327.52L329.91 327.55L330.16 327.59L330.42 327.63L330.67 327.67L330.92 327.71L331.17 327.76L331.42 327.8L331.67 327.85L331.92 327.91L332.17 327.96L332.42 328.02L332.67 328.07L332.92 328.13L333.18 328.2L333.43 328.26L333.68 328.32L333.93 328.39L334.18 328.46L334.43 328.53L334.68 328.6L334.93 328.68L335.18 328.75L335.43 328.83L335.68 328.9L335.94 328.98L336.19 329.06L336.44 329.14L336.69 329.22L336.94 329.31L337.19 329.39L337.44 329.47L337.69 329.56L337.94 329.64L338.19 329.73L338.45 329.81L338.7 329.9L338.95 329.99L339.2 330.08L339.45 330.16L339.7 330.25L339.95 330.34L340.2 330.42L340.45 330.51L340.7 330.6L340.95 330.69L341.21 330.77L341.46 330.86L341.71 330.94L341.96 331.03L342.21 331.11L342.46 331.19L342.71 331.28L342.96 331.36L343.21 331.44L343.46 331.52L343.72 331.6L343.97 331.67L344.22 331.75L344.47 331.82L344.72 331.9L344.97 331.97L345.22 332.04L345.47 332.11L345.72 332.18L345.97 332.24L346.22 332.3L346.48 332.37L346.73 332.43L346.98 332.48L347.23 332.54L347.48 332.59L347.73 332.65L347.98 332.7L348.23 332.74L348.48 332.79L348.73 332.83L348.98 332.87L349.24 332.91L349.49 332.95L349.74 332.98L349.99 333.02L350.24 333.04L350.49 333.07L350.74 333.1L350.99 333.12L351.24 333.14L351.49 333.15L351.75 333.17L352 333.18L352.25 333.19L352.5 333.19L352.75 333.2L353 333.2L353.25 333.2L353.5 333.2L353.75 333.19L354.01 333.19L354.26 333.18L354.51 333.17L354.76 333.16L355.01 333.15L355.26 333.13L355.51 333.12L355.76 333.1L356.02 333.08L356.27 333.06L356.52 333.04L356.77 333.01L357.02 332.99L357.27 332.96L357.52 332.94L357.78 332.91L358.03 332.88L358.28 332.85L358.53 332.81L358.78 332.78L359.03 332.75L359.28 332.71L359.54 332.68L359.79 332.64L360.04 332.6L360.29 332.57L360.54 332.53L360.79 332.49L361.04 332.45L361.29 332.41L361.55 332.37L361.8 332.33L362.05 332.29L362.3 332.25L362.55 332.21L362.8 332.17L363.05 332.13L363.31 332.09L363.56 332.05L363.81 332.01L364.06 331.97L364.31 331.93L364.56 331.9L364.81 331.86L365.06 331.82L365.32 331.79L365.57 331.75L365.82 331.72L366.07 331.69L366.32 331.65L366.57 331.62L366.82 331.59L367.08 331.56L367.33 331.54L367.58 331.51L367.83 331.49L368.08 331.46L368.33 331.44L368.58 331.42L368.84 331.4L369.09 331.38L369.34 331.37L369.59 331.35L369.84 331.34L370.09 331.33L370.34 331.32L370.59 331.31L370.85 331.31L371.1 331.3L371.35 331.3L371.6 331.3" stroke="#505050" stroke-width="1.15" fill="none" stroke-linejoin="round" />
<path d="M228 314.8L228.25 314.84L228.5 314.96L228.76 315.16L229.01 315.43L229.26 315.78L229.51 316.21L229.76 316.72L230.02 317.29L230.27 317.94L230.52 318.65L230.77 319.43L231.02 320.27L231.28 321.17L231.53 322.13L231.78 323.14L232.03 324.19L232.28 325.3L232.53 326.44L232.79 327.62L233.04 328.84L233.29 330.08L233.54 331.34L233.79 332.63L234.05 333.93L234.3 335.24L234.55 336.55L234.8 337.86L235.05 339.17L235.31 340.47L235.56 341.76L235.81 343.02L236.06 344.26L236.31 345.48L236.57 346.66L236.82 347.8L237.07 348.91L237.32 349.96L237.57 350.97L237.82 351.93L238.08 352.83L238.33 353.67L238.58 354.45L238.83 355.16L239.08 355.81L239.34 356.38L239.59 356.89L239.84 357.32L240.09 357.67L240.34 357.94L240.6 358.14L240.85 358.26L241.1 358.3L241.35 358.28L241.6 358.2L241.86 358.08L242.11 357.92L242.36 357.7L242.61 357.44L242.86 357.13L243.12 356.78L243.37 356.38L243.62 355.94L243.87 355.45L244.12 354.92L244.38 354.35L244.63 353.74L244.88 353.09L245.13 352.39L245.38 351.67L245.64 350.9L245.89 350.1L246.14 349.27L246.39 348.4L246.64 347.51L246.9 346.58L247.15 345.63L247.4 344.65L247.65 343.65L247.9 342.62L248.16 341.58L248.41 340.52L248.66 339.44L248.91 338.34L249.16 337.23L249.42 336.12L249.67 334.99L249.92 333.85L250.17 332.71L250.42 331.57L250.68 330.43L250.93 329.29L251.18 328.15L251.43 327.01L251.68 325.88L251.94 324.77L252.19 323.66L252.44 322.56L252.69 321.48L252.94 320.42L253.2 319.38L253.45 318.35L253.7 317.35L253.95 316.37L254.2 315.42L254.46 314.49L254.71 313.6L254.96 312.73L255.21 311.9L255.46 311.1L255.72 310.33L255.97 309.61L256.22 308.91L256.47 308.26L256.72 307.65L256.98 307.08L257.23 306.55L257.48 306.06L257.73 305.62L257.98 305.22L258.24 304.87L258.49 304.56L258.74 304.3L258.99 304.08L259.24 303.92L259.5 303.8L259.75 303.72L260 303.7L260.25 303.73L260.51 303.8L260.76 303.93L261.01 304.11L261.26 304.35L261.52 304.63L261.77 304.96L262.02 305.35L262.27 305.78L262.53 306.26L262.78 306.78L263.03 307.36L263.29 307.98L263.54 308.64L263.79 309.34L264.04 310.09L264.3 310.87L264.55 311.7L264.8 312.56L265.06 313.45L265.31 314.38L265.56 315.34L265.81 316.33L266.07 317.35L266.32 318.39L266.57 319.46L266.82 320.55L267.08 321.66L267.33 322.79L267.58 323.93L267.84 325.09L268.09 326.26L268.34 327.44L268.59 328.62L268.85 329.81L269.1 331L269.35 332.19L269.61 333.38L269.86 334.56L270.11 335.74L270.36 336.91L270.62 338.07L270.87 339.21L271.12 340.34L271.38 341.45L271.63 342.54L271.88 343.61L272.13 344.65L272.39 345.67L272.64 346.66L272.89 347.62L273.14 348.55L273.4 349.44L273.65 350.3L273.9 351.13L274.16 351.91L274.41 352.66L274.66 353.36L274.91 354.02L275.17 354.64L275.42 355.22L275.67 355.74L275.93 356.22L276.18 356.65L276.43 357.04L276.68 357.37L276.94 357.65L277.19 357.89L277.44 358.07L277.69 358.2L277.95 358.27L278.2 358.3L278.45 358.28L278.7 358.21L278.95 358.1L279.2 357.94L279.45 357.73L279.7 357.49L279.95 357.19L280.21 356.86L280.46 356.48L280.71 356.06L280.96 355.6L281.21 355.09L281.46 354.55L281.71 353.97L281.96 353.35L282.21 352.69L282.46 351.99L282.71 351.26L282.96 350.5L283.21 349.7L283.46 348.88L283.71 348.02L283.96 347.14L284.22 346.22L284.47 345.29L284.72 344.33L284.97 343.34L285.22 342.34L285.47 341.32L285.72 340.28L285.97 339.22L286.22 338.16L286.47 337.07L286.72 335.98L286.97 334.89L287.22 333.78L287.47 332.67L287.72 331.56L287.98 330.44L288.23 329.33L288.48 328.22L288.73 327.11L288.98 326.02L289.23 324.93L289.48 323.84L289.73 322.78L289.98 321.72L290.23 320.68L290.48 319.66L290.73 318.66L290.98 317.67L291.23 316.71L291.48 315.78L291.74 314.86L291.99 313.98L292.24 313.12L292.49 312.3L292.74 311.5L292.99 310.74L293.24 310.01L293.49 309.31L293.74 308.65L293.99 308.03L294.24 307.45L294.49 306.91L294.74 306.4L294.99 305.94L295.24 305.52L295.49 305.14L295.75 304.81L296 304.51L296.25 304.27L296.5 304.06L296.75 303.9L297 303.79L297.25 303.72L297.5 303.7L297.75 303.72L298.01 303.8L298.26 303.92L298.51 304.09L298.76 304.31L299.02 304.58L299.27 304.9L299.52 305.26L299.77 305.67L300.03 306.12L300.28 306.62L300.53 307.17L300.79 307.75L301.04 308.38L301.29 309.05L301.54 309.76L301.8 310.51L302.05 311.29L302.3 312.11L302.55 312.96L302.81 313.85L303.06 314.77L303.31 315.71L303.56 316.69L303.82 317.69L304.07 318.71L304.32 319.76L304.58 320.82L304.83 321.91L305.08 323.01L305.33 324.12L305.59 325.25L305.84 326.39L306.09 327.53L306.34 328.68L306.6 329.84L306.85 331L307.1 332.16L307.36 333.32L307.61 334.47L307.86 335.61L308.11 336.75L308.37 337.88L308.62 338.99L308.87 340.09L309.12 341.18L309.38 342.24L309.63 343.29L309.88 344.31L310.14 345.31L310.39 346.29L310.64 347.23L310.89 348.15L311.15 349.04L311.4 349.89L311.65 350.71L311.9 351.49L312.16 352.24L312.41 352.95L312.66 353.62L312.91 354.25L313.17 354.83L313.42 355.38L313.67 355.88L313.93 356.33L314.18 356.74L314.43 357.1L314.68 357.42L314.94 357.69L315.19 357.91L315.44 358.08L315.69 358.2L315.95 358.28L316.2 358.3L316.45 358.28L316.7 358.2L316.96 358.08L317.21 357.92L317.46 357.7L317.71 357.44L317.96 357.13L318.22 356.78L318.47 356.38L318.72 355.94L318.97 355.45L319.22 354.92L319.48 354.35L319.73 353.74L319.98 353.09L320.23 352.39L320.48 351.67L320.74 350.9L320.99 350.1L321.24 349.27L321.49 348.4L321.74 347.51L322 346.58L322.25 345.63L322.5 344.65L322.75 343.65L323 342.62L323.26 341.58L323.51 340.52L323.76 339.44L324.01 338.34L324.26 337.23L324.52 336.12L324.77 334.99L325.02 333.85L325.27 332.71L325.52 331.57L325.78 330.43L326.03 329.29L326.28 328.15L326.53 327.01L326.78 325.88L327.04 324.77L327.29 323.66L327.54 322.56L327.79 321.48L328.04 320.42L328.3 319.38L328.55 318.35L328.8 317.35L329.05 316.37L329.3 315.42L329.56 314.49L329.81 313.6L330.06 312.73L330.31 311.9L330.56 311.1L330.82 310.33L331.07 309.61L331.32 308.91L331.57 308.26L331.82 307.65L332.08 307.08L332.33 306.55L332.58 306.06L332.83 305.62L333.08 305.22L333.34 304.87L333.59 304.56L333.84 304.3L334.09 304.08L334.34 303.92L334.6 303.8L334.85 303.72L335.1 303.7L335.35 303.73L335.6 303.8L335.86 303.93L336.11 304.1L336.36 304.33L336.61 304.61L336.86 304.93L337.12 305.3L337.37 305.72L337.62 306.19L337.87 306.7L338.12 307.26L338.38 307.86L338.63 308.51L338.88 309.19L339.13 309.92L339.38 310.69L339.64 311.49L339.89 312.33L340.14 313.2L340.39 314.11L340.65 315.05L340.9 316.02L341.15 317.01L341.4 318.03L341.65 319.08L341.91 320.15L342.16 321.23L342.41 322.34L342.66 323.46L342.91 324.6L343.17 325.75L343.42 326.9L343.67 328.07L343.92 329.24L344.17 330.41L344.43 331.59L344.68 332.76L344.93 333.93L345.18 335.1L345.43 336.25L345.69 337.4L345.94 338.54L346.19 339.66L346.44 340.77L346.69 341.85L346.95 342.92L347.2 343.97L347.45 344.99L347.7 345.98L347.95 346.95L348.21 347.89L348.46 348.8L348.71 349.67L348.96 350.51L349.22 351.31L349.47 352.08L349.72 352.81L349.97 353.49L350.22 354.14L350.48 354.74L350.73 355.3L350.98 355.81L351.23 356.28L351.48 356.7L351.74 357.07L351.99 357.39L352.24 357.67L352.49 357.9L352.74 358.07L353 358.2L353.25 358.27L353.5 358.3L353.75 358.27L354 358.2L354.25 358.07L354.51 357.89L354.76 357.65L355.01 357.37L355.26 357.04L355.51 356.66L355.76 356.23L356.01 355.75L356.27 355.22L356.52 354.65L356.77 354.03L357.02 353.37L357.27 352.67L357.52 351.92L357.77 351.14L358.02 350.32L358.28 349.46L358.53 348.57L358.78 347.64L359.03 346.68L359.28 345.69L359.53 344.68L359.78 343.63L360.04 342.57L360.29 341.48L360.54 340.37L360.79 339.24L361.04 338.1L361.29 336.95L361.54 335.78L361.8 334.61L362.05 333.42L362.3 332.24L362.55 331.05L362.8 329.86L363.05 328.68L363.3 327.49L363.56 326.32L363.81 325.15L364.06 324L364.31 322.86L364.56 321.73L364.81 320.62L365.06 319.53L365.32 318.47L365.57 317.43L365.82 316.41L366.07 315.42L366.32 314.46L366.57 313.53L366.82 312.64L367.08 311.78L367.33 310.96L367.58 310.18L367.83 309.43L368.08 308.73L368.33 308.07L368.58 307.45L368.83 306.88L369.09 306.35L369.34 305.87L369.59 305.44L369.84 305.06L370.09 304.73L370.34 304.45L370.59 304.21L370.85 304.03L371.1 303.9L371.35 303.83L371.6 303.8" stroke="#dc9e12" stroke-width="1.45" fill="none" stroke-linejoin="round" stroke-dasharray="2.0 2.1"/>
<rect x="179.1" y="125.7" width="35.3" height="20.3" fill="none" stroke="#f6b4b4" stroke-width="0.9"/>
<rect x="443.3" y="129.1" width="34.4" height="13.2" fill="none" stroke="#f6b4b4" stroke-width="0.9"/>
<rect x="264.2" y="383.2" width="25.4" height="16.3" fill="none" stroke="#f6b4b4" stroke-width="0.9"/>
<path d="M197.5 124.6L193.88 117.29" stroke="#a0a0a0" stroke-width="0.75"/>
<path d="M191.7 112.9L195.44 116.51L192.31 118.07Z" fill="#111"/>
<path d="M458.5 126.9L451.95 116.18" stroke="#a0a0a0" stroke-width="0.75"/>
<path d="M449.4 112L453.45 115.27L450.46 117.09Z" fill="#111"/>
<path d="M276.8 381.8L284.48 367.52" stroke="#a0a0a0" stroke-width="0.75"/>
<path d="M286.8 363.2L286.02 368.34L282.94 366.69Z" fill="#111"/>
<path d="M72.4 29.3H93.5" stroke="#3c3c3c" stroke-width="1.5"/>
<path d="M72.4 40.9H93.5" stroke="#f03a3a" stroke-width="1.5"/>
<path d="M72.4 52.5H93.5" stroke="#1f66e0" stroke-width="1.5"/>
<text x="95.5" y="32.4" font-size="9.3" fill="#222" stroke="#222" stroke-width="0.15">No. 1: Maximum assembly clearance</text>
<text x="95.5" y="44" font-size="9.3" fill="#222" stroke="#222" stroke-width="0.15">No. 2: Radial clearance increases 0.01mm</text>
<text x="95.5" y="55.6" font-size="9.3" fill="#222" stroke="#222" stroke-width="0.15">No. 3: Radial clearance increases 0.02mm</text>
<path d="M342.6 22.9H365.8" stroke="#555" stroke-width="1.5"/>
<path d="M342.6 35.3H365.8" stroke="#f03a3a" stroke-width="1.5"/>
<path d="M342.6 47.6H365.8" stroke="#1f66e0" stroke-width="1.5"/>
<text x="368.1" y="26.3" font-size="10.1" fill="#222" stroke="#222" stroke-width="0.15">No.1: Maximum assembly clearance</text>
<text x="368.1" y="38.7" font-size="10.1" fill="#222" stroke="#222" stroke-width="0.15">No.4: Axial clearance increases 0.01mm</text>
<text x="368.1" y="51" font-size="10.1" fill="#222" stroke="#222" stroke-width="0.15">No.5: Axial clearance increases 0.02mm</text>
<path d="M210.7 253.5H234.2" stroke="#444" stroke-width="1.5"/>
<path d="M210.5 265.8H234.2" stroke="#dc9e12" stroke-width="1.7" stroke-dasharray="3.6 2.9"/>
<text x="236.2" y="256.9" font-size="10.1" fill="#222" stroke="#222" stroke-width="0.15">No.1: Maximum assembly clearance</text>
<text x="236.2" y="269.1" font-size="10.1" fill="#222" stroke="#222" stroke-width="0.15">No.6: Increase 0.01mm in both radial</text>
<text x="261.6" y="281.2" font-size="10.1" fill="#222" stroke="#222" stroke-width="0.15">and axial clearance</text>
<rect x="41.5" y="9.1" width="221.9" height="178" fill="none" stroke="#3a3a3a" stroke-width="1.1"/>
<rect x="321.7" y="8.9" width="221.3" height="177.8" fill="none" stroke="#3a3a3a" stroke-width="1.1"/>
<rect x="169.3" y="241.6" width="241.6" height="194.7" fill="none" stroke="#3a3a3a" stroke-width="1.1"/>
</g>
</svg></body></html>
